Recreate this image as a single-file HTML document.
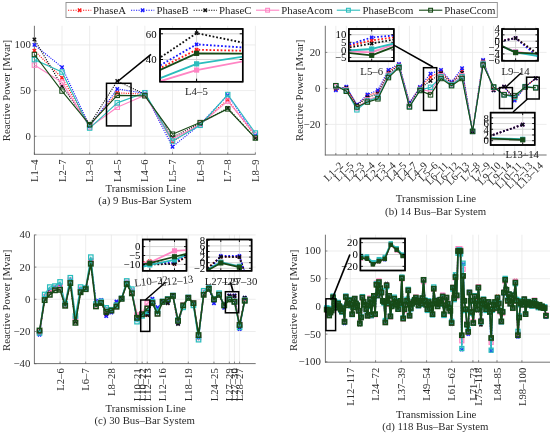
<!DOCTYPE html>
<html><head><meta charset="utf-8"><title>Reactive Power</title>
<style>html,body{margin:0;padding:0;background:#fff}svg{display:block;filter:blur(0.35px)}text{font-family:"Liberation Serif",serif}</style>
</head><body>
<svg width="550" height="435" viewBox="0 0 550 435">
<rect x="0" y="0" width="550" height="435" fill="#fff"/>
<rect x="66" y="2.5" width="431.3" height="15" fill="#fff" stroke="#8c8c8c" stroke-width="0.9"/>
<polyline points="68,10.2 91.3,10.2" fill="none" stroke="#ff1a1a" stroke-width="1.1" stroke-linejoin="round" stroke-dasharray="1.2 1.3"/>
<path d="M77.9 8.5L81.3 11.9M77.9 11.9L81.3 8.5" stroke="#ff1a1a" stroke-width="1.4" fill="none"/>
<text x="93" y="13.9" text-anchor="start" font-size="10.8" fill="#222">PhaseA</text>
<polyline points="131,10.2 154.3,10.2" fill="none" stroke="#1a1aff" stroke-width="1.1" stroke-linejoin="round" stroke-dasharray="1.2 1.3"/>
<path d="M140.9 8.5L144.3 11.9M140.9 11.9L144.3 8.5" stroke="#1a1aff" stroke-width="1.4" fill="none"/>
<text x="156.4" y="13.9" text-anchor="start" font-size="10.8" fill="#222">PhaseB</text>
<polyline points="193.6,10.2 216.9,10.2" fill="none" stroke="#111111" stroke-width="1.1" stroke-linejoin="round" stroke-dasharray="1.2 1.3"/>
<path d="M203.5 8.5L206.9 11.9M203.5 11.9L206.9 8.5" stroke="#111111" stroke-width="1.4" fill="none"/>
<text x="219" y="13.9" text-anchor="start" font-size="10.8" fill="#222">PhaseC</text>
<polyline points="256,10.2 279.3,10.2" fill="none" stroke="#ff85c4" stroke-width="1.1" stroke-linejoin="round"/>
<rect x="265.7" y="8.3" width="3.8" height="3.8" stroke="#ff85c4" stroke-width="1.1" fill="none"/>
<text x="281.3" y="13.9" text-anchor="start" font-size="10.8" fill="#222">PhaseAcom</text>
<polyline points="336.8,10.2 360.1,10.2" fill="none" stroke="#2bbdbd" stroke-width="1.1" stroke-linejoin="round"/>
<rect x="346.5" y="8.3" width="3.8" height="3.8" stroke="#2bbdbd" stroke-width="1.1" fill="none"/>
<text x="362.5" y="13.9" text-anchor="start" font-size="10.8" fill="#222">PhaseBcom</text>
<polyline points="419,10.2 442.3,10.2" fill="none" stroke="#174a17" stroke-width="1.1" stroke-linejoin="round"/>
<rect x="428.7" y="8.3" width="3.8" height="3.8" stroke="#174a17" stroke-width="1.1" fill="none"/>
<text x="444.3" y="13.9" text-anchor="start" font-size="10.8" fill="#222">PhaseCcom</text>
<line x1="62.02" y1="25.8" x2="62.02" y2="154.3" stroke="#e9e9e9" stroke-width="0.8"/>
<line x1="89.64" y1="25.8" x2="89.64" y2="154.3" stroke="#e9e9e9" stroke-width="0.8"/>
<line x1="117.26" y1="25.8" x2="117.26" y2="154.3" stroke="#e9e9e9" stroke-width="0.8"/>
<line x1="144.88" y1="25.8" x2="144.88" y2="154.3" stroke="#e9e9e9" stroke-width="0.8"/>
<line x1="172.5" y1="25.8" x2="172.5" y2="154.3" stroke="#e9e9e9" stroke-width="0.8"/>
<line x1="200.12" y1="25.8" x2="200.12" y2="154.3" stroke="#e9e9e9" stroke-width="0.8"/>
<line x1="227.74" y1="25.8" x2="227.74" y2="154.3" stroke="#e9e9e9" stroke-width="0.8"/>
<line x1="255.36" y1="25.8" x2="255.36" y2="154.3" stroke="#e9e9e9" stroke-width="0.8"/>
<line x1="34.4" y1="136.3" x2="255.5" y2="136.3" stroke="#e9e9e9" stroke-width="0.8"/>
<line x1="34.4" y1="90.6" x2="255.5" y2="90.6" stroke="#e9e9e9" stroke-width="0.8"/>
<line x1="34.4" y1="44.9" x2="255.5" y2="44.9" stroke="#e9e9e9" stroke-width="0.8"/>
<text x="30.8" y="139.7" text-anchor="end" font-size="10.8" fill="#2a2a2a">0</text>
<line x1="34.4" y1="136.3" x2="36.4" y2="136.3" stroke="#5a5a5a" stroke-width="0.7"/>
<text x="30.8" y="94" text-anchor="end" font-size="10.8" fill="#2a2a2a">50</text>
<line x1="34.4" y1="90.6" x2="36.4" y2="90.6" stroke="#5a5a5a" stroke-width="0.7"/>
<text x="30.8" y="48.3" text-anchor="end" font-size="10.8" fill="#2a2a2a">100</text>
<line x1="34.4" y1="44.9" x2="36.4" y2="44.9" stroke="#5a5a5a" stroke-width="0.7"/>
<text transform="translate(9.6 90.5) rotate(-90)" text-anchor="middle" font-size="10.8" fill="#2a2a2a">Reactive Power [Mvar]</text>
<text transform="translate(38 159.5) rotate(-90)" text-anchor="end" font-size="10.6" fill="#2a2a2a">L1–4</text>
<text transform="translate(65.62 159.5) rotate(-90)" text-anchor="end" font-size="10.6" fill="#2a2a2a">L2–7</text>
<text transform="translate(93.24 159.5) rotate(-90)" text-anchor="end" font-size="10.6" fill="#2a2a2a">L3–9</text>
<text transform="translate(120.86 159.5) rotate(-90)" text-anchor="end" font-size="10.6" fill="#2a2a2a">L4–5</text>
<text transform="translate(148.48 159.5) rotate(-90)" text-anchor="end" font-size="10.6" fill="#2a2a2a">L4–6</text>
<text transform="translate(176.1 159.5) rotate(-90)" text-anchor="end" font-size="10.6" fill="#2a2a2a">L5–7</text>
<text transform="translate(203.72 159.5) rotate(-90)" text-anchor="end" font-size="10.6" fill="#2a2a2a">L6–9</text>
<text transform="translate(231.34 159.5) rotate(-90)" text-anchor="end" font-size="10.6" fill="#2a2a2a">L7–8</text>
<text transform="translate(258.96 159.5) rotate(-90)" text-anchor="end" font-size="10.6" fill="#2a2a2a">L8–9</text>
<text x="145.7" y="192" text-anchor="middle" font-size="10.8" fill="#2a2a2a">Transmission Line</text>
<text x="145" y="204.4" text-anchor="middle" font-size="10.8" fill="#2a2a2a">(a) 9 Bus-Bar System</text>
<line x1="34.4" y1="25.8" x2="34.4" y2="154.7" stroke="#5a5a5a" stroke-width="0.85"/>
<line x1="34" y1="154.3" x2="255.5" y2="154.3" stroke="#5a5a5a" stroke-width="0.85"/>
<line x1="34.4" y1="154.3" x2="34.4" y2="152.3" stroke="#5a5a5a" stroke-width="0.7"/>
<line x1="62.02" y1="154.3" x2="62.02" y2="152.3" stroke="#5a5a5a" stroke-width="0.7"/>
<line x1="89.64" y1="154.3" x2="89.64" y2="152.3" stroke="#5a5a5a" stroke-width="0.7"/>
<line x1="117.26" y1="154.3" x2="117.26" y2="152.3" stroke="#5a5a5a" stroke-width="0.7"/>
<line x1="144.88" y1="154.3" x2="144.88" y2="152.3" stroke="#5a5a5a" stroke-width="0.7"/>
<line x1="172.5" y1="154.3" x2="172.5" y2="152.3" stroke="#5a5a5a" stroke-width="0.7"/>
<line x1="200.12" y1="154.3" x2="200.12" y2="152.3" stroke="#5a5a5a" stroke-width="0.7"/>
<line x1="227.74" y1="154.3" x2="227.74" y2="152.3" stroke="#5a5a5a" stroke-width="0.7"/>
<line x1="255.36" y1="154.3" x2="255.36" y2="152.3" stroke="#5a5a5a" stroke-width="0.7"/>
<polyline points="34.4,50.66 62.02,77.8 89.64,125.33 117.26,92.79 144.88,94.26 172.5,141.78 200.12,123.5 227.74,99.74 255.36,136.3" fill="none" stroke="#ff1a1a" stroke-width="1.15" stroke-linejoin="round" stroke-dasharray="1.09 1.21"/>
<path d="M32.7 48.96L36.1 52.36M32.7 52.36L36.1 48.96" stroke="#ff1a1a" stroke-width="1.37" fill="none"/>
<path d="M60.32 76.1L63.72 79.5M60.32 79.5L63.72 76.1" stroke="#ff1a1a" stroke-width="1.37" fill="none"/>
<path d="M87.94 123.63L91.34 127.03M87.94 127.03L91.34 123.63" stroke="#ff1a1a" stroke-width="1.37" fill="none"/>
<path d="M115.56 91.09L118.96 94.49M115.56 94.49L118.96 91.09" stroke="#ff1a1a" stroke-width="1.37" fill="none"/>
<path d="M143.18 92.56L146.58 95.96M143.18 95.96L146.58 92.56" stroke="#ff1a1a" stroke-width="1.37" fill="none"/>
<path d="M170.8 140.08L174.2 143.48M170.8 143.48L174.2 140.08" stroke="#ff1a1a" stroke-width="1.37" fill="none"/>
<path d="M198.42 121.8L201.82 125.2M198.42 125.2L201.82 121.8" stroke="#ff1a1a" stroke-width="1.37" fill="none"/>
<path d="M226.04 98.04L229.44 101.44M226.04 101.44L229.44 98.04" stroke="#ff1a1a" stroke-width="1.37" fill="none"/>
<path d="M253.66 134.6L257.06 138M253.66 138L257.06 134.6" stroke="#ff1a1a" stroke-width="1.37" fill="none"/>
<polyline points="34.4,44.9 62.02,67.2 89.64,126.25 117.26,88.95 144.88,93.34 172.5,146.72 200.12,124.42 227.74,95.17 255.36,135.39" fill="none" stroke="#1a1aff" stroke-width="1.15" stroke-linejoin="round" stroke-dasharray="1.09 1.21"/>
<path d="M32.7 43.2L36.1 46.6M32.7 46.6L36.1 43.2" stroke="#1a1aff" stroke-width="1.37" fill="none"/>
<path d="M60.32 65.5L63.72 68.9M60.32 68.9L63.72 65.5" stroke="#1a1aff" stroke-width="1.37" fill="none"/>
<path d="M87.94 124.55L91.34 127.95M87.94 127.95L91.34 124.55" stroke="#1a1aff" stroke-width="1.37" fill="none"/>
<path d="M115.56 87.25L118.96 90.65M115.56 90.65L118.96 87.25" stroke="#1a1aff" stroke-width="1.37" fill="none"/>
<path d="M143.18 91.64L146.58 95.04M143.18 95.04L146.58 91.64" stroke="#1a1aff" stroke-width="1.37" fill="none"/>
<path d="M170.8 145.02L174.2 148.42M170.8 148.42L174.2 145.02" stroke="#1a1aff" stroke-width="1.37" fill="none"/>
<path d="M198.42 122.72L201.82 126.12M198.42 126.12L201.82 122.72" stroke="#1a1aff" stroke-width="1.37" fill="none"/>
<path d="M226.04 93.47L229.44 96.87M226.04 96.87L229.44 93.47" stroke="#1a1aff" stroke-width="1.37" fill="none"/>
<path d="M253.66 133.69L257.06 137.09M253.66 137.09L257.06 133.69" stroke="#1a1aff" stroke-width="1.37" fill="none"/>
<polyline points="34.4,39.42 62.02,86.03 89.64,124.42 117.26,81 144.88,94.26 172.5,137.21 200.12,123.5 227.74,107.97 255.36,138.13" fill="none" stroke="#111111" stroke-width="1.15" stroke-linejoin="round" stroke-dasharray="1.09 1.21"/>
<path d="M32.7 37.72L36.1 41.12M32.7 41.12L36.1 37.72" stroke="#111111" stroke-width="1.37" fill="none"/>
<path d="M60.32 84.33L63.72 87.73M60.32 87.73L63.72 84.33" stroke="#111111" stroke-width="1.37" fill="none"/>
<path d="M87.94 122.72L91.34 126.12M87.94 126.12L91.34 122.72" stroke="#111111" stroke-width="1.37" fill="none"/>
<path d="M115.56 79.3L118.96 82.7M115.56 82.7L118.96 79.3" stroke="#111111" stroke-width="1.37" fill="none"/>
<path d="M143.18 92.56L146.58 95.96M143.18 95.96L146.58 92.56" stroke="#111111" stroke-width="1.37" fill="none"/>
<path d="M170.8 135.51L174.2 138.91M170.8 138.91L174.2 135.51" stroke="#111111" stroke-width="1.37" fill="none"/>
<path d="M198.42 121.8L201.82 125.2M198.42 125.2L201.82 121.8" stroke="#111111" stroke-width="1.37" fill="none"/>
<path d="M226.04 106.27L229.44 109.67M226.04 109.67L229.44 106.27" stroke="#111111" stroke-width="1.37" fill="none"/>
<path d="M253.66 136.43L257.06 139.83M253.66 139.83L257.06 136.43" stroke="#111111" stroke-width="1.37" fill="none"/>
<polyline points="34.4,65.1 62.02,82.37 89.64,127.16 117.26,107.23 144.88,95.17 172.5,139.04 200.12,124.42 227.74,101.11 255.36,134.47" fill="none" stroke="#ff85c4" stroke-width="1.15" stroke-linejoin="round"/>
<rect x="32.2" y="62.9" width="4.4" height="4.4" stroke="#ff85c4" stroke-width="1.05" fill="none"/>
<rect x="59.82" y="80.17" width="4.4" height="4.4" stroke="#ff85c4" stroke-width="1.05" fill="none"/>
<rect x="87.44" y="124.96" width="4.4" height="4.4" stroke="#ff85c4" stroke-width="1.05" fill="none"/>
<rect x="115.06" y="105.03" width="4.4" height="4.4" stroke="#ff85c4" stroke-width="1.05" fill="none"/>
<rect x="142.68" y="92.97" width="4.4" height="4.4" stroke="#ff85c4" stroke-width="1.05" fill="none"/>
<rect x="170.3" y="136.84" width="4.4" height="4.4" stroke="#ff85c4" stroke-width="1.05" fill="none"/>
<rect x="197.92" y="122.22" width="4.4" height="4.4" stroke="#ff85c4" stroke-width="1.05" fill="none"/>
<rect x="225.54" y="98.91" width="4.4" height="4.4" stroke="#ff85c4" stroke-width="1.05" fill="none"/>
<rect x="253.16" y="132.27" width="4.4" height="4.4" stroke="#ff85c4" stroke-width="1.05" fill="none"/>
<polyline points="34.4,59.62 62.02,72.05 89.64,128.07 117.26,102.85 144.88,92.7 172.5,141.05 200.12,125.33 227.74,94.53 255.36,133.01" fill="none" stroke="#2bbdbd" stroke-width="1.15" stroke-linejoin="round"/>
<rect x="32.2" y="57.42" width="4.4" height="4.4" stroke="#2bbdbd" stroke-width="1.05" fill="none"/>
<rect x="59.82" y="69.85" width="4.4" height="4.4" stroke="#2bbdbd" stroke-width="1.05" fill="none"/>
<rect x="87.44" y="125.87" width="4.4" height="4.4" stroke="#2bbdbd" stroke-width="1.05" fill="none"/>
<rect x="115.06" y="100.65" width="4.4" height="4.4" stroke="#2bbdbd" stroke-width="1.05" fill="none"/>
<rect x="142.68" y="90.5" width="4.4" height="4.4" stroke="#2bbdbd" stroke-width="1.05" fill="none"/>
<rect x="170.3" y="138.85" width="4.4" height="4.4" stroke="#2bbdbd" stroke-width="1.05" fill="none"/>
<rect x="197.92" y="123.13" width="4.4" height="4.4" stroke="#2bbdbd" stroke-width="1.05" fill="none"/>
<rect x="225.54" y="92.33" width="4.4" height="4.4" stroke="#2bbdbd" stroke-width="1.05" fill="none"/>
<rect x="253.16" y="130.81" width="4.4" height="4.4" stroke="#2bbdbd" stroke-width="1.05" fill="none"/>
<polyline points="34.4,54.5 62.02,91.06 89.64,124.69 117.26,95.35 144.88,95.81 172.5,134.2 200.12,122.59 227.74,108.88 255.36,138.04" fill="none" stroke="#174a17" stroke-width="1.15" stroke-linejoin="round"/>
<rect x="32.2" y="52.3" width="4.4" height="4.4" stroke="#174a17" stroke-width="1.05" fill="none"/>
<rect x="59.82" y="88.86" width="4.4" height="4.4" stroke="#174a17" stroke-width="1.05" fill="none"/>
<rect x="87.44" y="122.49" width="4.4" height="4.4" stroke="#174a17" stroke-width="1.05" fill="none"/>
<rect x="115.06" y="93.15" width="4.4" height="4.4" stroke="#174a17" stroke-width="1.05" fill="none"/>
<rect x="142.68" y="93.61" width="4.4" height="4.4" stroke="#174a17" stroke-width="1.05" fill="none"/>
<rect x="170.3" y="132" width="4.4" height="4.4" stroke="#174a17" stroke-width="1.05" fill="none"/>
<rect x="197.92" y="120.39" width="4.4" height="4.4" stroke="#174a17" stroke-width="1.05" fill="none"/>
<rect x="225.54" y="106.68" width="4.4" height="4.4" stroke="#174a17" stroke-width="1.05" fill="none"/>
<rect x="253.16" y="135.84" width="4.4" height="4.4" stroke="#174a17" stroke-width="1.05" fill="none"/>
<rect x="106.5" y="83.3" width="24.5" height="42.6" stroke="#000" stroke-width="1.5" fill="none"/>
<line x1="117.6" y1="81.5" x2="151" y2="54.4" stroke="#000" stroke-width="1.6"/>
<rect x="160" y="28.9" width="82.7" height="52.8" stroke="#000" stroke-width="1.45" fill="#fff"/>
<clipPath id="ca"><rect x="160" y="28.9" width="82.7" height="52.8"/></clipPath>
<line x1="160" y1="33.8" x2="242.7" y2="33.8" stroke="#cfcfcf" stroke-width="0.9"/>
<line x1="160" y1="59.5" x2="242.7" y2="59.5" stroke="#cfcfcf" stroke-width="0.9"/>
<line x1="196.6" y1="28.9" x2="196.6" y2="81.7" stroke="#cfcfcf" stroke-width="0.9"/>
<g clip-path="url(#ca)">
<polyline points="105.7,95.48 196.6,49.73 287.5,51.79" fill="none" stroke="#ff1a1a" stroke-width="1.85" stroke-linejoin="round" stroke-dasharray="1.76 1.94"/>
<path d="M104.1 93.88L107.3 97.08M104.1 97.08L107.3 93.88" stroke="#ff1a1a" stroke-width="1.56" fill="none"/>
<path d="M195 48.13L198.2 51.33M195 51.33L198.2 48.13" stroke="#ff1a1a" stroke-width="1.56" fill="none"/>
<path d="M285.9 50.19L289.1 53.39M285.9 53.39L289.1 50.19" stroke="#ff1a1a" stroke-width="1.56" fill="none"/>
<polyline points="105.7,96.77 196.6,44.34 287.5,50.51" fill="none" stroke="#1a1aff" stroke-width="1.85" stroke-linejoin="round" stroke-dasharray="1.76 1.94"/>
<path d="M104.1 95.17L107.3 98.36M104.1 98.36L107.3 95.17" stroke="#1a1aff" stroke-width="1.56" fill="none"/>
<path d="M195 42.74L198.2 45.94M195 45.94L198.2 42.74" stroke="#1a1aff" stroke-width="1.56" fill="none"/>
<path d="M285.9 48.91L289.1 52.11M285.9 52.11L289.1 48.91" stroke="#1a1aff" stroke-width="1.56" fill="none"/>
<polyline points="105.7,94.19 196.6,33.16 287.5,51.79" fill="none" stroke="#111111" stroke-width="1.85" stroke-linejoin="round" stroke-dasharray="1.76 1.94"/>
<path d="M104.1 92.59L107.3 95.79M104.1 95.79L107.3 92.59" stroke="#111111" stroke-width="1.56" fill="none"/>
<path d="M195 31.56L198.2 34.76M195 34.76L198.2 31.56" stroke="#111111" stroke-width="1.56" fill="none"/>
<path d="M285.9 50.19L289.1 53.39M285.9 53.39L289.1 50.19" stroke="#111111" stroke-width="1.56" fill="none"/>
<polyline points="105.7,98.05 196.6,70.04 287.5,53.08" fill="none" stroke="#ff85c4" stroke-width="1.85" stroke-linejoin="round"/>
<rect x="103.7" y="96.05" width="4" height="4" stroke="#ff85c4" stroke-width="1.2" fill="#ff85c4"/>
<rect x="194.6" y="68.04" width="4" height="4" stroke="#ff85c4" stroke-width="1.2" fill="#ff85c4"/>
<rect x="285.5" y="51.08" width="4" height="4" stroke="#ff85c4" stroke-width="1.2" fill="#ff85c4"/>
<polyline points="105.7,99.34 196.6,63.87 287.5,49.61" fill="none" stroke="#2bbdbd" stroke-width="1.85" stroke-linejoin="round"/>
<rect x="103.7" y="97.34" width="4" height="4" stroke="#2bbdbd" stroke-width="1.2" fill="#2bbdbd"/>
<rect x="194.6" y="61.87" width="4" height="4" stroke="#2bbdbd" stroke-width="1.2" fill="#2bbdbd"/>
<rect x="285.5" y="47.61" width="4" height="4" stroke="#2bbdbd" stroke-width="1.2" fill="#2bbdbd"/>
<polyline points="105.7,94.58 196.6,53.33 287.5,53.97" fill="none" stroke="#174a17" stroke-width="1.85" stroke-linejoin="round"/>
<rect x="103.7" y="92.58" width="4" height="4" stroke="#174a17" stroke-width="1.2" fill="#174a17"/>
<rect x="194.6" y="51.33" width="4" height="4" stroke="#174a17" stroke-width="1.2" fill="#174a17"/>
<rect x="285.5" y="51.97" width="4" height="4" stroke="#174a17" stroke-width="1.2" fill="#174a17"/>
</g>
<rect x="160" y="28.9" width="82.7" height="52.8" stroke="#000" stroke-width="1.45" fill="none"/>
<line x1="196.6" y1="28.9" x2="196.6" y2="31.9" stroke="#000" stroke-width="1"/>
<line x1="196.6" y1="81.7" x2="196.6" y2="78.7" stroke="#000" stroke-width="1"/>
<line x1="160" y1="59.5" x2="163" y2="59.5" stroke="#000" stroke-width="1"/>
<line x1="242.7" y1="59.5" x2="239.7" y2="59.5" stroke="#000" stroke-width="1"/>
<line x1="160" y1="33.8" x2="163" y2="33.8" stroke="#000" stroke-width="1"/>
<line x1="242.7" y1="33.8" x2="239.7" y2="33.8" stroke="#000" stroke-width="1"/>
<text x="156.6" y="37.6" text-anchor="end" font-size="10.8" fill="#000">60</text>
<text x="156.6" y="63.3" text-anchor="end" font-size="10.8" fill="#000">40</text>
<text x="196.4" y="95" text-anchor="middle" font-size="10.8" fill="#222">L4–5</text>
<line x1="335.82" y1="25.8" x2="335.82" y2="155" stroke="#e9e9e9" stroke-width="0.8"/>
<line x1="346.34" y1="25.8" x2="346.34" y2="155" stroke="#e9e9e9" stroke-width="0.8"/>
<line x1="356.86" y1="25.8" x2="356.86" y2="155" stroke="#e9e9e9" stroke-width="0.8"/>
<line x1="367.38" y1="25.8" x2="367.38" y2="155" stroke="#e9e9e9" stroke-width="0.8"/>
<line x1="377.9" y1="25.8" x2="377.9" y2="155" stroke="#e9e9e9" stroke-width="0.8"/>
<line x1="388.42" y1="25.8" x2="388.42" y2="155" stroke="#e9e9e9" stroke-width="0.8"/>
<line x1="398.94" y1="25.8" x2="398.94" y2="155" stroke="#e9e9e9" stroke-width="0.8"/>
<line x1="409.46" y1="25.8" x2="409.46" y2="155" stroke="#e9e9e9" stroke-width="0.8"/>
<line x1="419.98" y1="25.8" x2="419.98" y2="155" stroke="#e9e9e9" stroke-width="0.8"/>
<line x1="430.5" y1="25.8" x2="430.5" y2="155" stroke="#e9e9e9" stroke-width="0.8"/>
<line x1="441.02" y1="25.8" x2="441.02" y2="155" stroke="#e9e9e9" stroke-width="0.8"/>
<line x1="451.54" y1="25.8" x2="451.54" y2="155" stroke="#e9e9e9" stroke-width="0.8"/>
<line x1="462.06" y1="25.8" x2="462.06" y2="155" stroke="#e9e9e9" stroke-width="0.8"/>
<line x1="472.58" y1="25.8" x2="472.58" y2="155" stroke="#e9e9e9" stroke-width="0.8"/>
<line x1="483.1" y1="25.8" x2="483.1" y2="155" stroke="#e9e9e9" stroke-width="0.8"/>
<line x1="493.62" y1="25.8" x2="493.62" y2="155" stroke="#e9e9e9" stroke-width="0.8"/>
<line x1="504.14" y1="25.8" x2="504.14" y2="155" stroke="#e9e9e9" stroke-width="0.8"/>
<line x1="514.66" y1="25.8" x2="514.66" y2="155" stroke="#e9e9e9" stroke-width="0.8"/>
<line x1="525.18" y1="25.8" x2="525.18" y2="155" stroke="#e9e9e9" stroke-width="0.8"/>
<line x1="535.7" y1="25.8" x2="535.7" y2="155" stroke="#e9e9e9" stroke-width="0.8"/>
<line x1="325.3" y1="52.4" x2="546.6" y2="52.4" stroke="#e9e9e9" stroke-width="0.8"/>
<line x1="325.3" y1="88.4" x2="546.6" y2="88.4" stroke="#e9e9e9" stroke-width="0.8"/>
<line x1="325.3" y1="124.4" x2="546.6" y2="124.4" stroke="#e9e9e9" stroke-width="0.8"/>
<text x="320.5" y="55.8" text-anchor="end" font-size="10.8" fill="#2a2a2a">20</text>
<line x1="325.3" y1="52.4" x2="327.3" y2="52.4" stroke="#5a5a5a" stroke-width="0.7"/>
<text x="320.5" y="91.8" text-anchor="end" font-size="10.8" fill="#2a2a2a">0</text>
<line x1="325.3" y1="88.4" x2="327.3" y2="88.4" stroke="#5a5a5a" stroke-width="0.7"/>
<text x="320.5" y="127.8" text-anchor="end" font-size="10.8" fill="#2a2a2a">−20</text>
<line x1="325.3" y1="124.4" x2="327.3" y2="124.4" stroke="#5a5a5a" stroke-width="0.7"/>
<text transform="translate(302.8 90.3) rotate(-90)" text-anchor="middle" font-size="10.8" fill="#2a2a2a">Reactive Power [Mvar]</text>
<text transform="translate(343.82 166.2) rotate(-45)" text-anchor="end" font-size="10.6" fill="#2a2a2a">L1–2</text>
<text transform="translate(354.34 166.2) rotate(-45)" text-anchor="end" font-size="10.6" fill="#2a2a2a">L1–5</text>
<text transform="translate(364.86 166.2) rotate(-45)" text-anchor="end" font-size="10.6" fill="#2a2a2a">L2–3</text>
<text transform="translate(375.38 166.2) rotate(-45)" text-anchor="end" font-size="10.6" fill="#2a2a2a">L2–4</text>
<text transform="translate(385.9 166.2) rotate(-45)" text-anchor="end" font-size="10.6" fill="#2a2a2a">L2–5</text>
<text transform="translate(396.42 166.2) rotate(-45)" text-anchor="end" font-size="10.6" fill="#2a2a2a">L3–4</text>
<text transform="translate(406.94 166.2) rotate(-45)" text-anchor="end" font-size="10.6" fill="#2a2a2a">L4–5</text>
<text transform="translate(417.46 166.2) rotate(-45)" text-anchor="end" font-size="10.6" fill="#2a2a2a">L4–7</text>
<text transform="translate(427.98 166.2) rotate(-45)" text-anchor="end" font-size="10.6" fill="#2a2a2a">L4–9</text>
<text transform="translate(438.5 166.2) rotate(-45)" text-anchor="end" font-size="10.6" fill="#2a2a2a">L5–6</text>
<text transform="translate(449.02 166.2) rotate(-45)" text-anchor="end" font-size="10.6" fill="#2a2a2a">L6–11</text>
<text transform="translate(459.54 166.2) rotate(-45)" text-anchor="end" font-size="10.6" fill="#2a2a2a">L6–12</text>
<text transform="translate(470.06 166.2) rotate(-45)" text-anchor="end" font-size="10.6" fill="#2a2a2a">L6–13</text>
<text transform="translate(480.58 166.2) rotate(-45)" text-anchor="end" font-size="10.6" fill="#2a2a2a">L7–8</text>
<text transform="translate(491.1 166.2) rotate(-45)" text-anchor="end" font-size="10.6" fill="#2a2a2a">L7–9</text>
<text transform="translate(501.62 166.2) rotate(-45)" text-anchor="end" font-size="10.6" fill="#2a2a2a">L9–10</text>
<text transform="translate(512.14 166.2) rotate(-45)" text-anchor="end" font-size="10.6" fill="#2a2a2a">L9–14</text>
<text transform="translate(522.66 166.2) rotate(-45)" text-anchor="end" font-size="10.6" fill="#2a2a2a">L10–11</text>
<text transform="translate(533.18 166.2) rotate(-45)" text-anchor="end" font-size="10.6" fill="#2a2a2a">L12–13</text>
<text transform="translate(543.7 166.2) rotate(-45)" text-anchor="end" font-size="10.6" fill="#2a2a2a">L13–14</text>
<text x="436" y="202" text-anchor="middle" font-size="10.8" fill="#2a2a2a">Transmission Line</text>
<text x="435.6" y="214.9" text-anchor="middle" font-size="10.8" fill="#2a2a2a">(b) 14 Bus–Bar System</text>
<line x1="325.3" y1="25.8" x2="325.3" y2="155.4" stroke="#5a5a5a" stroke-width="0.85"/>
<line x1="324.9" y1="155" x2="546.6" y2="155" stroke="#5a5a5a" stroke-width="0.85"/>
<line x1="335.82" y1="155" x2="335.82" y2="153" stroke="#5a5a5a" stroke-width="0.7"/>
<line x1="346.34" y1="155" x2="346.34" y2="153" stroke="#5a5a5a" stroke-width="0.7"/>
<line x1="356.86" y1="155" x2="356.86" y2="153" stroke="#5a5a5a" stroke-width="0.7"/>
<line x1="367.38" y1="155" x2="367.38" y2="153" stroke="#5a5a5a" stroke-width="0.7"/>
<line x1="377.9" y1="155" x2="377.9" y2="153" stroke="#5a5a5a" stroke-width="0.7"/>
<line x1="388.42" y1="155" x2="388.42" y2="153" stroke="#5a5a5a" stroke-width="0.7"/>
<line x1="398.94" y1="155" x2="398.94" y2="153" stroke="#5a5a5a" stroke-width="0.7"/>
<line x1="409.46" y1="155" x2="409.46" y2="153" stroke="#5a5a5a" stroke-width="0.7"/>
<line x1="419.98" y1="155" x2="419.98" y2="153" stroke="#5a5a5a" stroke-width="0.7"/>
<line x1="430.5" y1="155" x2="430.5" y2="153" stroke="#5a5a5a" stroke-width="0.7"/>
<line x1="441.02" y1="155" x2="441.02" y2="153" stroke="#5a5a5a" stroke-width="0.7"/>
<line x1="451.54" y1="155" x2="451.54" y2="153" stroke="#5a5a5a" stroke-width="0.7"/>
<line x1="462.06" y1="155" x2="462.06" y2="153" stroke="#5a5a5a" stroke-width="0.7"/>
<line x1="472.58" y1="155" x2="472.58" y2="153" stroke="#5a5a5a" stroke-width="0.7"/>
<line x1="483.1" y1="155" x2="483.1" y2="153" stroke="#5a5a5a" stroke-width="0.7"/>
<line x1="493.62" y1="155" x2="493.62" y2="153" stroke="#5a5a5a" stroke-width="0.7"/>
<line x1="504.14" y1="155" x2="504.14" y2="153" stroke="#5a5a5a" stroke-width="0.7"/>
<line x1="514.66" y1="155" x2="514.66" y2="153" stroke="#5a5a5a" stroke-width="0.7"/>
<line x1="525.18" y1="155" x2="525.18" y2="153" stroke="#5a5a5a" stroke-width="0.7"/>
<line x1="535.7" y1="155" x2="535.7" y2="153" stroke="#5a5a5a" stroke-width="0.7"/>
<polyline points="335.82,89.3 346.34,87.32 356.86,104.96 367.38,95.96 377.9,92 388.42,71.48 398.94,64.64 409.46,103.34 419.98,87.68 430.5,77.06 441.02,71.48 451.54,82.64 462.06,70.4 472.58,131.42 483.1,60.86 493.62,89.84 504.14,86.6 514.66,99.2 525.18,86.96 535.7,78.32" fill="none" stroke="#ff1a1a" stroke-width="1.15" stroke-linejoin="round" stroke-dasharray="1.09 1.21"/>
<path d="M334.12 87.6L337.52 91M334.12 91L337.52 87.6" stroke="#ff1a1a" stroke-width="1.37" fill="none"/>
<path d="M344.64 85.62L348.04 89.02M344.64 89.02L348.04 85.62" stroke="#ff1a1a" stroke-width="1.37" fill="none"/>
<path d="M355.16 103.26L358.56 106.66M355.16 106.66L358.56 103.26" stroke="#ff1a1a" stroke-width="1.37" fill="none"/>
<path d="M365.68 94.26L369.08 97.66M365.68 97.66L369.08 94.26" stroke="#ff1a1a" stroke-width="1.37" fill="none"/>
<path d="M376.2 90.3L379.6 93.7M376.2 93.7L379.6 90.3" stroke="#ff1a1a" stroke-width="1.37" fill="none"/>
<path d="M386.72 69.78L390.12 73.18M386.72 73.18L390.12 69.78" stroke="#ff1a1a" stroke-width="1.37" fill="none"/>
<path d="M397.24 62.94L400.64 66.34M397.24 66.34L400.64 62.94" stroke="#ff1a1a" stroke-width="1.37" fill="none"/>
<path d="M407.76 101.64L411.16 105.04M407.76 105.04L411.16 101.64" stroke="#ff1a1a" stroke-width="1.37" fill="none"/>
<path d="M418.28 85.98L421.68 89.38M418.28 89.38L421.68 85.98" stroke="#ff1a1a" stroke-width="1.37" fill="none"/>
<path d="M428.8 75.36L432.2 78.76M428.8 78.76L432.2 75.36" stroke="#ff1a1a" stroke-width="1.37" fill="none"/>
<path d="M439.32 69.78L442.72 73.18M439.32 73.18L442.72 69.78" stroke="#ff1a1a" stroke-width="1.37" fill="none"/>
<path d="M449.84 80.94L453.24 84.34M449.84 84.34L453.24 80.94" stroke="#ff1a1a" stroke-width="1.37" fill="none"/>
<path d="M460.36 68.7L463.76 72.1M460.36 72.1L463.76 68.7" stroke="#ff1a1a" stroke-width="1.37" fill="none"/>
<path d="M470.88 129.72L474.28 133.12M470.88 133.12L474.28 129.72" stroke="#ff1a1a" stroke-width="1.37" fill="none"/>
<path d="M481.4 59.16L484.8 62.56M481.4 62.56L484.8 59.16" stroke="#ff1a1a" stroke-width="1.37" fill="none"/>
<path d="M491.92 88.14L495.32 91.54M491.92 91.54L495.32 88.14" stroke="#ff1a1a" stroke-width="1.37" fill="none"/>
<path d="M502.44 84.9L505.84 88.3M502.44 88.3L505.84 84.9" stroke="#ff1a1a" stroke-width="1.37" fill="none"/>
<path d="M512.96 97.5L516.36 100.9M512.96 100.9L516.36 97.5" stroke="#ff1a1a" stroke-width="1.37" fill="none"/>
<path d="M523.48 85.26L526.88 88.66M523.48 88.66L526.88 85.26" stroke="#ff1a1a" stroke-width="1.37" fill="none"/>
<path d="M534 76.62L537.4 80.02M534 80.02L537.4 76.62" stroke="#ff1a1a" stroke-width="1.37" fill="none"/>
<polyline points="335.82,90.2 346.34,86.6 356.86,104.6 367.38,94.52 377.9,90.2 388.42,69.86 398.94,63.92 409.46,102.62 419.98,86.96 430.5,73.64 441.02,69.86 451.54,81.92 462.06,68.24 472.58,131.42 483.1,59.96 493.62,90.2 504.14,86.6 514.66,100.46 525.18,86.96 535.7,78.32" fill="none" stroke="#1a1aff" stroke-width="1.15" stroke-linejoin="round" stroke-dasharray="1.09 1.21"/>
<path d="M334.12 88.5L337.52 91.9M334.12 91.9L337.52 88.5" stroke="#1a1aff" stroke-width="1.37" fill="none"/>
<path d="M344.64 84.9L348.04 88.3M344.64 88.3L348.04 84.9" stroke="#1a1aff" stroke-width="1.37" fill="none"/>
<path d="M355.16 102.9L358.56 106.3M355.16 106.3L358.56 102.9" stroke="#1a1aff" stroke-width="1.37" fill="none"/>
<path d="M365.68 92.82L369.08 96.22M365.68 96.22L369.08 92.82" stroke="#1a1aff" stroke-width="1.37" fill="none"/>
<path d="M376.2 88.5L379.6 91.9M376.2 91.9L379.6 88.5" stroke="#1a1aff" stroke-width="1.37" fill="none"/>
<path d="M386.72 68.16L390.12 71.56M386.72 71.56L390.12 68.16" stroke="#1a1aff" stroke-width="1.37" fill="none"/>
<path d="M397.24 62.22L400.64 65.62M397.24 65.62L400.64 62.22" stroke="#1a1aff" stroke-width="1.37" fill="none"/>
<path d="M407.76 100.92L411.16 104.32M407.76 104.32L411.16 100.92" stroke="#1a1aff" stroke-width="1.37" fill="none"/>
<path d="M418.28 85.26L421.68 88.66M418.28 88.66L421.68 85.26" stroke="#1a1aff" stroke-width="1.37" fill="none"/>
<path d="M428.8 71.94L432.2 75.34M428.8 75.34L432.2 71.94" stroke="#1a1aff" stroke-width="1.37" fill="none"/>
<path d="M439.32 68.16L442.72 71.56M439.32 71.56L442.72 68.16" stroke="#1a1aff" stroke-width="1.37" fill="none"/>
<path d="M449.84 80.22L453.24 83.62M449.84 83.62L453.24 80.22" stroke="#1a1aff" stroke-width="1.37" fill="none"/>
<path d="M460.36 66.54L463.76 69.94M460.36 69.94L463.76 66.54" stroke="#1a1aff" stroke-width="1.37" fill="none"/>
<path d="M470.88 129.72L474.28 133.12M470.88 133.12L474.28 129.72" stroke="#1a1aff" stroke-width="1.37" fill="none"/>
<path d="M481.4 58.26L484.8 61.66M481.4 61.66L484.8 58.26" stroke="#1a1aff" stroke-width="1.37" fill="none"/>
<path d="M491.92 88.5L495.32 91.9M491.92 91.9L495.32 88.5" stroke="#1a1aff" stroke-width="1.37" fill="none"/>
<path d="M502.44 84.9L505.84 88.3M502.44 88.3L505.84 84.9" stroke="#1a1aff" stroke-width="1.37" fill="none"/>
<path d="M512.96 98.76L516.36 102.16M512.96 102.16L516.36 98.76" stroke="#1a1aff" stroke-width="1.37" fill="none"/>
<path d="M523.48 85.26L526.88 88.66M523.48 88.66L526.88 85.26" stroke="#1a1aff" stroke-width="1.37" fill="none"/>
<path d="M534 76.62L537.4 80.02M534 80.02L537.4 76.62" stroke="#1a1aff" stroke-width="1.37" fill="none"/>
<polyline points="335.82,88.4 346.34,88.04 356.86,105.32 367.38,97.4 377.9,93.8 388.42,73.28 398.94,65.36 409.46,104.24 419.98,88.4 430.5,80.84 441.02,73.28 451.54,83.36 462.06,72.92 472.58,131.42 483.1,61.76 493.62,90.2 504.14,86.6 514.66,98.3 525.18,86.96 535.7,78.32" fill="none" stroke="#111111" stroke-width="1.15" stroke-linejoin="round" stroke-dasharray="1.09 1.21"/>
<path d="M334.12 86.7L337.52 90.1M334.12 90.1L337.52 86.7" stroke="#111111" stroke-width="1.37" fill="none"/>
<path d="M344.64 86.34L348.04 89.74M344.64 89.74L348.04 86.34" stroke="#111111" stroke-width="1.37" fill="none"/>
<path d="M355.16 103.62L358.56 107.02M355.16 107.02L358.56 103.62" stroke="#111111" stroke-width="1.37" fill="none"/>
<path d="M365.68 95.7L369.08 99.1M365.68 99.1L369.08 95.7" stroke="#111111" stroke-width="1.37" fill="none"/>
<path d="M376.2 92.1L379.6 95.5M376.2 95.5L379.6 92.1" stroke="#111111" stroke-width="1.37" fill="none"/>
<path d="M386.72 71.58L390.12 74.98M386.72 74.98L390.12 71.58" stroke="#111111" stroke-width="1.37" fill="none"/>
<path d="M397.24 63.66L400.64 67.06M397.24 67.06L400.64 63.66" stroke="#111111" stroke-width="1.37" fill="none"/>
<path d="M407.76 102.54L411.16 105.94M407.76 105.94L411.16 102.54" stroke="#111111" stroke-width="1.37" fill="none"/>
<path d="M418.28 86.7L421.68 90.1M418.28 90.1L421.68 86.7" stroke="#111111" stroke-width="1.37" fill="none"/>
<path d="M428.8 79.14L432.2 82.54M428.8 82.54L432.2 79.14" stroke="#111111" stroke-width="1.37" fill="none"/>
<path d="M439.32 71.58L442.72 74.98M439.32 74.98L442.72 71.58" stroke="#111111" stroke-width="1.37" fill="none"/>
<path d="M449.84 81.66L453.24 85.06M449.84 85.06L453.24 81.66" stroke="#111111" stroke-width="1.37" fill="none"/>
<path d="M460.36 71.22L463.76 74.62M460.36 74.62L463.76 71.22" stroke="#111111" stroke-width="1.37" fill="none"/>
<path d="M470.88 129.72L474.28 133.12M470.88 133.12L474.28 129.72" stroke="#111111" stroke-width="1.37" fill="none"/>
<path d="M481.4 60.06L484.8 63.46M481.4 63.46L484.8 60.06" stroke="#111111" stroke-width="1.37" fill="none"/>
<path d="M491.92 88.5L495.32 91.9M491.92 91.9L495.32 88.5" stroke="#111111" stroke-width="1.37" fill="none"/>
<path d="M502.44 84.9L505.84 88.3M502.44 88.3L505.84 84.9" stroke="#111111" stroke-width="1.37" fill="none"/>
<path d="M512.96 96.6L516.36 100M512.96 100L516.36 96.6" stroke="#111111" stroke-width="1.37" fill="none"/>
<path d="M523.48 85.26L526.88 88.66M523.48 88.66L526.88 85.26" stroke="#111111" stroke-width="1.37" fill="none"/>
<path d="M534 76.62L537.4 80.02M534 80.02L537.4 76.62" stroke="#111111" stroke-width="1.37" fill="none"/>
<polyline points="335.82,86.6 346.34,89.84 356.86,107.84 367.38,99.92 377.9,96.32 388.42,75.08 398.94,66.44 409.46,105.68 419.98,89.48 430.5,91.28 441.02,75.8 451.54,84.44 462.06,75.8 472.58,131.42 483.1,63.2 493.62,87.68 504.14,94.34 514.66,96.5 525.18,86.96 535.7,87.68" fill="none" stroke="#ff85c4" stroke-width="1.15" stroke-linejoin="round"/>
<rect x="333.62" y="84.4" width="4.4" height="4.4" stroke="#ff85c4" stroke-width="1.05" fill="none"/>
<rect x="344.14" y="87.64" width="4.4" height="4.4" stroke="#ff85c4" stroke-width="1.05" fill="none"/>
<rect x="354.66" y="105.64" width="4.4" height="4.4" stroke="#ff85c4" stroke-width="1.05" fill="none"/>
<rect x="365.18" y="97.72" width="4.4" height="4.4" stroke="#ff85c4" stroke-width="1.05" fill="none"/>
<rect x="375.7" y="94.12" width="4.4" height="4.4" stroke="#ff85c4" stroke-width="1.05" fill="none"/>
<rect x="386.22" y="72.88" width="4.4" height="4.4" stroke="#ff85c4" stroke-width="1.05" fill="none"/>
<rect x="396.74" y="64.24" width="4.4" height="4.4" stroke="#ff85c4" stroke-width="1.05" fill="none"/>
<rect x="407.26" y="103.48" width="4.4" height="4.4" stroke="#ff85c4" stroke-width="1.05" fill="none"/>
<rect x="417.78" y="87.28" width="4.4" height="4.4" stroke="#ff85c4" stroke-width="1.05" fill="none"/>
<rect x="428.3" y="89.08" width="4.4" height="4.4" stroke="#ff85c4" stroke-width="1.05" fill="none"/>
<rect x="438.82" y="73.6" width="4.4" height="4.4" stroke="#ff85c4" stroke-width="1.05" fill="none"/>
<rect x="449.34" y="82.24" width="4.4" height="4.4" stroke="#ff85c4" stroke-width="1.05" fill="none"/>
<rect x="459.86" y="73.6" width="4.4" height="4.4" stroke="#ff85c4" stroke-width="1.05" fill="none"/>
<rect x="470.38" y="129.22" width="4.4" height="4.4" stroke="#ff85c4" stroke-width="1.05" fill="none"/>
<rect x="480.9" y="61" width="4.4" height="4.4" stroke="#ff85c4" stroke-width="1.05" fill="none"/>
<rect x="491.42" y="85.48" width="4.4" height="4.4" stroke="#ff85c4" stroke-width="1.05" fill="none"/>
<rect x="501.94" y="92.14" width="4.4" height="4.4" stroke="#ff85c4" stroke-width="1.05" fill="none"/>
<rect x="512.46" y="94.3" width="4.4" height="4.4" stroke="#ff85c4" stroke-width="1.05" fill="none"/>
<rect x="522.98" y="84.76" width="4.4" height="4.4" stroke="#ff85c4" stroke-width="1.05" fill="none"/>
<rect x="533.5" y="85.48" width="4.4" height="4.4" stroke="#ff85c4" stroke-width="1.05" fill="none"/>
<polyline points="335.82,85.7 346.34,90.56 356.86,109.82 367.38,101 377.9,97.4 388.42,76.16 398.94,66.8 409.46,106.4 419.98,90.02 430.5,87.32 441.02,76.88 451.54,84.98 462.06,76.88 472.58,131.42 483.1,64.1 493.62,87.32 504.14,94.7 514.66,97.4 525.18,86.6 535.7,87.5" fill="none" stroke="#2bbdbd" stroke-width="1.15" stroke-linejoin="round"/>
<rect x="333.62" y="83.5" width="4.4" height="4.4" stroke="#2bbdbd" stroke-width="1.05" fill="none"/>
<rect x="344.14" y="88.36" width="4.4" height="4.4" stroke="#2bbdbd" stroke-width="1.05" fill="none"/>
<rect x="354.66" y="107.62" width="4.4" height="4.4" stroke="#2bbdbd" stroke-width="1.05" fill="none"/>
<rect x="365.18" y="98.8" width="4.4" height="4.4" stroke="#2bbdbd" stroke-width="1.05" fill="none"/>
<rect x="375.7" y="95.2" width="4.4" height="4.4" stroke="#2bbdbd" stroke-width="1.05" fill="none"/>
<rect x="386.22" y="73.96" width="4.4" height="4.4" stroke="#2bbdbd" stroke-width="1.05" fill="none"/>
<rect x="396.74" y="64.6" width="4.4" height="4.4" stroke="#2bbdbd" stroke-width="1.05" fill="none"/>
<rect x="407.26" y="104.2" width="4.4" height="4.4" stroke="#2bbdbd" stroke-width="1.05" fill="none"/>
<rect x="417.78" y="87.82" width="4.4" height="4.4" stroke="#2bbdbd" stroke-width="1.05" fill="none"/>
<rect x="428.3" y="85.12" width="4.4" height="4.4" stroke="#2bbdbd" stroke-width="1.05" fill="none"/>
<rect x="438.82" y="74.68" width="4.4" height="4.4" stroke="#2bbdbd" stroke-width="1.05" fill="none"/>
<rect x="449.34" y="82.78" width="4.4" height="4.4" stroke="#2bbdbd" stroke-width="1.05" fill="none"/>
<rect x="459.86" y="74.68" width="4.4" height="4.4" stroke="#2bbdbd" stroke-width="1.05" fill="none"/>
<rect x="470.38" y="129.22" width="4.4" height="4.4" stroke="#2bbdbd" stroke-width="1.05" fill="none"/>
<rect x="480.9" y="61.9" width="4.4" height="4.4" stroke="#2bbdbd" stroke-width="1.05" fill="none"/>
<rect x="491.42" y="85.12" width="4.4" height="4.4" stroke="#2bbdbd" stroke-width="1.05" fill="none"/>
<rect x="501.94" y="92.5" width="4.4" height="4.4" stroke="#2bbdbd" stroke-width="1.05" fill="none"/>
<rect x="512.46" y="95.2" width="4.4" height="4.4" stroke="#2bbdbd" stroke-width="1.05" fill="none"/>
<rect x="522.98" y="84.4" width="4.4" height="4.4" stroke="#2bbdbd" stroke-width="1.05" fill="none"/>
<rect x="533.5" y="85.3" width="4.4" height="4.4" stroke="#2bbdbd" stroke-width="1.05" fill="none"/>
<polyline points="335.82,85.7 346.34,91.28 356.86,106.94 367.38,102.08 377.9,98.84 388.42,77.6 398.94,67.7 409.46,106.94 419.98,90.56 430.5,94.88 441.02,78.5 451.54,85.7 462.06,78.5 472.58,131.42 483.1,65 493.62,86.96 504.14,94.88 514.66,95.6 525.18,86.96 535.7,87.86" fill="none" stroke="#174a17" stroke-width="1.15" stroke-linejoin="round"/>
<rect x="333.62" y="83.5" width="4.4" height="4.4" stroke="#174a17" stroke-width="1.05" fill="none"/>
<rect x="344.14" y="89.08" width="4.4" height="4.4" stroke="#174a17" stroke-width="1.05" fill="none"/>
<rect x="354.66" y="104.74" width="4.4" height="4.4" stroke="#174a17" stroke-width="1.05" fill="none"/>
<rect x="365.18" y="99.88" width="4.4" height="4.4" stroke="#174a17" stroke-width="1.05" fill="none"/>
<rect x="375.7" y="96.64" width="4.4" height="4.4" stroke="#174a17" stroke-width="1.05" fill="none"/>
<rect x="386.22" y="75.4" width="4.4" height="4.4" stroke="#174a17" stroke-width="1.05" fill="none"/>
<rect x="396.74" y="65.5" width="4.4" height="4.4" stroke="#174a17" stroke-width="1.05" fill="none"/>
<rect x="407.26" y="104.74" width="4.4" height="4.4" stroke="#174a17" stroke-width="1.05" fill="none"/>
<rect x="417.78" y="88.36" width="4.4" height="4.4" stroke="#174a17" stroke-width="1.05" fill="none"/>
<rect x="428.3" y="92.68" width="4.4" height="4.4" stroke="#174a17" stroke-width="1.05" fill="none"/>
<rect x="438.82" y="76.3" width="4.4" height="4.4" stroke="#174a17" stroke-width="1.05" fill="none"/>
<rect x="449.34" y="83.5" width="4.4" height="4.4" stroke="#174a17" stroke-width="1.05" fill="none"/>
<rect x="459.86" y="76.3" width="4.4" height="4.4" stroke="#174a17" stroke-width="1.05" fill="none"/>
<rect x="470.38" y="129.22" width="4.4" height="4.4" stroke="#174a17" stroke-width="1.05" fill="none"/>
<rect x="480.9" y="62.8" width="4.4" height="4.4" stroke="#174a17" stroke-width="1.05" fill="none"/>
<rect x="491.42" y="84.76" width="4.4" height="4.4" stroke="#174a17" stroke-width="1.05" fill="none"/>
<rect x="501.94" y="92.68" width="4.4" height="4.4" stroke="#174a17" stroke-width="1.05" fill="none"/>
<rect x="512.46" y="93.4" width="4.4" height="4.4" stroke="#174a17" stroke-width="1.05" fill="none"/>
<rect x="522.98" y="84.76" width="4.4" height="4.4" stroke="#174a17" stroke-width="1.05" fill="none"/>
<rect x="533.5" y="85.66" width="4.4" height="4.4" stroke="#174a17" stroke-width="1.05" fill="none"/>
<rect x="423.5" y="67.7" width="13.2" height="42.7" stroke="#000" stroke-width="1.5" fill="none"/>
<rect x="499.5" y="87.6" width="12.9" height="20.9" stroke="#000" stroke-width="1.5" fill="none"/>
<rect x="526.6" y="77.2" width="12.6" height="21.8" stroke="#000" stroke-width="1.5" fill="none"/>
<line x1="392.5" y1="44.3" x2="433" y2="67" stroke="#000" stroke-width="1.5"/>
<line x1="521" y1="73" x2="506" y2="87" stroke="#000" stroke-width="1.5"/>
<line x1="527.5" y1="99" x2="513" y2="112" stroke="#000" stroke-width="1.5"/>
<rect x="348.8" y="29" width="45" height="32.3" stroke="#000" stroke-width="1.45" fill="#fff"/>
<clipPath id="cb1"><rect x="348.8" y="29" width="45" height="32.3"/></clipPath>
<line x1="348.8" y1="34.7" x2="393.8" y2="34.7" stroke="#cfcfcf" stroke-width="0.9"/>
<line x1="348.8" y1="42.3" x2="393.8" y2="42.3" stroke="#cfcfcf" stroke-width="0.9"/>
<line x1="348.8" y1="49.9" x2="393.8" y2="49.9" stroke="#cfcfcf" stroke-width="0.9"/>
<line x1="348.8" y1="57.5" x2="393.8" y2="57.5" stroke="#cfcfcf" stroke-width="0.9"/>
<line x1="371.7" y1="29" x2="371.7" y2="61.3" stroke="#cfcfcf" stroke-width="0.9"/>
<g clip-path="url(#cb1)">
<polyline points="335.7,49.29 371.7,40.32 407.7,35.61" fill="none" stroke="#ff1a1a" stroke-width="1.8" stroke-linejoin="round" stroke-dasharray="1.71 1.89"/>
<path d="M334.1 47.69L337.3 50.89M334.1 50.89L337.3 47.69" stroke="#ff1a1a" stroke-width="1.43" fill="none"/>
<path d="M370.1 38.72L373.3 41.92M370.1 41.92L373.3 38.72" stroke="#ff1a1a" stroke-width="1.43" fill="none"/>
<path d="M406.1 34.01L409.3 37.21M406.1 37.21L409.3 34.01" stroke="#ff1a1a" stroke-width="1.43" fill="none"/>
<polyline points="335.7,48.68 371.7,37.44 407.7,34.24" fill="none" stroke="#1a1aff" stroke-width="1.8" stroke-linejoin="round" stroke-dasharray="1.71 1.89"/>
<path d="M334.1 47.08L337.3 50.28M334.1 50.28L337.3 47.08" stroke="#1a1aff" stroke-width="1.43" fill="none"/>
<path d="M370.1 35.84L373.3 39.04M370.1 39.04L373.3 35.84" stroke="#1a1aff" stroke-width="1.43" fill="none"/>
<path d="M406.1 32.64L409.3 35.84M406.1 35.84L409.3 32.64" stroke="#1a1aff" stroke-width="1.43" fill="none"/>
<polyline points="335.7,49.9 371.7,43.52 407.7,37.13" fill="none" stroke="#111111" stroke-width="1.8" stroke-linejoin="round" stroke-dasharray="1.71 1.89"/>
<path d="M334.1 48.3L337.3 51.5M334.1 51.5L337.3 48.3" stroke="#111111" stroke-width="1.43" fill="none"/>
<path d="M370.1 41.92L373.3 45.12M370.1 45.12L373.3 41.92" stroke="#111111" stroke-width="1.43" fill="none"/>
<path d="M406.1 35.53L409.3 38.73M406.1 38.73L409.3 35.53" stroke="#111111" stroke-width="1.43" fill="none"/>
<polyline points="335.7,50.81 371.7,52.33 407.7,39.26" fill="none" stroke="#ff85c4" stroke-width="1.8" stroke-linejoin="round"/>
<rect x="333.7" y="48.81" width="4" height="4" stroke="#ff85c4" stroke-width="1.1" fill="#ff85c4"/>
<rect x="369.7" y="50.33" width="4" height="4" stroke="#ff85c4" stroke-width="1.1" fill="#ff85c4"/>
<rect x="405.7" y="37.26" width="4" height="4" stroke="#ff85c4" stroke-width="1.1" fill="#ff85c4"/>
<polyline points="335.7,51.27 371.7,48.99 407.7,40.17" fill="none" stroke="#2bbdbd" stroke-width="1.8" stroke-linejoin="round"/>
<rect x="333.7" y="49.27" width="4" height="4" stroke="#2bbdbd" stroke-width="1.1" fill="#2bbdbd"/>
<rect x="369.7" y="46.99" width="4" height="4" stroke="#2bbdbd" stroke-width="1.1" fill="#2bbdbd"/>
<rect x="405.7" y="38.17" width="4" height="4" stroke="#2bbdbd" stroke-width="1.1" fill="#2bbdbd"/>
<polyline points="335.7,51.72 371.7,55.37 407.7,41.54" fill="none" stroke="#174a17" stroke-width="1.8" stroke-linejoin="round"/>
<rect x="333.7" y="49.72" width="4" height="4" stroke="#174a17" stroke-width="1.1" fill="#174a17"/>
<rect x="369.7" y="53.37" width="4" height="4" stroke="#174a17" stroke-width="1.1" fill="#174a17"/>
<rect x="405.7" y="39.54" width="4" height="4" stroke="#174a17" stroke-width="1.1" fill="#174a17"/>
</g>
<rect x="348.8" y="29" width="45" height="32.3" stroke="#000" stroke-width="1.45" fill="none"/>
<line x1="371.7" y1="29" x2="371.7" y2="31.5" stroke="#000" stroke-width="0.9"/>
<line x1="371.7" y1="61.3" x2="371.7" y2="58.8" stroke="#000" stroke-width="0.9"/>
<line x1="348.8" y1="34.7" x2="351.3" y2="34.7" stroke="#000" stroke-width="0.9"/>
<line x1="393.8" y1="34.7" x2="391.3" y2="34.7" stroke="#000" stroke-width="0.9"/>
<line x1="348.8" y1="42.3" x2="351.3" y2="42.3" stroke="#000" stroke-width="0.9"/>
<line x1="393.8" y1="42.3" x2="391.3" y2="42.3" stroke="#000" stroke-width="0.9"/>
<line x1="348.8" y1="49.9" x2="351.3" y2="49.9" stroke="#000" stroke-width="0.9"/>
<line x1="393.8" y1="49.9" x2="391.3" y2="49.9" stroke="#000" stroke-width="0.9"/>
<line x1="348.8" y1="57.5" x2="351.3" y2="57.5" stroke="#000" stroke-width="0.9"/>
<line x1="393.8" y1="57.5" x2="391.3" y2="57.5" stroke="#000" stroke-width="0.9"/>
<text x="346.4" y="38.4" text-anchor="end" font-size="10.8" fill="#000">10</text>
<text x="346.4" y="46" text-anchor="end" font-size="10.8" fill="#000">5</text>
<text x="346.4" y="53.6" text-anchor="end" font-size="10.8" fill="#000">0</text>
<text x="346.4" y="61.2" text-anchor="end" font-size="10.8" fill="#000">−5</text>
<text x="371.7" y="75.2" text-anchor="middle" font-size="10.8" fill="#222">L5–6</text>
<rect x="502" y="29" width="36" height="31.8" stroke="#000" stroke-width="1.45" fill="#fff"/>
<clipPath id="cb2"><rect x="502" y="29" width="36" height="31.8"/></clipPath>
<line x1="502" y1="28.48" x2="538" y2="28.48" stroke="#cfcfcf" stroke-width="0.9"/>
<line x1="502" y1="34.84" x2="538" y2="34.84" stroke="#cfcfcf" stroke-width="0.9"/>
<line x1="502" y1="41.2" x2="538" y2="41.2" stroke="#cfcfcf" stroke-width="0.9"/>
<line x1="502" y1="47.56" x2="538" y2="47.56" stroke="#cfcfcf" stroke-width="0.9"/>
<line x1="502" y1="53.92" x2="538" y2="53.92" stroke="#cfcfcf" stroke-width="0.9"/>
<line x1="502" y1="60.28" x2="538" y2="60.28" stroke="#cfcfcf" stroke-width="0.9"/>
<line x1="515.6" y1="29" x2="515.6" y2="60.8" stroke="#cfcfcf" stroke-width="0.9"/>
<g clip-path="url(#cb2)">
<polyline points="486.6,43.74 515.6,38.02 544.6,60.28" fill="none" stroke="#ff1a1a" stroke-width="1.8" stroke-linejoin="round" stroke-dasharray="1.71 1.89"/>
<path d="M485 42.14L488.2 45.34M485 45.34L488.2 42.14" stroke="#ff1a1a" stroke-width="1.43" fill="none"/>
<path d="M514 36.42L517.2 39.62M514 39.62L517.2 36.42" stroke="#ff1a1a" stroke-width="1.43" fill="none"/>
<path d="M543 58.68L546.2 61.88M543 61.88L546.2 58.68" stroke="#ff1a1a" stroke-width="1.43" fill="none"/>
<polyline points="486.6,44.38 515.6,38.02 544.6,62.51" fill="none" stroke="#1a1aff" stroke-width="1.8" stroke-linejoin="round" stroke-dasharray="1.71 1.89"/>
<path d="M485 42.78L488.2 45.98M485 45.98L488.2 42.78" stroke="#1a1aff" stroke-width="1.43" fill="none"/>
<path d="M514 36.42L517.2 39.62M514 39.62L517.2 36.42" stroke="#1a1aff" stroke-width="1.43" fill="none"/>
<path d="M543 60.91L546.2 64.11M543 64.11L546.2 60.91" stroke="#1a1aff" stroke-width="1.43" fill="none"/>
<polyline points="486.6,44.38 515.6,38.02 544.6,58.69" fill="none" stroke="#111111" stroke-width="1.8" stroke-linejoin="round" stroke-dasharray="1.71 1.89"/>
<path d="M485 42.78L488.2 45.98M485 45.98L488.2 42.78" stroke="#111111" stroke-width="1.43" fill="none"/>
<path d="M514 36.42L517.2 39.62M514 39.62L517.2 36.42" stroke="#111111" stroke-width="1.43" fill="none"/>
<path d="M543 57.09L546.2 60.29M543 60.29L546.2 57.09" stroke="#111111" stroke-width="1.43" fill="none"/>
<polyline points="486.6,39.93 515.6,51.69 544.6,55.51" fill="none" stroke="#ff85c4" stroke-width="1.8" stroke-linejoin="round"/>
<rect x="484.6" y="37.93" width="4" height="4" stroke="#ff85c4" stroke-width="1.1" fill="#ff85c4"/>
<rect x="513.6" y="49.69" width="4" height="4" stroke="#ff85c4" stroke-width="1.1" fill="#ff85c4"/>
<rect x="542.6" y="53.51" width="4" height="4" stroke="#ff85c4" stroke-width="1.1" fill="#ff85c4"/>
<polyline points="486.6,39.29 515.6,52.33 544.6,57.1" fill="none" stroke="#2bbdbd" stroke-width="1.8" stroke-linejoin="round"/>
<rect x="484.6" y="37.29" width="4" height="4" stroke="#2bbdbd" stroke-width="1.1" fill="#2bbdbd"/>
<rect x="513.6" y="50.33" width="4" height="4" stroke="#2bbdbd" stroke-width="1.1" fill="#2bbdbd"/>
<rect x="542.6" y="55.1" width="4" height="4" stroke="#2bbdbd" stroke-width="1.1" fill="#2bbdbd"/>
<polyline points="486.6,38.66 515.6,52.65 544.6,53.92" fill="none" stroke="#174a17" stroke-width="1.8" stroke-linejoin="round"/>
<rect x="484.6" y="36.66" width="4" height="4" stroke="#174a17" stroke-width="1.1" fill="#174a17"/>
<rect x="513.6" y="50.65" width="4" height="4" stroke="#174a17" stroke-width="1.1" fill="#174a17"/>
<rect x="542.6" y="51.92" width="4" height="4" stroke="#174a17" stroke-width="1.1" fill="#174a17"/>
</g>
<rect x="502" y="29" width="36" height="31.8" stroke="#000" stroke-width="1.45" fill="none"/>
<line x1="515.6" y1="29" x2="515.6" y2="31.5" stroke="#000" stroke-width="0.9"/>
<line x1="515.6" y1="60.8" x2="515.6" y2="58.3" stroke="#000" stroke-width="0.9"/>
<line x1="502" y1="28.48" x2="504.5" y2="28.48" stroke="#000" stroke-width="0.9"/>
<line x1="538" y1="28.48" x2="535.5" y2="28.48" stroke="#000" stroke-width="0.9"/>
<line x1="502" y1="34.84" x2="504.5" y2="34.84" stroke="#000" stroke-width="0.9"/>
<line x1="538" y1="34.84" x2="535.5" y2="34.84" stroke="#000" stroke-width="0.9"/>
<line x1="502" y1="41.2" x2="504.5" y2="41.2" stroke="#000" stroke-width="0.9"/>
<line x1="538" y1="41.2" x2="535.5" y2="41.2" stroke="#000" stroke-width="0.9"/>
<line x1="502" y1="47.56" x2="504.5" y2="47.56" stroke="#000" stroke-width="0.9"/>
<line x1="538" y1="47.56" x2="535.5" y2="47.56" stroke="#000" stroke-width="0.9"/>
<line x1="502" y1="53.92" x2="504.5" y2="53.92" stroke="#000" stroke-width="0.9"/>
<line x1="538" y1="53.92" x2="535.5" y2="53.92" stroke="#000" stroke-width="0.9"/>
<line x1="502" y1="60.28" x2="504.5" y2="60.28" stroke="#000" stroke-width="0.9"/>
<line x1="538" y1="60.28" x2="535.5" y2="60.28" stroke="#000" stroke-width="0.9"/>
<text x="499.8" y="32.18" text-anchor="end" font-size="10.8" fill="#000">4</text>
<text x="499.8" y="38.54" text-anchor="end" font-size="10.8" fill="#000">2</text>
<text x="499.8" y="44.9" text-anchor="end" font-size="10.8" fill="#000">0</text>
<text x="499.8" y="51.26" text-anchor="end" font-size="10.8" fill="#000">−2</text>
<text x="499.8" y="57.62" text-anchor="end" font-size="10.8" fill="#000">−4</text>
<text x="499.8" y="63.98" text-anchor="end" font-size="10.8" fill="#000">−6</text>
<text x="515.6" y="75.2" text-anchor="middle" font-size="10.8" fill="#222">L9–14</text>
<rect x="490.6" y="112.6" width="44.1" height="32.4" stroke="#000" stroke-width="1.45" fill="#fff"/>
<clipPath id="cb3"><rect x="490.6" y="112.6" width="44.1" height="32.4"/></clipPath>
<line x1="490.6" y1="117.82" x2="534.7" y2="117.82" stroke="#cfcfcf" stroke-width="0.9"/>
<line x1="490.6" y1="123.54" x2="534.7" y2="123.54" stroke="#cfcfcf" stroke-width="0.9"/>
<line x1="490.6" y1="129.26" x2="534.7" y2="129.26" stroke="#cfcfcf" stroke-width="0.9"/>
<line x1="490.6" y1="134.98" x2="534.7" y2="134.98" stroke="#cfcfcf" stroke-width="0.9"/>
<line x1="490.6" y1="140.7" x2="534.7" y2="140.7" stroke="#cfcfcf" stroke-width="0.9"/>
<line x1="522.7" y1="112.6" x2="522.7" y2="145" stroke="#cfcfcf" stroke-width="0.9"/>
<g clip-path="url(#cb3)">
<polyline points="482.7,138.41 522.7,124.68" fill="none" stroke="#ff1a1a" stroke-width="1.8" stroke-linejoin="round" stroke-dasharray="1.71 1.89"/>
<path d="M481.1 136.81L484.3 140.01M481.1 140.01L484.3 136.81" stroke="#ff1a1a" stroke-width="1.43" fill="none"/>
<path d="M521.1 123.08L524.3 126.28M521.1 126.28L524.3 123.08" stroke="#ff1a1a" stroke-width="1.43" fill="none"/>
<polyline points="482.7,138.41 522.7,124.68" fill="none" stroke="#1a1aff" stroke-width="1.8" stroke-linejoin="round" stroke-dasharray="1.71 1.89"/>
<path d="M481.1 136.81L484.3 140.01M481.1 140.01L484.3 136.81" stroke="#1a1aff" stroke-width="1.43" fill="none"/>
<path d="M521.1 123.08L524.3 126.28M521.1 126.28L524.3 123.08" stroke="#1a1aff" stroke-width="1.43" fill="none"/>
<polyline points="482.7,138.41 522.7,124.68" fill="none" stroke="#111111" stroke-width="1.8" stroke-linejoin="round" stroke-dasharray="1.71 1.89"/>
<path d="M481.1 136.81L484.3 140.01M481.1 140.01L484.3 136.81" stroke="#111111" stroke-width="1.43" fill="none"/>
<path d="M521.1 123.08L524.3 126.28M521.1 126.28L524.3 123.08" stroke="#111111" stroke-width="1.43" fill="none"/>
<polyline points="482.7,138.41 522.7,139.56" fill="none" stroke="#ff85c4" stroke-width="1.8" stroke-linejoin="round"/>
<rect x="480.7" y="136.41" width="4" height="4" stroke="#ff85c4" stroke-width="1.1" fill="#ff85c4"/>
<rect x="520.7" y="137.56" width="4" height="4" stroke="#ff85c4" stroke-width="1.1" fill="#ff85c4"/>
<polyline points="482.7,137.84 522.7,139.27" fill="none" stroke="#2bbdbd" stroke-width="1.8" stroke-linejoin="round"/>
<rect x="480.7" y="135.84" width="4" height="4" stroke="#2bbdbd" stroke-width="1.1" fill="#2bbdbd"/>
<rect x="520.7" y="137.27" width="4" height="4" stroke="#2bbdbd" stroke-width="1.1" fill="#2bbdbd"/>
<polyline points="482.7,138.41 522.7,139.84" fill="none" stroke="#174a17" stroke-width="1.8" stroke-linejoin="round"/>
<rect x="480.7" y="136.41" width="4" height="4" stroke="#174a17" stroke-width="1.1" fill="#174a17"/>
<rect x="520.7" y="137.84" width="4" height="4" stroke="#174a17" stroke-width="1.1" fill="#174a17"/>
</g>
<rect x="490.6" y="112.6" width="44.1" height="32.4" stroke="#000" stroke-width="1.45" fill="none"/>
<line x1="522.7" y1="112.6" x2="522.7" y2="115.1" stroke="#000" stroke-width="0.9"/>
<line x1="522.7" y1="145" x2="522.7" y2="142.5" stroke="#000" stroke-width="0.9"/>
<line x1="490.6" y1="117.82" x2="493.1" y2="117.82" stroke="#000" stroke-width="0.9"/>
<line x1="534.7" y1="117.82" x2="532.2" y2="117.82" stroke="#000" stroke-width="0.9"/>
<line x1="490.6" y1="123.54" x2="493.1" y2="123.54" stroke="#000" stroke-width="0.9"/>
<line x1="534.7" y1="123.54" x2="532.2" y2="123.54" stroke="#000" stroke-width="0.9"/>
<line x1="490.6" y1="129.26" x2="493.1" y2="129.26" stroke="#000" stroke-width="0.9"/>
<line x1="534.7" y1="129.26" x2="532.2" y2="129.26" stroke="#000" stroke-width="0.9"/>
<line x1="490.6" y1="134.98" x2="493.1" y2="134.98" stroke="#000" stroke-width="0.9"/>
<line x1="534.7" y1="134.98" x2="532.2" y2="134.98" stroke="#000" stroke-width="0.9"/>
<line x1="490.6" y1="140.7" x2="493.1" y2="140.7" stroke="#000" stroke-width="0.9"/>
<line x1="534.7" y1="140.7" x2="532.2" y2="140.7" stroke="#000" stroke-width="0.9"/>
<text x="489" y="121.52" text-anchor="end" font-size="10.8" fill="#000">8</text>
<text x="489" y="127.24" text-anchor="end" font-size="10.8" fill="#000">6</text>
<text x="489" y="132.96" text-anchor="end" font-size="10.8" fill="#000">4</text>
<text x="489" y="138.68" text-anchor="end" font-size="10.8" fill="#000">2</text>
<text x="489" y="144.4" text-anchor="end" font-size="10.8" fill="#000">0</text>
<text x="522.2" y="158.3" text-anchor="middle" font-size="10.8" fill="#222">L13–14</text>
<line x1="60.05" y1="234.7" x2="60.05" y2="363.6" stroke="#e9e9e9" stroke-width="0.8"/>
<line x1="85.7" y1="234.7" x2="85.7" y2="363.6" stroke="#e9e9e9" stroke-width="0.8"/>
<line x1="111.35" y1="234.7" x2="111.35" y2="363.6" stroke="#e9e9e9" stroke-width="0.8"/>
<line x1="137" y1="234.7" x2="137" y2="363.6" stroke="#e9e9e9" stroke-width="0.8"/>
<line x1="142.13" y1="234.7" x2="142.13" y2="363.6" stroke="#e9e9e9" stroke-width="0.8"/>
<line x1="147.26" y1="234.7" x2="147.26" y2="363.6" stroke="#e9e9e9" stroke-width="0.8"/>
<line x1="162.65" y1="234.7" x2="162.65" y2="363.6" stroke="#e9e9e9" stroke-width="0.8"/>
<line x1="188.3" y1="234.7" x2="188.3" y2="363.6" stroke="#e9e9e9" stroke-width="0.8"/>
<line x1="213.95" y1="234.7" x2="213.95" y2="363.6" stroke="#e9e9e9" stroke-width="0.8"/>
<line x1="229.34" y1="234.7" x2="229.34" y2="363.6" stroke="#e9e9e9" stroke-width="0.8"/>
<line x1="234.47" y1="234.7" x2="234.47" y2="363.6" stroke="#e9e9e9" stroke-width="0.8"/>
<line x1="239.6" y1="234.7" x2="239.6" y2="363.6" stroke="#e9e9e9" stroke-width="0.8"/>
<line x1="34.4" y1="234.9" x2="255.7" y2="234.9" stroke="#e9e9e9" stroke-width="0.8"/>
<line x1="34.4" y1="267.1" x2="255.7" y2="267.1" stroke="#e9e9e9" stroke-width="0.8"/>
<line x1="34.4" y1="299.3" x2="255.7" y2="299.3" stroke="#e9e9e9" stroke-width="0.8"/>
<line x1="34.4" y1="331.5" x2="255.7" y2="331.5" stroke="#e9e9e9" stroke-width="0.8"/>
<text x="30.3" y="238.3" text-anchor="end" font-size="10.8" fill="#2a2a2a">40</text>
<line x1="34.4" y1="234.9" x2="36.4" y2="234.9" stroke="#5a5a5a" stroke-width="0.7"/>
<text x="30.3" y="270.5" text-anchor="end" font-size="10.8" fill="#2a2a2a">20</text>
<line x1="34.4" y1="267.1" x2="36.4" y2="267.1" stroke="#5a5a5a" stroke-width="0.7"/>
<text x="30.3" y="302.7" text-anchor="end" font-size="10.8" fill="#2a2a2a">0</text>
<line x1="34.4" y1="299.3" x2="36.4" y2="299.3" stroke="#5a5a5a" stroke-width="0.7"/>
<text x="30.3" y="334.9" text-anchor="end" font-size="10.8" fill="#2a2a2a">−20</text>
<line x1="34.4" y1="331.5" x2="36.4" y2="331.5" stroke="#5a5a5a" stroke-width="0.7"/>
<text x="30.3" y="367.1" text-anchor="end" font-size="10.8" fill="#2a2a2a">−40</text>
<line x1="34.4" y1="363.7" x2="36.4" y2="363.7" stroke="#5a5a5a" stroke-width="0.7"/>
<text transform="translate(9.7 300.3) rotate(-90)" text-anchor="middle" font-size="10.8" fill="#2a2a2a">Reactive Power [Mvar]</text>
<text transform="translate(63.65 368.3) rotate(-90)" text-anchor="end" font-size="10.6" fill="#2a2a2a">L2–6</text>
<text transform="translate(89.3 368.3) rotate(-90)" text-anchor="end" font-size="10.6" fill="#2a2a2a">L6–7</text>
<text transform="translate(114.95 368.3) rotate(-90)" text-anchor="end" font-size="10.6" fill="#2a2a2a">L8–28</text>
<text transform="translate(140.6 368.3) rotate(-90)" text-anchor="end" font-size="10.6" fill="#2a2a2a">L10–21</text>
<text transform="translate(145.73 368.3) rotate(-90)" text-anchor="end" font-size="10.6" fill="#2a2a2a">L10–22</text>
<text transform="translate(150.86 368.3) rotate(-90)" text-anchor="end" font-size="10.6" fill="#2a2a2a">L12–13</text>
<text transform="translate(166.25 368.3) rotate(-90)" text-anchor="end" font-size="10.6" fill="#2a2a2a">L12–16</text>
<text transform="translate(191.9 368.3) rotate(-90)" text-anchor="end" font-size="10.6" fill="#2a2a2a">L18–19</text>
<text transform="translate(217.55 368.3) rotate(-90)" text-anchor="end" font-size="10.6" fill="#2a2a2a">L24–25</text>
<text transform="translate(232.94 368.3) rotate(-90)" text-anchor="end" font-size="10.6" fill="#2a2a2a">L27–29</text>
<text transform="translate(238.07 368.3) rotate(-90)" text-anchor="end" font-size="10.6" fill="#2a2a2a">L27–30</text>
<text transform="translate(243.2 368.3) rotate(-90)" text-anchor="end" font-size="10.6" fill="#2a2a2a">L28–27</text>
<text x="145.7" y="412" text-anchor="middle" font-size="10.8" fill="#2a2a2a">Transmission Line</text>
<text x="144.7" y="424.4" text-anchor="middle" font-size="10.8" fill="#2a2a2a">(c) 30 Bus–Bar System</text>
<line x1="34.4" y1="234.7" x2="34.4" y2="364" stroke="#5a5a5a" stroke-width="0.85"/>
<line x1="34" y1="363.6" x2="255.7" y2="363.6" stroke="#5a5a5a" stroke-width="0.85"/>
<line x1="60.05" y1="363.6" x2="60.05" y2="361.6" stroke="#5a5a5a" stroke-width="0.7"/>
<line x1="85.7" y1="363.6" x2="85.7" y2="361.6" stroke="#5a5a5a" stroke-width="0.7"/>
<line x1="111.35" y1="363.6" x2="111.35" y2="361.6" stroke="#5a5a5a" stroke-width="0.7"/>
<line x1="137" y1="363.6" x2="137" y2="361.6" stroke="#5a5a5a" stroke-width="0.7"/>
<line x1="142.13" y1="363.6" x2="142.13" y2="361.6" stroke="#5a5a5a" stroke-width="0.7"/>
<line x1="147.26" y1="363.6" x2="147.26" y2="361.6" stroke="#5a5a5a" stroke-width="0.7"/>
<line x1="162.65" y1="363.6" x2="162.65" y2="361.6" stroke="#5a5a5a" stroke-width="0.7"/>
<line x1="188.3" y1="363.6" x2="188.3" y2="361.6" stroke="#5a5a5a" stroke-width="0.7"/>
<line x1="213.95" y1="363.6" x2="213.95" y2="361.6" stroke="#5a5a5a" stroke-width="0.7"/>
<line x1="229.34" y1="363.6" x2="229.34" y2="361.6" stroke="#5a5a5a" stroke-width="0.7"/>
<line x1="234.47" y1="363.6" x2="234.47" y2="361.6" stroke="#5a5a5a" stroke-width="0.7"/>
<line x1="239.6" y1="363.6" x2="239.6" y2="361.6" stroke="#5a5a5a" stroke-width="0.7"/>
<polyline points="39.53,333.43 44.66,298.17 49.79,291.25 54.92,288.03 60.05,286.9 65.18,305.58 70.31,282.88 75.44,320.87 80.57,292.06 85.7,289 90.83,263.56 95.96,302.52 101.09,301.07 106.22,314.43 111.35,310.41 116.48,303.16 121.61,298.66 126.74,283.84 131.87,293.18 137,315.72 142.13,312.5 147.26,314.92 152.39,300.43 157.52,309.93 162.65,301.72 167.78,299.3 172.91,295.76 178.04,322.48 183.17,305.26 188.3,297.69 193.43,303 198.56,334.88 203.69,294.63 208.82,288.67 213.95,299.3 219.08,294.63 224.21,305.26 229.34,295.76 234.47,295.76 239.6,327.48 244.73,299.14" fill="none" stroke="#ff1a1a" stroke-width="1.35" stroke-linejoin="round" stroke-dasharray="1.28 1.42"/>
<path d="M37.83 331.73L41.23 335.13M37.83 335.13L41.23 331.73" stroke="#ff1a1a" stroke-width="1.62" fill="none"/>
<path d="M42.96 296.47L46.36 299.87M42.96 299.87L46.36 296.47" stroke="#ff1a1a" stroke-width="1.62" fill="none"/>
<path d="M48.09 289.55L51.49 292.95M48.09 292.95L51.49 289.55" stroke="#ff1a1a" stroke-width="1.62" fill="none"/>
<path d="M53.22 286.33L56.62 289.73M53.22 289.73L56.62 286.33" stroke="#ff1a1a" stroke-width="1.62" fill="none"/>
<path d="M58.35 285.2L61.75 288.6M58.35 288.6L61.75 285.2" stroke="#ff1a1a" stroke-width="1.62" fill="none"/>
<path d="M63.48 303.88L66.88 307.28M63.48 307.28L66.88 303.88" stroke="#ff1a1a" stroke-width="1.62" fill="none"/>
<path d="M68.61 281.18L72.01 284.58M68.61 284.58L72.01 281.18" stroke="#ff1a1a" stroke-width="1.62" fill="none"/>
<path d="M73.74 319.17L77.14 322.57M73.74 322.57L77.14 319.17" stroke="#ff1a1a" stroke-width="1.62" fill="none"/>
<path d="M78.87 290.36L82.27 293.75M78.87 293.75L82.27 290.36" stroke="#ff1a1a" stroke-width="1.62" fill="none"/>
<path d="M84 287.3L87.4 290.7M84 290.7L87.4 287.3" stroke="#ff1a1a" stroke-width="1.62" fill="none"/>
<path d="M89.13 261.86L92.53 265.26M89.13 265.26L92.53 261.86" stroke="#ff1a1a" stroke-width="1.62" fill="none"/>
<path d="M94.26 300.82L97.66 304.22M94.26 304.22L97.66 300.82" stroke="#ff1a1a" stroke-width="1.62" fill="none"/>
<path d="M99.39 299.37L102.79 302.77M99.39 302.77L102.79 299.37" stroke="#ff1a1a" stroke-width="1.62" fill="none"/>
<path d="M104.52 312.73L107.92 316.13M104.52 316.13L107.92 312.73" stroke="#ff1a1a" stroke-width="1.62" fill="none"/>
<path d="M109.65 308.71L113.05 312.11M109.65 312.11L113.05 308.71" stroke="#ff1a1a" stroke-width="1.62" fill="none"/>
<path d="M114.78 301.46L118.18 304.86M114.78 304.86L118.18 301.46" stroke="#ff1a1a" stroke-width="1.62" fill="none"/>
<path d="M119.91 296.96L123.31 300.36M119.91 300.36L123.31 296.96" stroke="#ff1a1a" stroke-width="1.62" fill="none"/>
<path d="M125.04 282.14L128.44 285.54M125.04 285.54L128.44 282.14" stroke="#ff1a1a" stroke-width="1.62" fill="none"/>
<path d="M130.17 291.48L133.57 294.88M130.17 294.88L133.57 291.48" stroke="#ff1a1a" stroke-width="1.62" fill="none"/>
<path d="M135.3 314.02L138.7 317.42M135.3 317.42L138.7 314.02" stroke="#ff1a1a" stroke-width="1.62" fill="none"/>
<path d="M140.43 310.8L143.83 314.2M140.43 314.2L143.83 310.8" stroke="#ff1a1a" stroke-width="1.62" fill="none"/>
<path d="M145.56 313.22L148.96 316.62M145.56 316.62L148.96 313.22" stroke="#ff1a1a" stroke-width="1.62" fill="none"/>
<path d="M150.69 298.73L154.09 302.13M150.69 302.13L154.09 298.73" stroke="#ff1a1a" stroke-width="1.62" fill="none"/>
<path d="M155.82 308.23L159.22 311.63M155.82 311.63L159.22 308.23" stroke="#ff1a1a" stroke-width="1.62" fill="none"/>
<path d="M160.95 300.02L164.35 303.42M160.95 303.42L164.35 300.02" stroke="#ff1a1a" stroke-width="1.62" fill="none"/>
<path d="M166.08 297.6L169.48 301M166.08 301L169.48 297.6" stroke="#ff1a1a" stroke-width="1.62" fill="none"/>
<path d="M171.21 294.06L174.61 297.46M171.21 297.46L174.61 294.06" stroke="#ff1a1a" stroke-width="1.62" fill="none"/>
<path d="M176.34 320.78L179.74 324.18M176.34 324.18L179.74 320.78" stroke="#ff1a1a" stroke-width="1.62" fill="none"/>
<path d="M181.47 303.56L184.87 306.96M181.47 306.96L184.87 303.56" stroke="#ff1a1a" stroke-width="1.62" fill="none"/>
<path d="M186.6 295.99L190 299.39M186.6 299.39L190 295.99" stroke="#ff1a1a" stroke-width="1.62" fill="none"/>
<path d="M191.73 301.3L195.13 304.7M191.73 304.7L195.13 301.3" stroke="#ff1a1a" stroke-width="1.62" fill="none"/>
<path d="M196.86 333.18L200.26 336.58M196.86 336.58L200.26 333.18" stroke="#ff1a1a" stroke-width="1.62" fill="none"/>
<path d="M201.99 292.93L205.39 296.33M201.99 296.33L205.39 292.93" stroke="#ff1a1a" stroke-width="1.62" fill="none"/>
<path d="M207.12 286.97L210.52 290.37M207.12 290.37L210.52 286.97" stroke="#ff1a1a" stroke-width="1.62" fill="none"/>
<path d="M212.25 297.6L215.65 301M212.25 301L215.65 297.6" stroke="#ff1a1a" stroke-width="1.62" fill="none"/>
<path d="M217.38 292.93L220.78 296.33M217.38 296.33L220.78 292.93" stroke="#ff1a1a" stroke-width="1.62" fill="none"/>
<path d="M222.51 303.56L225.91 306.96M222.51 306.96L225.91 303.56" stroke="#ff1a1a" stroke-width="1.62" fill="none"/>
<path d="M227.64 294.06L231.04 297.46M227.64 297.46L231.04 294.06" stroke="#ff1a1a" stroke-width="1.62" fill="none"/>
<path d="M232.77 294.06L236.17 297.46M232.77 297.46L236.17 294.06" stroke="#ff1a1a" stroke-width="1.62" fill="none"/>
<path d="M237.9 325.78L241.3 329.18M237.9 329.18L241.3 325.78" stroke="#ff1a1a" stroke-width="1.62" fill="none"/>
<path d="M243.03 297.44L246.43 300.84M243.03 300.84L246.43 297.44" stroke="#ff1a1a" stroke-width="1.62" fill="none"/>
<polyline points="39.53,334.72 44.66,297.69 49.79,289.96 54.92,287.39 60.05,285.78 65.18,304.45 70.31,280.62 75.44,319.59 80.57,289 85.7,288.84 90.83,262.11 95.96,300.91 101.09,300.11 106.22,316.04 111.35,312.5 116.48,301.55 121.61,298.5 126.74,282.39 131.87,290.93 137,319.43 142.13,315.08 147.26,313.79 152.39,298.82 157.52,307.83 162.65,301.55 167.78,301.88 172.91,295.6 178.04,323.13 183.17,305.1 188.3,297.53 193.43,302.84 198.56,336.97 203.69,294.47 208.82,288.51 213.95,303.16 219.08,294.47 224.21,307.83 229.34,295.44 234.47,295.44 239.6,329.09 244.73,297.85" fill="none" stroke="#1a1aff" stroke-width="1.35" stroke-linejoin="round" stroke-dasharray="1.28 1.42"/>
<path d="M37.83 333.02L41.23 336.42M37.83 336.42L41.23 333.02" stroke="#1a1aff" stroke-width="1.62" fill="none"/>
<path d="M42.96 295.99L46.36 299.39M42.96 299.39L46.36 295.99" stroke="#1a1aff" stroke-width="1.62" fill="none"/>
<path d="M48.09 288.26L51.49 291.66M48.09 291.66L51.49 288.26" stroke="#1a1aff" stroke-width="1.62" fill="none"/>
<path d="M53.22 285.69L56.62 289.09M53.22 289.09L56.62 285.69" stroke="#1a1aff" stroke-width="1.62" fill="none"/>
<path d="M58.35 284.08L61.75 287.48M58.35 287.48L61.75 284.08" stroke="#1a1aff" stroke-width="1.62" fill="none"/>
<path d="M63.48 302.75L66.88 306.15M63.48 306.15L66.88 302.75" stroke="#1a1aff" stroke-width="1.62" fill="none"/>
<path d="M68.61 278.92L72.01 282.32M68.61 282.32L72.01 278.92" stroke="#1a1aff" stroke-width="1.62" fill="none"/>
<path d="M73.74 317.89L77.14 321.29M73.74 321.29L77.14 317.89" stroke="#1a1aff" stroke-width="1.62" fill="none"/>
<path d="M78.87 287.3L82.27 290.7M78.87 290.7L82.27 287.3" stroke="#1a1aff" stroke-width="1.62" fill="none"/>
<path d="M84 287.14L87.4 290.54M84 290.54L87.4 287.14" stroke="#1a1aff" stroke-width="1.62" fill="none"/>
<path d="M89.13 260.41L92.53 263.81M89.13 263.81L92.53 260.41" stroke="#1a1aff" stroke-width="1.62" fill="none"/>
<path d="M94.26 299.21L97.66 302.61M94.26 302.61L97.66 299.21" stroke="#1a1aff" stroke-width="1.62" fill="none"/>
<path d="M99.39 298.41L102.79 301.81M99.39 301.81L102.79 298.41" stroke="#1a1aff" stroke-width="1.62" fill="none"/>
<path d="M104.52 314.34L107.92 317.74M104.52 317.74L107.92 314.34" stroke="#1a1aff" stroke-width="1.62" fill="none"/>
<path d="M109.65 310.8L113.05 314.2M109.65 314.2L113.05 310.8" stroke="#1a1aff" stroke-width="1.62" fill="none"/>
<path d="M114.78 299.85L118.18 303.25M114.78 303.25L118.18 299.85" stroke="#1a1aff" stroke-width="1.62" fill="none"/>
<path d="M119.91 296.8L123.31 300.19M119.91 300.19L123.31 296.8" stroke="#1a1aff" stroke-width="1.62" fill="none"/>
<path d="M125.04 280.69L128.44 284.09M125.04 284.09L128.44 280.69" stroke="#1a1aff" stroke-width="1.62" fill="none"/>
<path d="M130.17 289.23L133.57 292.63M130.17 292.63L133.57 289.23" stroke="#1a1aff" stroke-width="1.62" fill="none"/>
<path d="M135.3 317.73L138.7 321.12M135.3 321.12L138.7 317.73" stroke="#1a1aff" stroke-width="1.62" fill="none"/>
<path d="M140.43 313.38L143.83 316.78M140.43 316.78L143.83 313.38" stroke="#1a1aff" stroke-width="1.62" fill="none"/>
<path d="M145.56 312.09L148.96 315.49M145.56 315.49L148.96 312.09" stroke="#1a1aff" stroke-width="1.62" fill="none"/>
<path d="M150.69 297.12L154.09 300.52M150.69 300.52L154.09 297.12" stroke="#1a1aff" stroke-width="1.62" fill="none"/>
<path d="M155.82 306.13L159.22 309.53M155.82 309.53L159.22 306.13" stroke="#1a1aff" stroke-width="1.62" fill="none"/>
<path d="M160.95 299.85L164.35 303.25M160.95 303.25L164.35 299.85" stroke="#1a1aff" stroke-width="1.62" fill="none"/>
<path d="M166.08 300.18L169.48 303.58M166.08 303.58L169.48 300.18" stroke="#1a1aff" stroke-width="1.62" fill="none"/>
<path d="M171.21 293.9L174.61 297.3M171.21 297.3L174.61 293.9" stroke="#1a1aff" stroke-width="1.62" fill="none"/>
<path d="M176.34 321.43L179.74 324.83M176.34 324.83L179.74 321.43" stroke="#1a1aff" stroke-width="1.62" fill="none"/>
<path d="M181.47 303.4L184.87 306.8M181.47 306.8L184.87 303.4" stroke="#1a1aff" stroke-width="1.62" fill="none"/>
<path d="M186.6 295.83L190 299.23M186.6 299.23L190 295.83" stroke="#1a1aff" stroke-width="1.62" fill="none"/>
<path d="M191.73 301.14L195.13 304.54M191.73 304.54L195.13 301.14" stroke="#1a1aff" stroke-width="1.62" fill="none"/>
<path d="M196.86 335.27L200.26 338.67M196.86 338.67L200.26 335.27" stroke="#1a1aff" stroke-width="1.62" fill="none"/>
<path d="M201.99 292.77L205.39 296.17M201.99 296.17L205.39 292.77" stroke="#1a1aff" stroke-width="1.62" fill="none"/>
<path d="M207.12 286.81L210.52 290.21M207.12 290.21L210.52 286.81" stroke="#1a1aff" stroke-width="1.62" fill="none"/>
<path d="M212.25 301.46L215.65 304.86M212.25 304.86L215.65 301.46" stroke="#1a1aff" stroke-width="1.62" fill="none"/>
<path d="M217.38 292.77L220.78 296.17M217.38 296.17L220.78 292.77" stroke="#1a1aff" stroke-width="1.62" fill="none"/>
<path d="M222.51 306.13L225.91 309.53M222.51 309.53L225.91 306.13" stroke="#1a1aff" stroke-width="1.62" fill="none"/>
<path d="M227.64 293.74L231.04 297.14M227.64 297.14L231.04 293.74" stroke="#1a1aff" stroke-width="1.62" fill="none"/>
<path d="M232.77 293.74L236.17 297.14M232.77 297.14L236.17 293.74" stroke="#1a1aff" stroke-width="1.62" fill="none"/>
<path d="M237.9 327.39L241.3 330.79M237.9 330.79L241.3 327.39" stroke="#1a1aff" stroke-width="1.62" fill="none"/>
<path d="M243.03 296.15L246.43 299.55M243.03 299.55L246.43 296.15" stroke="#1a1aff" stroke-width="1.62" fill="none"/>
<polyline points="39.53,332.47 44.66,298.82 49.79,292.38 54.92,288.67 60.05,287.87 65.18,305.58 70.31,282.88 75.44,321.84 80.57,292.06 85.7,289 90.83,263.56 95.96,303.81 101.09,301.72 106.22,313.47 111.35,310.41 116.48,304.45 121.61,298.66 126.74,283.84 131.87,293.18 137,316.53 142.13,315.56 147.26,314.92 152.39,301.55 157.52,311.38 162.65,301.72 167.78,303.16 172.91,295.76 178.04,323.93 183.17,305.26 188.3,297.69 193.43,303 198.56,334.88 203.69,294.63 208.82,286.58 213.95,299.3 219.08,294.63 224.21,305.26 229.34,295.92 234.47,296.08 239.6,326.51 244.73,297.85" fill="none" stroke="#111111" stroke-width="1.35" stroke-linejoin="round" stroke-dasharray="1.28 1.42"/>
<path d="M37.83 330.77L41.23 334.17M37.83 334.17L41.23 330.77" stroke="#111111" stroke-width="1.62" fill="none"/>
<path d="M42.96 297.12L46.36 300.52M42.96 300.52L46.36 297.12" stroke="#111111" stroke-width="1.62" fill="none"/>
<path d="M48.09 290.68L51.49 294.08M48.09 294.08L51.49 290.68" stroke="#111111" stroke-width="1.62" fill="none"/>
<path d="M53.22 286.97L56.62 290.37M53.22 290.37L56.62 286.97" stroke="#111111" stroke-width="1.62" fill="none"/>
<path d="M58.35 286.17L61.75 289.57M58.35 289.57L61.75 286.17" stroke="#111111" stroke-width="1.62" fill="none"/>
<path d="M63.48 303.88L66.88 307.28M63.48 307.28L66.88 303.88" stroke="#111111" stroke-width="1.62" fill="none"/>
<path d="M68.61 281.18L72.01 284.58M68.61 284.58L72.01 281.18" stroke="#111111" stroke-width="1.62" fill="none"/>
<path d="M73.74 320.14L77.14 323.54M73.74 323.54L77.14 320.14" stroke="#111111" stroke-width="1.62" fill="none"/>
<path d="M78.87 290.36L82.27 293.75M78.87 293.75L82.27 290.36" stroke="#111111" stroke-width="1.62" fill="none"/>
<path d="M84 287.3L87.4 290.7M84 290.7L87.4 287.3" stroke="#111111" stroke-width="1.62" fill="none"/>
<path d="M89.13 261.86L92.53 265.26M89.13 265.26L92.53 261.86" stroke="#111111" stroke-width="1.62" fill="none"/>
<path d="M94.26 302.11L97.66 305.51M94.26 305.51L97.66 302.11" stroke="#111111" stroke-width="1.62" fill="none"/>
<path d="M99.39 300.02L102.79 303.42M99.39 303.42L102.79 300.02" stroke="#111111" stroke-width="1.62" fill="none"/>
<path d="M104.52 311.77L107.92 315.17M104.52 315.17L107.92 311.77" stroke="#111111" stroke-width="1.62" fill="none"/>
<path d="M109.65 308.71L113.05 312.11M109.65 312.11L113.05 308.71" stroke="#111111" stroke-width="1.62" fill="none"/>
<path d="M114.78 302.75L118.18 306.15M114.78 306.15L118.18 302.75" stroke="#111111" stroke-width="1.62" fill="none"/>
<path d="M119.91 296.96L123.31 300.36M119.91 300.36L123.31 296.96" stroke="#111111" stroke-width="1.62" fill="none"/>
<path d="M125.04 282.14L128.44 285.54M125.04 285.54L128.44 282.14" stroke="#111111" stroke-width="1.62" fill="none"/>
<path d="M130.17 291.48L133.57 294.88M130.17 294.88L133.57 291.48" stroke="#111111" stroke-width="1.62" fill="none"/>
<path d="M135.3 314.83L138.7 318.23M135.3 318.23L138.7 314.83" stroke="#111111" stroke-width="1.62" fill="none"/>
<path d="M140.43 313.86L143.83 317.26M140.43 317.26L143.83 313.86" stroke="#111111" stroke-width="1.62" fill="none"/>
<path d="M145.56 313.22L148.96 316.62M145.56 316.62L148.96 313.22" stroke="#111111" stroke-width="1.62" fill="none"/>
<path d="M150.69 299.85L154.09 303.25M150.69 303.25L154.09 299.85" stroke="#111111" stroke-width="1.62" fill="none"/>
<path d="M155.82 309.68L159.22 313.07M155.82 313.07L159.22 309.68" stroke="#111111" stroke-width="1.62" fill="none"/>
<path d="M160.95 300.02L164.35 303.42M160.95 303.42L164.35 300.02" stroke="#111111" stroke-width="1.62" fill="none"/>
<path d="M166.08 301.46L169.48 304.86M166.08 304.86L169.48 301.46" stroke="#111111" stroke-width="1.62" fill="none"/>
<path d="M171.21 294.06L174.61 297.46M171.21 297.46L174.61 294.06" stroke="#111111" stroke-width="1.62" fill="none"/>
<path d="M176.34 322.23L179.74 325.63M176.34 325.63L179.74 322.23" stroke="#111111" stroke-width="1.62" fill="none"/>
<path d="M181.47 303.56L184.87 306.96M181.47 306.96L184.87 303.56" stroke="#111111" stroke-width="1.62" fill="none"/>
<path d="M186.6 295.99L190 299.39M186.6 299.39L190 295.99" stroke="#111111" stroke-width="1.62" fill="none"/>
<path d="M191.73 301.3L195.13 304.7M191.73 304.7L195.13 301.3" stroke="#111111" stroke-width="1.62" fill="none"/>
<path d="M196.86 333.18L200.26 336.58M196.86 336.58L200.26 333.18" stroke="#111111" stroke-width="1.62" fill="none"/>
<path d="M201.99 292.93L205.39 296.33M201.99 296.33L205.39 292.93" stroke="#111111" stroke-width="1.62" fill="none"/>
<path d="M207.12 284.88L210.52 288.28M207.12 288.28L210.52 284.88" stroke="#111111" stroke-width="1.62" fill="none"/>
<path d="M212.25 297.6L215.65 301M212.25 301L215.65 297.6" stroke="#111111" stroke-width="1.62" fill="none"/>
<path d="M217.38 292.93L220.78 296.33M217.38 296.33L220.78 292.93" stroke="#111111" stroke-width="1.62" fill="none"/>
<path d="M222.51 303.56L225.91 306.96M222.51 306.96L225.91 303.56" stroke="#111111" stroke-width="1.62" fill="none"/>
<path d="M227.64 294.22L231.04 297.62M227.64 297.62L231.04 294.22" stroke="#111111" stroke-width="1.62" fill="none"/>
<path d="M232.77 294.38L236.17 297.78M232.77 297.78L236.17 294.38" stroke="#111111" stroke-width="1.62" fill="none"/>
<path d="M237.9 324.81L241.3 328.21M237.9 328.21L241.3 324.81" stroke="#111111" stroke-width="1.62" fill="none"/>
<path d="M243.03 296.15L246.43 299.55M243.03 299.55L246.43 296.15" stroke="#111111" stroke-width="1.62" fill="none"/>
<polyline points="39.53,331.82 44.66,296.88 49.79,291.25 54.92,287.71 60.05,286.1 65.18,304.45 70.31,280.14 75.44,318.78 80.57,289.32 85.7,288.51 90.83,260.66 95.96,304.77 101.09,302.04 106.22,309.6 111.35,310.25 116.48,306.38 121.61,298.5 126.74,282.39 131.87,291.09 137,315.08 142.13,313.63 147.26,303.16 152.39,301.88 157.52,313.47 162.65,301.55 167.78,299.14 172.91,295.6 178.04,320.55 183.17,305.1 188.3,297.53 193.43,302.84 198.56,337.46 203.69,292.38 208.82,288.51 213.95,299.14 219.08,294.47 224.21,305.1 229.34,299.14 234.47,301.55 239.6,324.58 244.73,300.43" fill="none" stroke="#ff85c4" stroke-width="1.35" stroke-linejoin="round"/>
<rect x="37.33" y="329.62" width="4.4" height="4.4" stroke="#ff85c4" stroke-width="1.25" fill="none"/>
<rect x="42.46" y="294.69" width="4.4" height="4.4" stroke="#ff85c4" stroke-width="1.25" fill="none"/>
<rect x="47.59" y="289.05" width="4.4" height="4.4" stroke="#ff85c4" stroke-width="1.25" fill="none"/>
<rect x="52.72" y="285.51" width="4.4" height="4.4" stroke="#ff85c4" stroke-width="1.25" fill="none"/>
<rect x="57.85" y="283.9" width="4.4" height="4.4" stroke="#ff85c4" stroke-width="1.25" fill="none"/>
<rect x="62.98" y="302.25" width="4.4" height="4.4" stroke="#ff85c4" stroke-width="1.25" fill="none"/>
<rect x="68.11" y="277.94" width="4.4" height="4.4" stroke="#ff85c4" stroke-width="1.25" fill="none"/>
<rect x="73.24" y="316.58" width="4.4" height="4.4" stroke="#ff85c4" stroke-width="1.25" fill="none"/>
<rect x="78.37" y="287.12" width="4.4" height="4.4" stroke="#ff85c4" stroke-width="1.25" fill="none"/>
<rect x="83.5" y="286.31" width="4.4" height="4.4" stroke="#ff85c4" stroke-width="1.25" fill="none"/>
<rect x="88.63" y="258.46" width="4.4" height="4.4" stroke="#ff85c4" stroke-width="1.25" fill="none"/>
<rect x="93.76" y="302.57" width="4.4" height="4.4" stroke="#ff85c4" stroke-width="1.25" fill="none"/>
<rect x="98.89" y="299.84" width="4.4" height="4.4" stroke="#ff85c4" stroke-width="1.25" fill="none"/>
<rect x="104.02" y="307.4" width="4.4" height="4.4" stroke="#ff85c4" stroke-width="1.25" fill="none"/>
<rect x="109.15" y="308.05" width="4.4" height="4.4" stroke="#ff85c4" stroke-width="1.25" fill="none"/>
<rect x="114.28" y="304.18" width="4.4" height="4.4" stroke="#ff85c4" stroke-width="1.25" fill="none"/>
<rect x="119.41" y="296.3" width="4.4" height="4.4" stroke="#ff85c4" stroke-width="1.25" fill="none"/>
<rect x="124.54" y="280.19" width="4.4" height="4.4" stroke="#ff85c4" stroke-width="1.25" fill="none"/>
<rect x="129.67" y="288.89" width="4.4" height="4.4" stroke="#ff85c4" stroke-width="1.25" fill="none"/>
<rect x="134.8" y="312.88" width="4.4" height="4.4" stroke="#ff85c4" stroke-width="1.25" fill="none"/>
<rect x="139.93" y="311.43" width="4.4" height="4.4" stroke="#ff85c4" stroke-width="1.25" fill="none"/>
<rect x="145.06" y="300.96" width="4.4" height="4.4" stroke="#ff85c4" stroke-width="1.25" fill="none"/>
<rect x="150.19" y="299.68" width="4.4" height="4.4" stroke="#ff85c4" stroke-width="1.25" fill="none"/>
<rect x="155.32" y="311.27" width="4.4" height="4.4" stroke="#ff85c4" stroke-width="1.25" fill="none"/>
<rect x="160.45" y="299.35" width="4.4" height="4.4" stroke="#ff85c4" stroke-width="1.25" fill="none"/>
<rect x="165.58" y="296.94" width="4.4" height="4.4" stroke="#ff85c4" stroke-width="1.25" fill="none"/>
<rect x="170.71" y="293.4" width="4.4" height="4.4" stroke="#ff85c4" stroke-width="1.25" fill="none"/>
<rect x="175.84" y="318.35" width="4.4" height="4.4" stroke="#ff85c4" stroke-width="1.25" fill="none"/>
<rect x="180.97" y="302.9" width="4.4" height="4.4" stroke="#ff85c4" stroke-width="1.25" fill="none"/>
<rect x="186.1" y="295.33" width="4.4" height="4.4" stroke="#ff85c4" stroke-width="1.25" fill="none"/>
<rect x="191.23" y="300.64" width="4.4" height="4.4" stroke="#ff85c4" stroke-width="1.25" fill="none"/>
<rect x="196.36" y="335.26" width="4.4" height="4.4" stroke="#ff85c4" stroke-width="1.25" fill="none"/>
<rect x="201.49" y="290.18" width="4.4" height="4.4" stroke="#ff85c4" stroke-width="1.25" fill="none"/>
<rect x="206.62" y="286.31" width="4.4" height="4.4" stroke="#ff85c4" stroke-width="1.25" fill="none"/>
<rect x="211.75" y="296.94" width="4.4" height="4.4" stroke="#ff85c4" stroke-width="1.25" fill="none"/>
<rect x="216.88" y="292.27" width="4.4" height="4.4" stroke="#ff85c4" stroke-width="1.25" fill="none"/>
<rect x="222.01" y="302.9" width="4.4" height="4.4" stroke="#ff85c4" stroke-width="1.25" fill="none"/>
<rect x="227.14" y="296.94" width="4.4" height="4.4" stroke="#ff85c4" stroke-width="1.25" fill="none"/>
<rect x="232.27" y="299.35" width="4.4" height="4.4" stroke="#ff85c4" stroke-width="1.25" fill="none"/>
<rect x="237.4" y="322.38" width="4.4" height="4.4" stroke="#ff85c4" stroke-width="1.25" fill="none"/>
<rect x="242.53" y="298.23" width="4.4" height="4.4" stroke="#ff85c4" stroke-width="1.25" fill="none"/>
<polyline points="39.53,332.95 44.66,294.47 49.79,287.06 54.92,286.1 60.05,281.91 65.18,303.65 70.31,277.73 75.44,316.04 80.57,287.06 85.7,288.03 90.83,257.12 95.96,303.97 101.09,301.39 106.22,307.83 111.35,309.76 116.48,305.1 121.61,298.33 126.74,280.95 131.87,289.16 137,321.68 142.13,315.88 147.26,311.38 152.39,301.55 157.52,311.38 162.65,301.39 167.78,298.98 172.91,295.44 178.04,320.07 183.17,307.35 188.3,297.37 193.43,305.42 198.56,339.71 203.69,290.77 208.82,288.03 213.95,298.98 219.08,293.18 224.21,304.94 229.34,298.98 234.47,301.39 239.6,327.31 244.73,300.27" fill="none" stroke="#2bbdbd" stroke-width="1.35" stroke-linejoin="round"/>
<rect x="37.33" y="330.75" width="4.4" height="4.4" stroke="#2bbdbd" stroke-width="1.25" fill="none"/>
<rect x="42.46" y="292.27" width="4.4" height="4.4" stroke="#2bbdbd" stroke-width="1.25" fill="none"/>
<rect x="47.59" y="284.86" width="4.4" height="4.4" stroke="#2bbdbd" stroke-width="1.25" fill="none"/>
<rect x="52.72" y="283.9" width="4.4" height="4.4" stroke="#2bbdbd" stroke-width="1.25" fill="none"/>
<rect x="57.85" y="279.71" width="4.4" height="4.4" stroke="#2bbdbd" stroke-width="1.25" fill="none"/>
<rect x="62.98" y="301.45" width="4.4" height="4.4" stroke="#2bbdbd" stroke-width="1.25" fill="none"/>
<rect x="68.11" y="275.53" width="4.4" height="4.4" stroke="#2bbdbd" stroke-width="1.25" fill="none"/>
<rect x="73.24" y="313.84" width="4.4" height="4.4" stroke="#2bbdbd" stroke-width="1.25" fill="none"/>
<rect x="78.37" y="284.86" width="4.4" height="4.4" stroke="#2bbdbd" stroke-width="1.25" fill="none"/>
<rect x="83.5" y="285.83" width="4.4" height="4.4" stroke="#2bbdbd" stroke-width="1.25" fill="none"/>
<rect x="88.63" y="254.92" width="4.4" height="4.4" stroke="#2bbdbd" stroke-width="1.25" fill="none"/>
<rect x="93.76" y="301.77" width="4.4" height="4.4" stroke="#2bbdbd" stroke-width="1.25" fill="none"/>
<rect x="98.89" y="299.19" width="4.4" height="4.4" stroke="#2bbdbd" stroke-width="1.25" fill="none"/>
<rect x="104.02" y="305.63" width="4.4" height="4.4" stroke="#2bbdbd" stroke-width="1.25" fill="none"/>
<rect x="109.15" y="307.56" width="4.4" height="4.4" stroke="#2bbdbd" stroke-width="1.25" fill="none"/>
<rect x="114.28" y="302.9" width="4.4" height="4.4" stroke="#2bbdbd" stroke-width="1.25" fill="none"/>
<rect x="119.41" y="296.13" width="4.4" height="4.4" stroke="#2bbdbd" stroke-width="1.25" fill="none"/>
<rect x="124.54" y="278.75" width="4.4" height="4.4" stroke="#2bbdbd" stroke-width="1.25" fill="none"/>
<rect x="129.67" y="286.96" width="4.4" height="4.4" stroke="#2bbdbd" stroke-width="1.25" fill="none"/>
<rect x="134.8" y="319.48" width="4.4" height="4.4" stroke="#2bbdbd" stroke-width="1.25" fill="none"/>
<rect x="139.93" y="313.68" width="4.4" height="4.4" stroke="#2bbdbd" stroke-width="1.25" fill="none"/>
<rect x="145.06" y="309.18" width="4.4" height="4.4" stroke="#2bbdbd" stroke-width="1.25" fill="none"/>
<rect x="150.19" y="299.35" width="4.4" height="4.4" stroke="#2bbdbd" stroke-width="1.25" fill="none"/>
<rect x="155.32" y="309.18" width="4.4" height="4.4" stroke="#2bbdbd" stroke-width="1.25" fill="none"/>
<rect x="160.45" y="299.19" width="4.4" height="4.4" stroke="#2bbdbd" stroke-width="1.25" fill="none"/>
<rect x="165.58" y="296.78" width="4.4" height="4.4" stroke="#2bbdbd" stroke-width="1.25" fill="none"/>
<rect x="170.71" y="293.24" width="4.4" height="4.4" stroke="#2bbdbd" stroke-width="1.25" fill="none"/>
<rect x="175.84" y="317.87" width="4.4" height="4.4" stroke="#2bbdbd" stroke-width="1.25" fill="none"/>
<rect x="180.97" y="305.15" width="4.4" height="4.4" stroke="#2bbdbd" stroke-width="1.25" fill="none"/>
<rect x="186.1" y="295.17" width="4.4" height="4.4" stroke="#2bbdbd" stroke-width="1.25" fill="none"/>
<rect x="191.23" y="303.22" width="4.4" height="4.4" stroke="#2bbdbd" stroke-width="1.25" fill="none"/>
<rect x="196.36" y="337.51" width="4.4" height="4.4" stroke="#2bbdbd" stroke-width="1.25" fill="none"/>
<rect x="201.49" y="288.57" width="4.4" height="4.4" stroke="#2bbdbd" stroke-width="1.25" fill="none"/>
<rect x="206.62" y="285.83" width="4.4" height="4.4" stroke="#2bbdbd" stroke-width="1.25" fill="none"/>
<rect x="211.75" y="296.78" width="4.4" height="4.4" stroke="#2bbdbd" stroke-width="1.25" fill="none"/>
<rect x="216.88" y="290.98" width="4.4" height="4.4" stroke="#2bbdbd" stroke-width="1.25" fill="none"/>
<rect x="222.01" y="302.74" width="4.4" height="4.4" stroke="#2bbdbd" stroke-width="1.25" fill="none"/>
<rect x="227.14" y="296.78" width="4.4" height="4.4" stroke="#2bbdbd" stroke-width="1.25" fill="none"/>
<rect x="232.27" y="299.19" width="4.4" height="4.4" stroke="#2bbdbd" stroke-width="1.25" fill="none"/>
<rect x="237.4" y="325.11" width="4.4" height="4.4" stroke="#2bbdbd" stroke-width="1.25" fill="none"/>
<rect x="242.53" y="298.07" width="4.4" height="4.4" stroke="#2bbdbd" stroke-width="1.25" fill="none"/>
<polyline points="39.53,330.53 44.66,300.11 49.79,294.79 54.92,290.28 60.05,289.8 65.18,305.74 70.31,283.04 75.44,322.81 80.57,292.22 85.7,289.16 90.83,263.72 95.96,306.38 101.09,303 106.22,311.86 111.35,310.57 116.48,306.71 121.61,298.82 126.74,284 131.87,293.34 137,317.81 142.13,314.27 147.26,308.48 152.39,303.16 157.52,313.79 162.65,301.88 167.78,299.46 172.91,295.92 178.04,320.87 183.17,305.42 188.3,297.85 193.43,303.16 198.56,335.04 203.69,294.79 208.82,288.84 213.95,299.46 219.08,294.79 224.21,305.42 229.34,299.46 234.47,301.88 239.6,324.9 244.73,300.75" fill="none" stroke="#174a17" stroke-width="1.6" stroke-linejoin="round"/>
<rect x="37.33" y="328.33" width="4.4" height="4.4" stroke="#174a17" stroke-width="1.5" fill="none"/>
<rect x="42.46" y="297.91" width="4.4" height="4.4" stroke="#174a17" stroke-width="1.5" fill="none"/>
<rect x="47.59" y="292.59" width="4.4" height="4.4" stroke="#174a17" stroke-width="1.5" fill="none"/>
<rect x="52.72" y="288.08" width="4.4" height="4.4" stroke="#174a17" stroke-width="1.5" fill="none"/>
<rect x="57.85" y="287.6" width="4.4" height="4.4" stroke="#174a17" stroke-width="1.5" fill="none"/>
<rect x="62.98" y="303.54" width="4.4" height="4.4" stroke="#174a17" stroke-width="1.5" fill="none"/>
<rect x="68.11" y="280.84" width="4.4" height="4.4" stroke="#174a17" stroke-width="1.5" fill="none"/>
<rect x="73.24" y="320.61" width="4.4" height="4.4" stroke="#174a17" stroke-width="1.5" fill="none"/>
<rect x="78.37" y="290.02" width="4.4" height="4.4" stroke="#174a17" stroke-width="1.5" fill="none"/>
<rect x="83.5" y="286.96" width="4.4" height="4.4" stroke="#174a17" stroke-width="1.5" fill="none"/>
<rect x="88.63" y="261.52" width="4.4" height="4.4" stroke="#174a17" stroke-width="1.5" fill="none"/>
<rect x="93.76" y="304.18" width="4.4" height="4.4" stroke="#174a17" stroke-width="1.5" fill="none"/>
<rect x="98.89" y="300.8" width="4.4" height="4.4" stroke="#174a17" stroke-width="1.5" fill="none"/>
<rect x="104.02" y="309.66" width="4.4" height="4.4" stroke="#174a17" stroke-width="1.5" fill="none"/>
<rect x="109.15" y="308.37" width="4.4" height="4.4" stroke="#174a17" stroke-width="1.5" fill="none"/>
<rect x="114.28" y="304.51" width="4.4" height="4.4" stroke="#174a17" stroke-width="1.5" fill="none"/>
<rect x="119.41" y="296.62" width="4.4" height="4.4" stroke="#174a17" stroke-width="1.5" fill="none"/>
<rect x="124.54" y="281.81" width="4.4" height="4.4" stroke="#174a17" stroke-width="1.5" fill="none"/>
<rect x="129.67" y="291.14" width="4.4" height="4.4" stroke="#174a17" stroke-width="1.5" fill="none"/>
<rect x="134.8" y="315.62" width="4.4" height="4.4" stroke="#174a17" stroke-width="1.5" fill="none"/>
<rect x="139.93" y="312.07" width="4.4" height="4.4" stroke="#174a17" stroke-width="1.5" fill="none"/>
<rect x="145.06" y="306.28" width="4.4" height="4.4" stroke="#174a17" stroke-width="1.5" fill="none"/>
<rect x="150.19" y="300.96" width="4.4" height="4.4" stroke="#174a17" stroke-width="1.5" fill="none"/>
<rect x="155.32" y="311.59" width="4.4" height="4.4" stroke="#174a17" stroke-width="1.5" fill="none"/>
<rect x="160.45" y="299.68" width="4.4" height="4.4" stroke="#174a17" stroke-width="1.5" fill="none"/>
<rect x="165.58" y="297.26" width="4.4" height="4.4" stroke="#174a17" stroke-width="1.5" fill="none"/>
<rect x="170.71" y="293.72" width="4.4" height="4.4" stroke="#174a17" stroke-width="1.5" fill="none"/>
<rect x="175.84" y="318.67" width="4.4" height="4.4" stroke="#174a17" stroke-width="1.5" fill="none"/>
<rect x="180.97" y="303.22" width="4.4" height="4.4" stroke="#174a17" stroke-width="1.5" fill="none"/>
<rect x="186.1" y="295.65" width="4.4" height="4.4" stroke="#174a17" stroke-width="1.5" fill="none"/>
<rect x="191.23" y="300.96" width="4.4" height="4.4" stroke="#174a17" stroke-width="1.5" fill="none"/>
<rect x="196.36" y="332.84" width="4.4" height="4.4" stroke="#174a17" stroke-width="1.5" fill="none"/>
<rect x="201.49" y="292.59" width="4.4" height="4.4" stroke="#174a17" stroke-width="1.5" fill="none"/>
<rect x="206.62" y="286.64" width="4.4" height="4.4" stroke="#174a17" stroke-width="1.5" fill="none"/>
<rect x="211.75" y="297.26" width="4.4" height="4.4" stroke="#174a17" stroke-width="1.5" fill="none"/>
<rect x="216.88" y="292.59" width="4.4" height="4.4" stroke="#174a17" stroke-width="1.5" fill="none"/>
<rect x="222.01" y="303.22" width="4.4" height="4.4" stroke="#174a17" stroke-width="1.5" fill="none"/>
<rect x="227.14" y="297.26" width="4.4" height="4.4" stroke="#174a17" stroke-width="1.5" fill="none"/>
<rect x="232.27" y="299.68" width="4.4" height="4.4" stroke="#174a17" stroke-width="1.5" fill="none"/>
<rect x="237.4" y="322.7" width="4.4" height="4.4" stroke="#174a17" stroke-width="1.5" fill="none"/>
<rect x="242.53" y="298.55" width="4.4" height="4.4" stroke="#174a17" stroke-width="1.5" fill="none"/>
<rect x="140.7" y="300" width="9.1" height="31.4" stroke="#000" stroke-width="1.5" fill="none"/>
<rect x="225.4" y="291.7" width="13.3" height="21.1" stroke="#000" stroke-width="1.5" fill="none"/>
<line x1="145.3" y1="300" x2="165.6" y2="282.3" stroke="#000" stroke-width="1.5"/>
<line x1="230.5" y1="282.3" x2="233" y2="291.2" stroke="#000" stroke-width="1.7"/>
<rect x="142.7" y="239.5" width="43.8" height="31.3" stroke="#000" stroke-width="1.45" fill="#fff"/>
<clipPath id="cc1"><rect x="142.7" y="239.5" width="43.8" height="31.3"/></clipPath>
<line x1="142.7" y1="246.6" x2="186.5" y2="246.6" stroke="#cfcfcf" stroke-width="0.9"/>
<line x1="142.7" y1="255.5" x2="186.5" y2="255.5" stroke="#cfcfcf" stroke-width="0.9"/>
<line x1="142.7" y1="264.4" x2="186.5" y2="264.4" stroke="#cfcfcf" stroke-width="0.9"/>
<line x1="149.8" y1="239.5" x2="149.8" y2="270.8" stroke="#cfcfcf" stroke-width="0.9"/>
<line x1="174.5" y1="239.5" x2="174.5" y2="270.8" stroke="#cfcfcf" stroke-width="0.9"/>
<g clip-path="url(#cc1)">
<polyline points="125.1,264.76 149.8,261.2 174.5,263.87 199.2,247.85" fill="none" stroke="#ff1a1a" stroke-width="1.8" stroke-linejoin="round" stroke-dasharray="1.71 1.89"/>
<path d="M123.5 263.16L126.7 266.36M123.5 266.36L126.7 263.16" stroke="#ff1a1a" stroke-width="1.43" fill="none"/>
<path d="M148.2 259.6L151.4 262.8M148.2 262.8L151.4 259.6" stroke="#ff1a1a" stroke-width="1.43" fill="none"/>
<path d="M172.9 262.27L176.1 265.47M172.9 265.47L176.1 262.27" stroke="#ff1a1a" stroke-width="1.43" fill="none"/>
<path d="M197.6 246.25L200.8 249.45M197.6 249.45L200.8 246.25" stroke="#ff1a1a" stroke-width="1.43" fill="none"/>
<polyline points="125.1,268.85 149.8,264.04 174.5,262.62 199.2,246.07" fill="none" stroke="#1a1aff" stroke-width="1.8" stroke-linejoin="round" stroke-dasharray="1.71 1.89"/>
<path d="M123.5 267.25L126.7 270.45M123.5 270.45L126.7 267.25" stroke="#1a1aff" stroke-width="1.43" fill="none"/>
<path d="M148.2 262.44L151.4 265.64M148.2 265.64L151.4 262.44" stroke="#1a1aff" stroke-width="1.43" fill="none"/>
<path d="M172.9 261.02L176.1 264.22M172.9 264.22L176.1 261.02" stroke="#1a1aff" stroke-width="1.43" fill="none"/>
<path d="M197.6 244.47L200.8 247.67M197.6 247.67L200.8 244.47" stroke="#1a1aff" stroke-width="1.43" fill="none"/>
<polyline points="125.1,265.65 149.8,264.58 174.5,263.87 199.2,249.09" fill="none" stroke="#111111" stroke-width="1.8" stroke-linejoin="round" stroke-dasharray="1.71 1.89"/>
<path d="M123.5 264.05L126.7 267.25M123.5 267.25L126.7 264.05" stroke="#111111" stroke-width="1.43" fill="none"/>
<path d="M148.2 262.98L151.4 266.18M148.2 266.18L151.4 262.98" stroke="#111111" stroke-width="1.43" fill="none"/>
<path d="M172.9 262.27L176.1 265.47M172.9 265.47L176.1 262.27" stroke="#111111" stroke-width="1.43" fill="none"/>
<path d="M197.6 247.49L200.8 250.69M197.6 250.69L200.8 247.49" stroke="#111111" stroke-width="1.43" fill="none"/>
<polyline points="125.1,264.04 149.8,262.44 174.5,250.87 199.2,249.45" fill="none" stroke="#ff85c4" stroke-width="1.8" stroke-linejoin="round"/>
<rect x="123.1" y="262.04" width="4" height="4" stroke="#ff85c4" stroke-width="1.1" fill="#ff85c4"/>
<rect x="147.8" y="260.44" width="4" height="4" stroke="#ff85c4" stroke-width="1.1" fill="#ff85c4"/>
<rect x="172.5" y="248.87" width="4" height="4" stroke="#ff85c4" stroke-width="1.1" fill="#ff85c4"/>
<rect x="197.2" y="247.45" width="4" height="4" stroke="#ff85c4" stroke-width="1.1" fill="#ff85c4"/>
<polyline points="125.1,271.34 149.8,264.93 174.5,259.95 199.2,249.09" fill="none" stroke="#2bbdbd" stroke-width="1.8" stroke-linejoin="round"/>
<rect x="123.1" y="269.34" width="4" height="4" stroke="#2bbdbd" stroke-width="1.1" fill="#2bbdbd"/>
<rect x="147.8" y="262.93" width="4" height="4" stroke="#2bbdbd" stroke-width="1.1" fill="#2bbdbd"/>
<rect x="172.5" y="257.95" width="4" height="4" stroke="#2bbdbd" stroke-width="1.1" fill="#2bbdbd"/>
<rect x="197.2" y="247.09" width="4" height="4" stroke="#2bbdbd" stroke-width="1.1" fill="#2bbdbd"/>
<polyline points="125.1,267.07 149.8,263.15 174.5,256.75 199.2,250.87" fill="none" stroke="#174a17" stroke-width="1.8" stroke-linejoin="round"/>
<rect x="123.1" y="265.07" width="4" height="4" stroke="#174a17" stroke-width="1.1" fill="#174a17"/>
<rect x="147.8" y="261.15" width="4" height="4" stroke="#174a17" stroke-width="1.1" fill="#174a17"/>
<rect x="172.5" y="254.75" width="4" height="4" stroke="#174a17" stroke-width="1.1" fill="#174a17"/>
<rect x="197.2" y="248.87" width="4" height="4" stroke="#174a17" stroke-width="1.1" fill="#174a17"/>
</g>
<rect x="142.7" y="239.5" width="43.8" height="31.3" stroke="#000" stroke-width="1.45" fill="none"/>
<line x1="149.8" y1="239.5" x2="149.8" y2="242" stroke="#000" stroke-width="0.9"/>
<line x1="149.8" y1="270.8" x2="149.8" y2="268.3" stroke="#000" stroke-width="0.9"/>
<line x1="174.5" y1="239.5" x2="174.5" y2="242" stroke="#000" stroke-width="0.9"/>
<line x1="174.5" y1="270.8" x2="174.5" y2="268.3" stroke="#000" stroke-width="0.9"/>
<line x1="142.7" y1="246.6" x2="145.2" y2="246.6" stroke="#000" stroke-width="0.9"/>
<line x1="186.5" y1="246.6" x2="184" y2="246.6" stroke="#000" stroke-width="0.9"/>
<line x1="142.7" y1="255.5" x2="145.2" y2="255.5" stroke="#000" stroke-width="0.9"/>
<line x1="186.5" y1="255.5" x2="184" y2="255.5" stroke="#000" stroke-width="0.9"/>
<line x1="142.7" y1="264.4" x2="145.2" y2="264.4" stroke="#000" stroke-width="0.9"/>
<line x1="186.5" y1="264.4" x2="184" y2="264.4" stroke="#000" stroke-width="0.9"/>
<text x="140.4" y="250.3" text-anchor="end" font-size="10.8" fill="#000">0</text>
<text x="140.4" y="259.2" text-anchor="end" font-size="10.8" fill="#000">−5</text>
<text x="140.4" y="268.1" text-anchor="end" font-size="10.8" fill="#000">−10</text>
<text transform="translate(151.5 284.8) rotate(-6)" text-anchor="middle" font-size="10.8" fill="#222">L10–22</text>
<text transform="translate(177 284.3) rotate(-6)" text-anchor="middle" font-size="10.8" fill="#222">L12–13</text>
<rect x="207.1" y="239.5" width="44.5" height="31.3" stroke="#000" stroke-width="1.45" fill="#fff"/>
<clipPath id="cc2"><rect x="207.1" y="239.5" width="44.5" height="31.3"/></clipPath>
<line x1="207.1" y1="240.3" x2="251.6" y2="240.3" stroke="#cfcfcf" stroke-width="0.9"/>
<line x1="207.1" y1="245.9" x2="251.6" y2="245.9" stroke="#cfcfcf" stroke-width="0.9"/>
<line x1="207.1" y1="251.5" x2="251.6" y2="251.5" stroke="#cfcfcf" stroke-width="0.9"/>
<line x1="207.1" y1="257.1" x2="251.6" y2="257.1" stroke="#cfcfcf" stroke-width="0.9"/>
<line x1="207.1" y1="262.7" x2="251.6" y2="262.7" stroke="#cfcfcf" stroke-width="0.9"/>
<line x1="207.1" y1="268.3" x2="251.6" y2="268.3" stroke="#cfcfcf" stroke-width="0.9"/>
<line x1="220.8" y1="239.5" x2="220.8" y2="270.8" stroke="#cfcfcf" stroke-width="0.9"/>
<line x1="239.4" y1="239.5" x2="239.4" y2="270.8" stroke="#cfcfcf" stroke-width="0.9"/>
<g clip-path="url(#cc2)">
<polyline points="202.2,273.06 220.8,256.54 239.4,256.54 258,311.7" fill="none" stroke="#ff1a1a" stroke-width="1.8" stroke-linejoin="round" stroke-dasharray="1.71 1.89"/>
<path d="M200.6 271.46L203.8 274.66M200.6 274.66L203.8 271.46" stroke="#ff1a1a" stroke-width="1.43" fill="none"/>
<path d="M219.2 254.94L222.4 258.14M219.2 258.14L222.4 254.94" stroke="#ff1a1a" stroke-width="1.43" fill="none"/>
<path d="M237.8 254.94L241 258.14M237.8 258.14L241 254.94" stroke="#ff1a1a" stroke-width="1.43" fill="none"/>
<path d="M256.4 310.1L259.6 313.3M256.4 313.3L259.6 310.1" stroke="#ff1a1a" stroke-width="1.43" fill="none"/>
<polyline points="202.2,277.54 220.8,255.98 239.4,255.98 258,314.5" fill="none" stroke="#1a1aff" stroke-width="1.8" stroke-linejoin="round" stroke-dasharray="1.71 1.89"/>
<path d="M200.6 275.94L203.8 279.14M200.6 279.14L203.8 275.94" stroke="#1a1aff" stroke-width="1.43" fill="none"/>
<path d="M219.2 254.38L222.4 257.58M219.2 257.58L222.4 254.38" stroke="#1a1aff" stroke-width="1.43" fill="none"/>
<path d="M237.8 254.38L241 257.58M237.8 257.58L241 254.38" stroke="#1a1aff" stroke-width="1.43" fill="none"/>
<path d="M256.4 312.9L259.6 316.1M256.4 316.1L259.6 312.9" stroke="#1a1aff" stroke-width="1.43" fill="none"/>
<polyline points="202.2,273.06 220.8,256.82 239.4,257.1 258,310.02" fill="none" stroke="#111111" stroke-width="1.8" stroke-linejoin="round" stroke-dasharray="1.71 1.89"/>
<path d="M200.6 271.46L203.8 274.66M200.6 274.66L203.8 271.46" stroke="#111111" stroke-width="1.43" fill="none"/>
<path d="M219.2 255.22L222.4 258.42M219.2 258.42L222.4 255.22" stroke="#111111" stroke-width="1.43" fill="none"/>
<path d="M237.8 255.5L241 258.7M237.8 258.7L241 255.5" stroke="#111111" stroke-width="1.43" fill="none"/>
<path d="M256.4 308.42L259.6 311.62M256.4 311.62L259.6 308.42" stroke="#111111" stroke-width="1.43" fill="none"/>
<polyline points="202.2,272.78 220.8,262.42 239.4,266.62 258,306.66" fill="none" stroke="#ff85c4" stroke-width="1.8" stroke-linejoin="round"/>
<rect x="200.2" y="270.78" width="4" height="4" stroke="#ff85c4" stroke-width="1.1" fill="#ff85c4"/>
<rect x="218.8" y="260.42" width="4" height="4" stroke="#ff85c4" stroke-width="1.1" fill="#ff85c4"/>
<rect x="237.4" y="264.62" width="4" height="4" stroke="#ff85c4" stroke-width="1.1" fill="#ff85c4"/>
<rect x="256" y="304.66" width="4" height="4" stroke="#ff85c4" stroke-width="1.1" fill="#ff85c4"/>
<polyline points="202.2,272.5 220.8,262.14 239.4,266.34 258,311.42" fill="none" stroke="#2bbdbd" stroke-width="1.8" stroke-linejoin="round"/>
<rect x="200.2" y="270.5" width="4" height="4" stroke="#2bbdbd" stroke-width="1.1" fill="#2bbdbd"/>
<rect x="218.8" y="260.14" width="4" height="4" stroke="#2bbdbd" stroke-width="1.1" fill="#2bbdbd"/>
<rect x="237.4" y="264.34" width="4" height="4" stroke="#2bbdbd" stroke-width="1.1" fill="#2bbdbd"/>
<rect x="256" y="309.42" width="4" height="4" stroke="#2bbdbd" stroke-width="1.1" fill="#2bbdbd"/>
<polyline points="202.2,273.34 220.8,262.98 239.4,267.18 258,307.22" fill="none" stroke="#174a17" stroke-width="1.8" stroke-linejoin="round"/>
<rect x="200.2" y="271.34" width="4" height="4" stroke="#174a17" stroke-width="1.1" fill="#174a17"/>
<rect x="218.8" y="260.98" width="4" height="4" stroke="#174a17" stroke-width="1.1" fill="#174a17"/>
<rect x="237.4" y="265.18" width="4" height="4" stroke="#174a17" stroke-width="1.1" fill="#174a17"/>
<rect x="256" y="305.22" width="4" height="4" stroke="#174a17" stroke-width="1.1" fill="#174a17"/>
</g>
<rect x="207.1" y="239.5" width="44.5" height="31.3" stroke="#000" stroke-width="1.45" fill="none"/>
<line x1="220.8" y1="239.5" x2="220.8" y2="242" stroke="#000" stroke-width="0.9"/>
<line x1="220.8" y1="270.8" x2="220.8" y2="268.3" stroke="#000" stroke-width="0.9"/>
<line x1="239.4" y1="239.5" x2="239.4" y2="242" stroke="#000" stroke-width="0.9"/>
<line x1="239.4" y1="270.8" x2="239.4" y2="268.3" stroke="#000" stroke-width="0.9"/>
<line x1="207.1" y1="240.3" x2="209.6" y2="240.3" stroke="#000" stroke-width="0.9"/>
<line x1="251.6" y1="240.3" x2="249.1" y2="240.3" stroke="#000" stroke-width="0.9"/>
<line x1="207.1" y1="245.9" x2="209.6" y2="245.9" stroke="#000" stroke-width="0.9"/>
<line x1="251.6" y1="245.9" x2="249.1" y2="245.9" stroke="#000" stroke-width="0.9"/>
<line x1="207.1" y1="251.5" x2="209.6" y2="251.5" stroke="#000" stroke-width="0.9"/>
<line x1="251.6" y1="251.5" x2="249.1" y2="251.5" stroke="#000" stroke-width="0.9"/>
<line x1="207.1" y1="257.1" x2="209.6" y2="257.1" stroke="#000" stroke-width="0.9"/>
<line x1="251.6" y1="257.1" x2="249.1" y2="257.1" stroke="#000" stroke-width="0.9"/>
<line x1="207.1" y1="262.7" x2="209.6" y2="262.7" stroke="#000" stroke-width="0.9"/>
<line x1="251.6" y1="262.7" x2="249.1" y2="262.7" stroke="#000" stroke-width="0.9"/>
<line x1="207.1" y1="268.3" x2="209.6" y2="268.3" stroke="#000" stroke-width="0.9"/>
<line x1="251.6" y1="268.3" x2="249.1" y2="268.3" stroke="#000" stroke-width="0.9"/>
<text x="205.2" y="244" text-anchor="end" font-size="10.8" fill="#000">8</text>
<text x="205.2" y="249.6" text-anchor="end" font-size="10.8" fill="#000">6</text>
<text x="205.2" y="255.2" text-anchor="end" font-size="10.8" fill="#000">4</text>
<text x="205.2" y="260.8" text-anchor="end" font-size="10.8" fill="#000">2</text>
<text x="205.2" y="266.4" text-anchor="end" font-size="10.8" fill="#000">0</text>
<text x="205.2" y="272" text-anchor="end" font-size="10.8" fill="#000">−2</text>
<text x="221.5" y="284.8" text-anchor="middle" font-size="10.8" fill="#222">L27–29</text>
<text x="240.5" y="284.8" text-anchor="middle" font-size="10.8" fill="#222">L27–30</text>
<line x1="350.3" y1="234.7" x2="350.3" y2="362.2" stroke="#e9e9e9" stroke-width="0.8"/>
<line x1="375.6" y1="234.7" x2="375.6" y2="362.2" stroke="#e9e9e9" stroke-width="0.8"/>
<line x1="401.2" y1="234.7" x2="401.2" y2="362.2" stroke="#e9e9e9" stroke-width="0.8"/>
<line x1="426.6" y1="234.7" x2="426.6" y2="362.2" stroke="#e9e9e9" stroke-width="0.8"/>
<line x1="451.8" y1="234.7" x2="451.8" y2="362.2" stroke="#e9e9e9" stroke-width="0.8"/>
<line x1="472.9" y1="234.7" x2="472.9" y2="362.2" stroke="#e9e9e9" stroke-width="0.8"/>
<line x1="478.6" y1="234.7" x2="478.6" y2="362.2" stroke="#e9e9e9" stroke-width="0.8"/>
<line x1="497" y1="234.7" x2="497" y2="362.2" stroke="#e9e9e9" stroke-width="0.8"/>
<line x1="521.9" y1="234.7" x2="521.9" y2="362.2" stroke="#e9e9e9" stroke-width="0.8"/>
<line x1="325.4" y1="251" x2="550" y2="251" stroke="#e9e9e9" stroke-width="0.8"/>
<line x1="325.4" y1="278.7" x2="550" y2="278.7" stroke="#e9e9e9" stroke-width="0.8"/>
<line x1="325.4" y1="306.4" x2="550" y2="306.4" stroke="#e9e9e9" stroke-width="0.8"/>
<line x1="325.4" y1="334.1" x2="550" y2="334.1" stroke="#e9e9e9" stroke-width="0.8"/>
<text x="320.8" y="254.4" text-anchor="end" font-size="10.8" fill="#2a2a2a">100</text>
<line x1="325.4" y1="251" x2="327.4" y2="251" stroke="#5a5a5a" stroke-width="0.7"/>
<text x="320.8" y="282.1" text-anchor="end" font-size="10.8" fill="#2a2a2a">50</text>
<line x1="325.4" y1="278.7" x2="327.4" y2="278.7" stroke="#5a5a5a" stroke-width="0.7"/>
<text x="320.8" y="309.8" text-anchor="end" font-size="10.8" fill="#2a2a2a">0</text>
<line x1="325.4" y1="306.4" x2="327.4" y2="306.4" stroke="#5a5a5a" stroke-width="0.7"/>
<text x="320.8" y="337.5" text-anchor="end" font-size="10.8" fill="#2a2a2a">−50</text>
<line x1="325.4" y1="334.1" x2="327.4" y2="334.1" stroke="#5a5a5a" stroke-width="0.7"/>
<text x="320.8" y="365.2" text-anchor="end" font-size="10.8" fill="#2a2a2a">−100</text>
<line x1="325.4" y1="361.8" x2="327.4" y2="361.8" stroke="#5a5a5a" stroke-width="0.7"/>
<text transform="translate(296.5 300.3) rotate(-90)" text-anchor="middle" font-size="10.8" fill="#2a2a2a">Reactive Power [Mvar]</text>
<text transform="translate(353.9 367.8) rotate(-90)" text-anchor="end" font-size="10.6" fill="#2a2a2a">L12–117</text>
<text transform="translate(379.2 367.8) rotate(-90)" text-anchor="end" font-size="10.6" fill="#2a2a2a">L24–72</text>
<text transform="translate(404.8 367.8) rotate(-90)" text-anchor="end" font-size="10.6" fill="#2a2a2a">L37–39</text>
<text transform="translate(430.2 367.8) rotate(-90)" text-anchor="end" font-size="10.6" fill="#2a2a2a">L49–54</text>
<text transform="translate(455.4 367.8) rotate(-90)" text-anchor="end" font-size="10.6" fill="#2a2a2a">L61–62</text>
<text transform="translate(476.5 367.8) rotate(-90)" text-anchor="end" font-size="10.6" fill="#2a2a2a">L71–73</text>
<text transform="translate(482.2 367.8) rotate(-90)" text-anchor="end" font-size="10.6" fill="#2a2a2a">L75–118</text>
<text transform="translate(500.6 367.8) rotate(-90)" text-anchor="end" font-size="10.6" fill="#2a2a2a">L84–85</text>
<text transform="translate(525.5 367.8) rotate(-90)" text-anchor="end" font-size="10.6" fill="#2a2a2a">L98–100</text>
<text x="436.2" y="417.5" text-anchor="middle" font-size="10.8" fill="#2a2a2a">Transmission Line</text>
<text x="435.3" y="429.5" text-anchor="middle" font-size="10.8" fill="#2a2a2a">(d) 118 Bus–Bar System</text>
<line x1="325.4" y1="234.7" x2="325.4" y2="362.6" stroke="#5a5a5a" stroke-width="0.85"/>
<line x1="325" y1="362.2" x2="550" y2="362.2" stroke="#5a5a5a" stroke-width="0.85"/>
<line x1="350.3" y1="362.2" x2="350.3" y2="360.2" stroke="#5a5a5a" stroke-width="0.7"/>
<line x1="375.6" y1="362.2" x2="375.6" y2="360.2" stroke="#5a5a5a" stroke-width="0.7"/>
<line x1="401.2" y1="362.2" x2="401.2" y2="360.2" stroke="#5a5a5a" stroke-width="0.7"/>
<line x1="426.6" y1="362.2" x2="426.6" y2="360.2" stroke="#5a5a5a" stroke-width="0.7"/>
<line x1="451.8" y1="362.2" x2="451.8" y2="360.2" stroke="#5a5a5a" stroke-width="0.7"/>
<line x1="472.9" y1="362.2" x2="472.9" y2="360.2" stroke="#5a5a5a" stroke-width="0.7"/>
<line x1="478.6" y1="362.2" x2="478.6" y2="360.2" stroke="#5a5a5a" stroke-width="0.7"/>
<line x1="497" y1="362.2" x2="497" y2="360.2" stroke="#5a5a5a" stroke-width="0.7"/>
<line x1="521.9" y1="362.2" x2="521.9" y2="360.2" stroke="#5a5a5a" stroke-width="0.7"/>
<polyline points="326.67,308.94 327.95,309.92 329.22,315.85 330.5,313.08 331.77,310.63 333.05,296.72 334.32,301.4 335.6,307.13 336.88,305.6 338.15,304.12 339.42,306.23 340.7,308.67 341.97,311.21 343.25,308.36 344.52,321.37 345.8,297.63 347.07,304.44 348.35,302.92 349.62,300.78 350.9,304.59 352.17,314.58 353.45,307.75 354.72,299.18 356,304.26 357.27,304.61 358.55,310.27 359.82,322.54 361.1,317.85 362.38,297.17 363.65,302.25 364.92,304.66 366.2,309.57 367.47,316.41 368.75,305.94 370.02,299.39 371.3,315.4 372.57,304.3 373.85,295.4 375.12,313.92 376.4,285.76 377.67,294.86 378.95,283.46 380.22,286.74 381.5,293.02 382.77,300.54 384.05,301.91 385.32,322.02 386.6,285.64 387.88,303.79 389.15,295.64 390.42,315.83 391.7,306.51 392.97,303.51 394.25,299.06 395.52,302.87 396.8,304.96 398.07,309.06 399.35,302.4 400.62,300.84 401.9,278.64 403.17,318.83 404.45,310.03 405.72,304.13 407,300.96 408.27,290.22 409.55,314.9 410.82,308.35 412.1,303.47 413.38,302.29 414.65,300.28 415.92,297.05 417.2,301.59 418.47,305.64 419.75,300.73 421.02,303.15 422.3,298.43 423.57,281.4 424.85,300.35 426.12,303.96 427.4,308.49 428.67,302.67 429.95,304.56 431.22,308.32 432.5,314.28 433.77,289.57 435.05,301 436.32,303.91 437.6,306.01 438.88,302.26 440.15,300.56 441.42,304.16 442.7,296.5 443.97,314.28 445.25,304.94 446.52,297.02 447.8,303.36 449.07,308.22 450.35,311.36 451.62,323.7 452.9,287.2 454.17,298.11 455.45,276.05 456.72,295.13 458,252.79 459.27,248.42 460.55,252.61 461.82,336.22 463.1,277.4 464.38,300.06 465.65,309.07 466.92,323.35 468.2,333.11 469.47,292.97 470.75,300.43 472.02,311.58 473.3,322.29 474.57,295.47 475.85,300.86 477.12,308.35 478.4,286.51 479.67,300.77 480.95,321.84 482.22,304.08 483.5,299.38 484.77,304.32 486.05,308.97 487.32,305.71 488.6,302.33 489.88,311.78 491.15,336.63 492.42,309.93 493.7,304.63 494.97,302.7 496.25,308.76 497.52,296.48 498.8,303.91 500.07,310.69 501.35,321.21 502.62,312.8 503.9,292.03 505.17,279.33 506.45,289.68 507.72,301.47 509,294.42 510.27,302.71 511.55,298.03 512.82,308.8 514.1,295.35 515.38,280.82 516.65,299.85 517.92,335.81 519.2,317.59 520.47,304.12 521.75,302 523.02,304.26 524.3,298.12 525.57,314.25 526.85,303.38 528.12,302.72 529.4,305.35 530.67,303.69 531.95,305.33 533.22,302.94 534.5,301.04 535.77,304.77 537.05,305.81 538.32,306.43 539.6,305.25 540.88,307.27 542.15,306.8 543.42,307.92 544.7,308.8 545.97,315.23" fill="none" stroke="#ff1a1a" stroke-width="1.4" stroke-linejoin="round" stroke-dasharray="1.33 1.47"/>
<path d="M325.07 307.34L328.27 310.54M325.07 310.54L328.27 307.34" stroke="#ff1a1a" stroke-width="1.69" fill="none"/>
<path d="M326.35 308.32L329.55 311.52M326.35 311.52L329.55 308.32" stroke="#ff1a1a" stroke-width="1.69" fill="none"/>
<path d="M327.62 314.25L330.82 317.45M327.62 317.45L330.82 314.25" stroke="#ff1a1a" stroke-width="1.69" fill="none"/>
<path d="M328.9 311.48L332.1 314.68M328.9 314.68L332.1 311.48" stroke="#ff1a1a" stroke-width="1.69" fill="none"/>
<path d="M330.17 309.03L333.38 312.23M330.17 312.23L333.38 309.03" stroke="#ff1a1a" stroke-width="1.69" fill="none"/>
<path d="M331.45 295.12L334.65 298.32M331.45 298.32L334.65 295.12" stroke="#ff1a1a" stroke-width="1.69" fill="none"/>
<path d="M332.72 299.8L335.93 303M332.72 303L335.93 299.8" stroke="#ff1a1a" stroke-width="1.69" fill="none"/>
<path d="M334 305.53L337.2 308.73M334 308.73L337.2 305.53" stroke="#ff1a1a" stroke-width="1.69" fill="none"/>
<path d="M335.27 304L338.48 307.2M335.27 307.2L338.48 304" stroke="#ff1a1a" stroke-width="1.69" fill="none"/>
<path d="M336.55 302.52L339.75 305.72M336.55 305.72L339.75 302.52" stroke="#ff1a1a" stroke-width="1.69" fill="none"/>
<path d="M337.82 304.63L341.02 307.83M337.82 307.83L341.02 304.63" stroke="#ff1a1a" stroke-width="1.69" fill="none"/>
<path d="M339.1 307.07L342.3 310.27M339.1 310.27L342.3 307.07" stroke="#ff1a1a" stroke-width="1.69" fill="none"/>
<path d="M340.37 309.61L343.57 312.81M340.37 312.81L343.57 309.61" stroke="#ff1a1a" stroke-width="1.69" fill="none"/>
<path d="M341.65 306.76L344.85 309.96M341.65 309.96L344.85 306.76" stroke="#ff1a1a" stroke-width="1.69" fill="none"/>
<path d="M342.92 319.77L346.12 322.97M342.92 322.97L346.12 319.77" stroke="#ff1a1a" stroke-width="1.69" fill="none"/>
<path d="M344.2 296.03L347.4 299.23M344.2 299.23L347.4 296.03" stroke="#ff1a1a" stroke-width="1.69" fill="none"/>
<path d="M345.47 302.84L348.68 306.04M345.47 306.04L348.68 302.84" stroke="#ff1a1a" stroke-width="1.69" fill="none"/>
<path d="M346.75 301.32L349.95 304.52M346.75 304.52L349.95 301.32" stroke="#ff1a1a" stroke-width="1.69" fill="none"/>
<path d="M348.02 299.18L351.23 302.38M348.02 302.38L351.23 299.18" stroke="#ff1a1a" stroke-width="1.69" fill="none"/>
<path d="M349.3 302.99L352.5 306.19M349.3 306.19L352.5 302.99" stroke="#ff1a1a" stroke-width="1.69" fill="none"/>
<path d="M350.57 312.98L353.77 316.18M350.57 316.18L353.77 312.98" stroke="#ff1a1a" stroke-width="1.69" fill="none"/>
<path d="M351.85 306.15L355.05 309.35M351.85 309.35L355.05 306.15" stroke="#ff1a1a" stroke-width="1.69" fill="none"/>
<path d="M353.12 297.58L356.32 300.78M353.12 300.78L356.32 297.58" stroke="#ff1a1a" stroke-width="1.69" fill="none"/>
<path d="M354.4 302.66L357.6 305.86M354.4 305.86L357.6 302.66" stroke="#ff1a1a" stroke-width="1.69" fill="none"/>
<path d="M355.67 303.01L358.88 306.21M355.67 306.21L358.88 303.01" stroke="#ff1a1a" stroke-width="1.69" fill="none"/>
<path d="M356.95 308.67L360.15 311.87M356.95 311.87L360.15 308.67" stroke="#ff1a1a" stroke-width="1.69" fill="none"/>
<path d="M358.22 320.94L361.43 324.14M358.22 324.14L361.43 320.94" stroke="#ff1a1a" stroke-width="1.69" fill="none"/>
<path d="M359.5 316.25L362.7 319.45M359.5 319.45L362.7 316.25" stroke="#ff1a1a" stroke-width="1.69" fill="none"/>
<path d="M360.77 295.57L363.98 298.77M360.77 298.77L363.98 295.57" stroke="#ff1a1a" stroke-width="1.69" fill="none"/>
<path d="M362.05 300.65L365.25 303.85M362.05 303.85L365.25 300.65" stroke="#ff1a1a" stroke-width="1.69" fill="none"/>
<path d="M363.32 303.06L366.52 306.26M363.32 306.26L366.52 303.06" stroke="#ff1a1a" stroke-width="1.69" fill="none"/>
<path d="M364.6 307.97L367.8 311.17M364.6 311.17L367.8 307.97" stroke="#ff1a1a" stroke-width="1.69" fill="none"/>
<path d="M365.87 314.81L369.07 318.01M365.87 318.01L369.07 314.81" stroke="#ff1a1a" stroke-width="1.69" fill="none"/>
<path d="M367.15 304.34L370.35 307.54M367.15 307.54L370.35 304.34" stroke="#ff1a1a" stroke-width="1.69" fill="none"/>
<path d="M368.42 297.79L371.62 300.99M368.42 300.99L371.62 297.79" stroke="#ff1a1a" stroke-width="1.69" fill="none"/>
<path d="M369.7 313.8L372.9 317M369.7 317L372.9 313.8" stroke="#ff1a1a" stroke-width="1.69" fill="none"/>
<path d="M370.97 302.7L374.18 305.9M370.97 305.9L374.18 302.7" stroke="#ff1a1a" stroke-width="1.69" fill="none"/>
<path d="M372.25 293.8L375.45 297M372.25 297L375.45 293.8" stroke="#ff1a1a" stroke-width="1.69" fill="none"/>
<path d="M373.52 312.32L376.73 315.52M373.52 315.52L376.73 312.32" stroke="#ff1a1a" stroke-width="1.69" fill="none"/>
<path d="M374.8 284.16L378 287.36M374.8 287.36L378 284.16" stroke="#ff1a1a" stroke-width="1.69" fill="none"/>
<path d="M376.07 293.26L379.27 296.46M376.07 296.46L379.27 293.26" stroke="#ff1a1a" stroke-width="1.69" fill="none"/>
<path d="M377.35 281.86L380.55 285.06M377.35 285.06L380.55 281.86" stroke="#ff1a1a" stroke-width="1.69" fill="none"/>
<path d="M378.62 285.14L381.82 288.34M378.62 288.34L381.82 285.14" stroke="#ff1a1a" stroke-width="1.69" fill="none"/>
<path d="M379.9 291.42L383.1 294.62M379.9 294.62L383.1 291.42" stroke="#ff1a1a" stroke-width="1.69" fill="none"/>
<path d="M381.17 298.94L384.38 302.14M381.17 302.14L384.38 298.94" stroke="#ff1a1a" stroke-width="1.69" fill="none"/>
<path d="M382.45 300.31L385.65 303.51M382.45 303.51L385.65 300.31" stroke="#ff1a1a" stroke-width="1.69" fill="none"/>
<path d="M383.72 320.42L386.93 323.62M383.72 323.62L386.93 320.42" stroke="#ff1a1a" stroke-width="1.69" fill="none"/>
<path d="M385 284.04L388.2 287.24M385 287.24L388.2 284.04" stroke="#ff1a1a" stroke-width="1.69" fill="none"/>
<path d="M386.27 302.19L389.48 305.39M386.27 305.39L389.48 302.19" stroke="#ff1a1a" stroke-width="1.69" fill="none"/>
<path d="M387.55 294.04L390.75 297.24M387.55 297.24L390.75 294.04" stroke="#ff1a1a" stroke-width="1.69" fill="none"/>
<path d="M388.82 314.23L392.02 317.43M388.82 317.43L392.02 314.23" stroke="#ff1a1a" stroke-width="1.69" fill="none"/>
<path d="M390.1 304.91L393.3 308.11M390.1 308.11L393.3 304.91" stroke="#ff1a1a" stroke-width="1.69" fill="none"/>
<path d="M391.37 301.91L394.57 305.11M391.37 305.11L394.57 301.91" stroke="#ff1a1a" stroke-width="1.69" fill="none"/>
<path d="M392.65 297.46L395.85 300.66M392.65 300.66L395.85 297.46" stroke="#ff1a1a" stroke-width="1.69" fill="none"/>
<path d="M393.92 301.27L397.12 304.47M393.92 304.47L397.12 301.27" stroke="#ff1a1a" stroke-width="1.69" fill="none"/>
<path d="M395.2 303.36L398.4 306.56M395.2 306.56L398.4 303.36" stroke="#ff1a1a" stroke-width="1.69" fill="none"/>
<path d="M396.47 307.46L399.68 310.66M396.47 310.66L399.68 307.46" stroke="#ff1a1a" stroke-width="1.69" fill="none"/>
<path d="M397.75 300.8L400.95 304M397.75 304L400.95 300.8" stroke="#ff1a1a" stroke-width="1.69" fill="none"/>
<path d="M399.02 299.24L402.23 302.44M399.02 302.44L402.23 299.24" stroke="#ff1a1a" stroke-width="1.69" fill="none"/>
<path d="M400.3 277.04L403.5 280.24M400.3 280.24L403.5 277.04" stroke="#ff1a1a" stroke-width="1.69" fill="none"/>
<path d="M401.57 317.23L404.77 320.43M401.57 320.43L404.77 317.23" stroke="#ff1a1a" stroke-width="1.69" fill="none"/>
<path d="M402.85 308.43L406.05 311.63M402.85 311.63L406.05 308.43" stroke="#ff1a1a" stroke-width="1.69" fill="none"/>
<path d="M404.12 302.53L407.32 305.73M404.12 305.73L407.32 302.53" stroke="#ff1a1a" stroke-width="1.69" fill="none"/>
<path d="M405.4 299.36L408.6 302.56M405.4 302.56L408.6 299.36" stroke="#ff1a1a" stroke-width="1.69" fill="none"/>
<path d="M406.67 288.62L409.88 291.82M406.67 291.82L409.88 288.62" stroke="#ff1a1a" stroke-width="1.69" fill="none"/>
<path d="M407.95 313.3L411.15 316.5M407.95 316.5L411.15 313.3" stroke="#ff1a1a" stroke-width="1.69" fill="none"/>
<path d="M409.22 306.75L412.43 309.95M409.22 309.95L412.43 306.75" stroke="#ff1a1a" stroke-width="1.69" fill="none"/>
<path d="M410.5 301.87L413.7 305.07M410.5 305.07L413.7 301.87" stroke="#ff1a1a" stroke-width="1.69" fill="none"/>
<path d="M411.77 300.69L414.98 303.89M411.77 303.89L414.98 300.69" stroke="#ff1a1a" stroke-width="1.69" fill="none"/>
<path d="M413.05 298.68L416.25 301.88M413.05 301.88L416.25 298.68" stroke="#ff1a1a" stroke-width="1.69" fill="none"/>
<path d="M414.32 295.45L417.52 298.65M414.32 298.65L417.52 295.45" stroke="#ff1a1a" stroke-width="1.69" fill="none"/>
<path d="M415.6 299.99L418.8 303.19M415.6 303.19L418.8 299.99" stroke="#ff1a1a" stroke-width="1.69" fill="none"/>
<path d="M416.87 304.04L420.07 307.24M416.87 307.24L420.07 304.04" stroke="#ff1a1a" stroke-width="1.69" fill="none"/>
<path d="M418.15 299.13L421.35 302.33M418.15 302.33L421.35 299.13" stroke="#ff1a1a" stroke-width="1.69" fill="none"/>
<path d="M419.42 301.55L422.62 304.75M419.42 304.75L422.62 301.55" stroke="#ff1a1a" stroke-width="1.69" fill="none"/>
<path d="M420.7 296.83L423.9 300.03M420.7 300.03L423.9 296.83" stroke="#ff1a1a" stroke-width="1.69" fill="none"/>
<path d="M421.97 279.8L425.18 283M421.97 283L425.18 279.8" stroke="#ff1a1a" stroke-width="1.69" fill="none"/>
<path d="M423.25 298.75L426.45 301.95M423.25 301.95L426.45 298.75" stroke="#ff1a1a" stroke-width="1.69" fill="none"/>
<path d="M424.52 302.36L427.73 305.56M424.52 305.56L427.73 302.36" stroke="#ff1a1a" stroke-width="1.69" fill="none"/>
<path d="M425.8 306.89L429 310.09M425.8 310.09L429 306.89" stroke="#ff1a1a" stroke-width="1.69" fill="none"/>
<path d="M427.07 301.07L430.27 304.27M427.07 304.27L430.27 301.07" stroke="#ff1a1a" stroke-width="1.69" fill="none"/>
<path d="M428.35 302.96L431.55 306.16M428.35 306.16L431.55 302.96" stroke="#ff1a1a" stroke-width="1.69" fill="none"/>
<path d="M429.62 306.72L432.82 309.92M429.62 309.92L432.82 306.72" stroke="#ff1a1a" stroke-width="1.69" fill="none"/>
<path d="M430.9 312.68L434.1 315.88M430.9 315.88L434.1 312.68" stroke="#ff1a1a" stroke-width="1.69" fill="none"/>
<path d="M432.17 287.97L435.38 291.17M432.17 291.17L435.38 287.97" stroke="#ff1a1a" stroke-width="1.69" fill="none"/>
<path d="M433.45 299.4L436.65 302.6M433.45 302.6L436.65 299.4" stroke="#ff1a1a" stroke-width="1.69" fill="none"/>
<path d="M434.72 302.31L437.93 305.51M434.72 305.51L437.93 302.31" stroke="#ff1a1a" stroke-width="1.69" fill="none"/>
<path d="M436 304.41L439.2 307.61M436 307.61L439.2 304.41" stroke="#ff1a1a" stroke-width="1.69" fill="none"/>
<path d="M437.27 300.66L440.48 303.86M437.27 303.86L440.48 300.66" stroke="#ff1a1a" stroke-width="1.69" fill="none"/>
<path d="M438.55 298.96L441.75 302.16M438.55 302.16L441.75 298.96" stroke="#ff1a1a" stroke-width="1.69" fill="none"/>
<path d="M439.82 302.56L443.02 305.76M439.82 305.76L443.02 302.56" stroke="#ff1a1a" stroke-width="1.69" fill="none"/>
<path d="M441.1 294.9L444.3 298.1M441.1 298.1L444.3 294.9" stroke="#ff1a1a" stroke-width="1.69" fill="none"/>
<path d="M442.37 312.68L445.57 315.88M442.37 315.88L445.57 312.68" stroke="#ff1a1a" stroke-width="1.69" fill="none"/>
<path d="M443.65 303.34L446.85 306.54M443.65 306.54L446.85 303.34" stroke="#ff1a1a" stroke-width="1.69" fill="none"/>
<path d="M444.92 295.42L448.12 298.62M444.92 298.62L448.12 295.42" stroke="#ff1a1a" stroke-width="1.69" fill="none"/>
<path d="M446.2 301.76L449.4 304.96M446.2 304.96L449.4 301.76" stroke="#ff1a1a" stroke-width="1.69" fill="none"/>
<path d="M447.47 306.62L450.68 309.82M447.47 309.82L450.68 306.62" stroke="#ff1a1a" stroke-width="1.69" fill="none"/>
<path d="M448.75 309.76L451.95 312.96M448.75 312.96L451.95 309.76" stroke="#ff1a1a" stroke-width="1.69" fill="none"/>
<path d="M450.02 322.1L453.23 325.3M450.02 325.3L453.23 322.1" stroke="#ff1a1a" stroke-width="1.69" fill="none"/>
<path d="M451.3 285.6L454.5 288.8M451.3 288.8L454.5 285.6" stroke="#ff1a1a" stroke-width="1.69" fill="none"/>
<path d="M452.57 296.51L455.77 299.71M452.57 299.71L455.77 296.51" stroke="#ff1a1a" stroke-width="1.69" fill="none"/>
<path d="M453.85 274.45L457.05 277.65M453.85 277.65L457.05 274.45" stroke="#ff1a1a" stroke-width="1.69" fill="none"/>
<path d="M455.12 293.53L458.32 296.73M455.12 296.73L458.32 293.53" stroke="#ff1a1a" stroke-width="1.69" fill="none"/>
<path d="M456.4 251.19L459.6 254.39M456.4 254.39L459.6 251.19" stroke="#ff1a1a" stroke-width="1.69" fill="none"/>
<path d="M457.67 246.82L460.88 250.02M457.67 250.02L460.88 246.82" stroke="#ff1a1a" stroke-width="1.69" fill="none"/>
<path d="M458.95 251.01L462.15 254.21M458.95 254.21L462.15 251.01" stroke="#ff1a1a" stroke-width="1.69" fill="none"/>
<path d="M460.22 334.62L463.42 337.82M460.22 337.82L463.42 334.62" stroke="#ff1a1a" stroke-width="1.69" fill="none"/>
<path d="M461.5 275.8L464.7 279M461.5 279L464.7 275.8" stroke="#ff1a1a" stroke-width="1.69" fill="none"/>
<path d="M462.77 298.46L465.98 301.66M462.77 301.66L465.98 298.46" stroke="#ff1a1a" stroke-width="1.69" fill="none"/>
<path d="M464.05 307.47L467.25 310.67M464.05 310.67L467.25 307.47" stroke="#ff1a1a" stroke-width="1.69" fill="none"/>
<path d="M465.32 321.75L468.52 324.95M465.32 324.95L468.52 321.75" stroke="#ff1a1a" stroke-width="1.69" fill="none"/>
<path d="M466.6 331.51L469.8 334.71M466.6 334.71L469.8 331.51" stroke="#ff1a1a" stroke-width="1.69" fill="none"/>
<path d="M467.87 291.37L471.07 294.57M467.87 294.57L471.07 291.37" stroke="#ff1a1a" stroke-width="1.69" fill="none"/>
<path d="M469.15 298.83L472.35 302.03M469.15 302.03L472.35 298.83" stroke="#ff1a1a" stroke-width="1.69" fill="none"/>
<path d="M470.42 309.98L473.62 313.18M470.42 313.18L473.62 309.98" stroke="#ff1a1a" stroke-width="1.69" fill="none"/>
<path d="M471.7 320.69L474.9 323.89M471.7 323.89L474.9 320.69" stroke="#ff1a1a" stroke-width="1.69" fill="none"/>
<path d="M472.97 293.87L476.17 297.07M472.97 297.07L476.17 293.87" stroke="#ff1a1a" stroke-width="1.69" fill="none"/>
<path d="M474.25 299.26L477.45 302.46M474.25 302.46L477.45 299.26" stroke="#ff1a1a" stroke-width="1.69" fill="none"/>
<path d="M475.52 306.75L478.73 309.95M475.52 309.95L478.73 306.75" stroke="#ff1a1a" stroke-width="1.69" fill="none"/>
<path d="M476.8 284.91L480 288.11M476.8 288.11L480 284.91" stroke="#ff1a1a" stroke-width="1.69" fill="none"/>
<path d="M478.07 299.17L481.27 302.37M478.07 302.37L481.27 299.17" stroke="#ff1a1a" stroke-width="1.69" fill="none"/>
<path d="M479.35 320.24L482.55 323.44M479.35 323.44L482.55 320.24" stroke="#ff1a1a" stroke-width="1.69" fill="none"/>
<path d="M480.62 302.48L483.82 305.68M480.62 305.68L483.82 302.48" stroke="#ff1a1a" stroke-width="1.69" fill="none"/>
<path d="M481.9 297.78L485.1 300.98M481.9 300.98L485.1 297.78" stroke="#ff1a1a" stroke-width="1.69" fill="none"/>
<path d="M483.17 302.72L486.38 305.92M483.17 305.92L486.38 302.72" stroke="#ff1a1a" stroke-width="1.69" fill="none"/>
<path d="M484.45 307.37L487.65 310.57M484.45 310.57L487.65 307.37" stroke="#ff1a1a" stroke-width="1.69" fill="none"/>
<path d="M485.72 304.11L488.92 307.31M485.72 307.31L488.92 304.11" stroke="#ff1a1a" stroke-width="1.69" fill="none"/>
<path d="M487 300.73L490.2 303.93M487 303.93L490.2 300.73" stroke="#ff1a1a" stroke-width="1.69" fill="none"/>
<path d="M488.27 310.18L491.48 313.38M488.27 313.38L491.48 310.18" stroke="#ff1a1a" stroke-width="1.69" fill="none"/>
<path d="M489.55 335.03L492.75 338.23M489.55 338.23L492.75 335.03" stroke="#ff1a1a" stroke-width="1.69" fill="none"/>
<path d="M490.82 308.33L494.02 311.53M490.82 311.53L494.02 308.33" stroke="#ff1a1a" stroke-width="1.69" fill="none"/>
<path d="M492.1 303.03L495.3 306.23M492.1 306.23L495.3 303.03" stroke="#ff1a1a" stroke-width="1.69" fill="none"/>
<path d="M493.37 301.1L496.57 304.3M493.37 304.3L496.57 301.1" stroke="#ff1a1a" stroke-width="1.69" fill="none"/>
<path d="M494.65 307.16L497.85 310.36M494.65 310.36L497.85 307.16" stroke="#ff1a1a" stroke-width="1.69" fill="none"/>
<path d="M495.92 294.88L499.12 298.08M495.92 298.08L499.12 294.88" stroke="#ff1a1a" stroke-width="1.69" fill="none"/>
<path d="M497.2 302.31L500.4 305.51M497.2 305.51L500.4 302.31" stroke="#ff1a1a" stroke-width="1.69" fill="none"/>
<path d="M498.47 309.09L501.67 312.29M498.47 312.29L501.67 309.09" stroke="#ff1a1a" stroke-width="1.69" fill="none"/>
<path d="M499.75 319.61L502.95 322.81M499.75 322.81L502.95 319.61" stroke="#ff1a1a" stroke-width="1.69" fill="none"/>
<path d="M501.02 311.2L504.23 314.4M501.02 314.4L504.23 311.2" stroke="#ff1a1a" stroke-width="1.69" fill="none"/>
<path d="M502.3 290.43L505.5 293.63M502.3 293.63L505.5 290.43" stroke="#ff1a1a" stroke-width="1.69" fill="none"/>
<path d="M503.57 277.73L506.77 280.93M503.57 280.93L506.77 277.73" stroke="#ff1a1a" stroke-width="1.69" fill="none"/>
<path d="M504.85 288.08L508.05 291.28M504.85 291.28L508.05 288.08" stroke="#ff1a1a" stroke-width="1.69" fill="none"/>
<path d="M506.12 299.87L509.32 303.07M506.12 303.07L509.32 299.87" stroke="#ff1a1a" stroke-width="1.69" fill="none"/>
<path d="M507.4 292.82L510.6 296.02M507.4 296.02L510.6 292.82" stroke="#ff1a1a" stroke-width="1.69" fill="none"/>
<path d="M508.67 301.11L511.88 304.31M508.67 304.31L511.88 301.11" stroke="#ff1a1a" stroke-width="1.69" fill="none"/>
<path d="M509.95 296.43L513.15 299.63M509.95 299.63L513.15 296.43" stroke="#ff1a1a" stroke-width="1.69" fill="none"/>
<path d="M511.22 307.2L514.42 310.4M511.22 310.4L514.42 307.2" stroke="#ff1a1a" stroke-width="1.69" fill="none"/>
<path d="M512.5 293.75L515.7 296.95M512.5 296.95L515.7 293.75" stroke="#ff1a1a" stroke-width="1.69" fill="none"/>
<path d="M513.77 279.22L516.98 282.42M513.77 282.42L516.98 279.22" stroke="#ff1a1a" stroke-width="1.69" fill="none"/>
<path d="M515.05 298.25L518.25 301.45M515.05 301.45L518.25 298.25" stroke="#ff1a1a" stroke-width="1.69" fill="none"/>
<path d="M516.32 334.21L519.52 337.41M516.32 337.41L519.52 334.21" stroke="#ff1a1a" stroke-width="1.69" fill="none"/>
<path d="M517.6 315.99L520.8 319.19M517.6 319.19L520.8 315.99" stroke="#ff1a1a" stroke-width="1.69" fill="none"/>
<path d="M518.87 302.52L522.07 305.72M518.87 305.72L522.07 302.52" stroke="#ff1a1a" stroke-width="1.69" fill="none"/>
<path d="M520.15 300.4L523.35 303.6M520.15 303.6L523.35 300.4" stroke="#ff1a1a" stroke-width="1.69" fill="none"/>
<path d="M521.42 302.66L524.62 305.86M521.42 305.86L524.62 302.66" stroke="#ff1a1a" stroke-width="1.69" fill="none"/>
<path d="M522.7 296.52L525.9 299.72M522.7 299.72L525.9 296.52" stroke="#ff1a1a" stroke-width="1.69" fill="none"/>
<path d="M523.97 312.65L527.17 315.85M523.97 315.85L527.17 312.65" stroke="#ff1a1a" stroke-width="1.69" fill="none"/>
<path d="M525.25 301.78L528.45 304.98M525.25 304.98L528.45 301.78" stroke="#ff1a1a" stroke-width="1.69" fill="none"/>
<path d="M526.52 301.12L529.73 304.32M526.52 304.32L529.73 301.12" stroke="#ff1a1a" stroke-width="1.69" fill="none"/>
<path d="M527.8 303.75L531 306.95M527.8 306.95L531 303.75" stroke="#ff1a1a" stroke-width="1.69" fill="none"/>
<path d="M529.07 302.09L532.27 305.29M529.07 305.29L532.27 302.09" stroke="#ff1a1a" stroke-width="1.69" fill="none"/>
<path d="M530.35 303.73L533.55 306.93M530.35 306.93L533.55 303.73" stroke="#ff1a1a" stroke-width="1.69" fill="none"/>
<path d="M531.62 301.34L534.82 304.54M531.62 304.54L534.82 301.34" stroke="#ff1a1a" stroke-width="1.69" fill="none"/>
<path d="M532.9 299.44L536.1 302.64M532.9 302.64L536.1 299.44" stroke="#ff1a1a" stroke-width="1.69" fill="none"/>
<path d="M534.17 303.17L537.38 306.37M534.17 306.37L537.38 303.17" stroke="#ff1a1a" stroke-width="1.69" fill="none"/>
<path d="M535.45 304.21L538.65 307.41M535.45 307.41L538.65 304.21" stroke="#ff1a1a" stroke-width="1.69" fill="none"/>
<path d="M536.72 304.83L539.92 308.03M536.72 308.03L539.92 304.83" stroke="#ff1a1a" stroke-width="1.69" fill="none"/>
<path d="M538 303.65L541.2 306.85M538 306.85L541.2 303.65" stroke="#ff1a1a" stroke-width="1.69" fill="none"/>
<path d="M539.27 305.67L542.48 308.87M539.27 308.87L542.48 305.67" stroke="#ff1a1a" stroke-width="1.69" fill="none"/>
<path d="M540.55 305.2L543.75 308.4M540.55 308.4L543.75 305.2" stroke="#ff1a1a" stroke-width="1.69" fill="none"/>
<path d="M541.82 306.32L545.02 309.52M541.82 309.52L545.02 306.32" stroke="#ff1a1a" stroke-width="1.69" fill="none"/>
<path d="M543.1 307.2L546.3 310.4M543.1 310.4L546.3 307.2" stroke="#ff1a1a" stroke-width="1.69" fill="none"/>
<path d="M544.37 313.63L547.57 316.83M544.37 316.83L547.57 313.63" stroke="#ff1a1a" stroke-width="1.69" fill="none"/>
<polyline points="326.67,310.03 327.95,310.6 329.22,315.16 330.5,311.8 331.77,311.43 333.05,296.96 334.32,301.52 335.6,308.24 336.88,304.5 338.15,303.63 339.42,305.3 340.7,310.01 341.97,310.95 343.25,308.35 344.52,323.4 345.8,296.65 347.07,305.91 348.35,302.68 349.62,300.36 350.9,305.53 352.17,313.43 353.45,306.69 354.72,298.32 356,303.1 357.27,305.41 358.55,312.03 359.82,324.04 361.1,317.7 362.38,298.1 363.65,302.37 364.92,304.36 366.2,309.27 367.47,314.83 368.75,304.5 370.02,298.79 371.3,315.89 372.57,303.82 373.85,296.65 375.12,314.5 376.4,282.99 377.67,295.93 378.95,282.76 380.22,289.4 381.5,292.36 382.77,300.77 384.05,302.77 385.32,322.56 386.6,284 387.88,302.56 389.15,296.59 390.42,315.08 391.7,306.44 392.97,303.81 394.25,299.42 395.52,302.84 396.8,305.85 398.07,309.74 399.35,302.9 400.62,301.76 401.9,277.51 403.17,319.13 404.45,308.52 405.72,305.46 407,301.08 408.27,291.1 409.55,316.21 410.82,306.94 412.1,302.54 413.38,302.21 414.65,300.08 415.92,297.49 417.2,302.27 418.47,305.53 419.75,299.96 421.02,303.19 422.3,299.5 423.57,280.79 424.85,300.08 426.12,305.33 427.4,309.38 428.67,301.08 429.95,304.29 431.22,309.07 432.5,313.57 433.77,289.15 435.05,300.75 436.32,304.08 437.6,306.58 438.88,302.5 440.15,300.17 441.42,302.83 442.7,295.02 443.97,313.83 445.25,305.13 446.52,298.96 447.8,304.81 449.07,307.12 450.35,310.73 451.62,323.97 452.9,288.77 454.17,298.02 455.45,276.07 456.72,295 458,248.11 459.27,253.7 460.55,253.04 461.82,349.61 463.1,264.3 464.38,300.59 465.65,309.31 466.92,323.22 468.2,333.94 469.47,292.02 470.75,300.01 472.02,313.04 473.3,322.64 474.57,295.15 475.85,296.43 477.12,299.75 478.4,287.49 479.67,301.35 480.95,319.78 482.22,303.93 483.5,300.65 484.77,303.69 486.05,308.81 487.32,307.43 488.6,302.7 489.88,312.17 491.15,350.72 492.42,308.75 493.7,304.27 494.97,301.85 496.25,307.15 497.52,297.33 498.8,303.6 500.07,310.91 501.35,321.48 502.62,311.15 503.9,293.88 505.17,278.32 506.45,290.06 507.72,301.87 509,295.41 510.27,304.16 511.55,297.59 512.82,308.08 514.1,294.8 515.38,281.01 516.65,301.33 517.92,336.85 519.2,317.89 520.47,304.35 521.75,301.17 523.02,303.84 524.3,298.51 525.57,313.4 526.85,304.48 528.12,302.67 529.4,304.73 530.67,302.87 531.95,305.1 533.22,303.44 534.5,300.77 535.77,303.53 537.05,304.68 538.32,305.44 539.6,305.25 540.88,307.96 542.15,307.22 543.42,308.33 544.7,308.98 545.97,316.95" fill="none" stroke="#1a1aff" stroke-width="1.4" stroke-linejoin="round" stroke-dasharray="1.33 1.47"/>
<path d="M325.07 308.43L328.27 311.63M325.07 311.63L328.27 308.43" stroke="#1a1aff" stroke-width="1.69" fill="none"/>
<path d="M326.35 309L329.55 312.2M326.35 312.2L329.55 309" stroke="#1a1aff" stroke-width="1.69" fill="none"/>
<path d="M327.62 313.56L330.82 316.76M327.62 316.76L330.82 313.56" stroke="#1a1aff" stroke-width="1.69" fill="none"/>
<path d="M328.9 310.2L332.1 313.4M328.9 313.4L332.1 310.2" stroke="#1a1aff" stroke-width="1.69" fill="none"/>
<path d="M330.17 309.83L333.38 313.03M330.17 313.03L333.38 309.83" stroke="#1a1aff" stroke-width="1.69" fill="none"/>
<path d="M331.45 295.36L334.65 298.56M331.45 298.56L334.65 295.36" stroke="#1a1aff" stroke-width="1.69" fill="none"/>
<path d="M332.72 299.92L335.93 303.12M332.72 303.12L335.93 299.92" stroke="#1a1aff" stroke-width="1.69" fill="none"/>
<path d="M334 306.64L337.2 309.84M334 309.84L337.2 306.64" stroke="#1a1aff" stroke-width="1.69" fill="none"/>
<path d="M335.27 302.9L338.48 306.1M335.27 306.1L338.48 302.9" stroke="#1a1aff" stroke-width="1.69" fill="none"/>
<path d="M336.55 302.03L339.75 305.23M336.55 305.23L339.75 302.03" stroke="#1a1aff" stroke-width="1.69" fill="none"/>
<path d="M337.82 303.7L341.02 306.9M337.82 306.9L341.02 303.7" stroke="#1a1aff" stroke-width="1.69" fill="none"/>
<path d="M339.1 308.41L342.3 311.61M339.1 311.61L342.3 308.41" stroke="#1a1aff" stroke-width="1.69" fill="none"/>
<path d="M340.37 309.35L343.57 312.55M340.37 312.55L343.57 309.35" stroke="#1a1aff" stroke-width="1.69" fill="none"/>
<path d="M341.65 306.75L344.85 309.95M341.65 309.95L344.85 306.75" stroke="#1a1aff" stroke-width="1.69" fill="none"/>
<path d="M342.92 321.8L346.12 325M342.92 325L346.12 321.8" stroke="#1a1aff" stroke-width="1.69" fill="none"/>
<path d="M344.2 295.05L347.4 298.25M344.2 298.25L347.4 295.05" stroke="#1a1aff" stroke-width="1.69" fill="none"/>
<path d="M345.47 304.31L348.68 307.51M345.47 307.51L348.68 304.31" stroke="#1a1aff" stroke-width="1.69" fill="none"/>
<path d="M346.75 301.08L349.95 304.28M346.75 304.28L349.95 301.08" stroke="#1a1aff" stroke-width="1.69" fill="none"/>
<path d="M348.02 298.76L351.23 301.96M348.02 301.96L351.23 298.76" stroke="#1a1aff" stroke-width="1.69" fill="none"/>
<path d="M349.3 303.93L352.5 307.13M349.3 307.13L352.5 303.93" stroke="#1a1aff" stroke-width="1.69" fill="none"/>
<path d="M350.57 311.83L353.77 315.03M350.57 315.03L353.77 311.83" stroke="#1a1aff" stroke-width="1.69" fill="none"/>
<path d="M351.85 305.09L355.05 308.29M351.85 308.29L355.05 305.09" stroke="#1a1aff" stroke-width="1.69" fill="none"/>
<path d="M353.12 296.72L356.32 299.92M353.12 299.92L356.32 296.72" stroke="#1a1aff" stroke-width="1.69" fill="none"/>
<path d="M354.4 301.5L357.6 304.7M354.4 304.7L357.6 301.5" stroke="#1a1aff" stroke-width="1.69" fill="none"/>
<path d="M355.67 303.81L358.88 307.01M355.67 307.01L358.88 303.81" stroke="#1a1aff" stroke-width="1.69" fill="none"/>
<path d="M356.95 310.43L360.15 313.63M356.95 313.63L360.15 310.43" stroke="#1a1aff" stroke-width="1.69" fill="none"/>
<path d="M358.22 322.44L361.43 325.64M358.22 325.64L361.43 322.44" stroke="#1a1aff" stroke-width="1.69" fill="none"/>
<path d="M359.5 316.1L362.7 319.3M359.5 319.3L362.7 316.1" stroke="#1a1aff" stroke-width="1.69" fill="none"/>
<path d="M360.77 296.5L363.98 299.7M360.77 299.7L363.98 296.5" stroke="#1a1aff" stroke-width="1.69" fill="none"/>
<path d="M362.05 300.77L365.25 303.97M362.05 303.97L365.25 300.77" stroke="#1a1aff" stroke-width="1.69" fill="none"/>
<path d="M363.32 302.76L366.52 305.96M363.32 305.96L366.52 302.76" stroke="#1a1aff" stroke-width="1.69" fill="none"/>
<path d="M364.6 307.67L367.8 310.87M364.6 310.87L367.8 307.67" stroke="#1a1aff" stroke-width="1.69" fill="none"/>
<path d="M365.87 313.23L369.07 316.43M365.87 316.43L369.07 313.23" stroke="#1a1aff" stroke-width="1.69" fill="none"/>
<path d="M367.15 302.9L370.35 306.1M367.15 306.1L370.35 302.9" stroke="#1a1aff" stroke-width="1.69" fill="none"/>
<path d="M368.42 297.19L371.62 300.39M368.42 300.39L371.62 297.19" stroke="#1a1aff" stroke-width="1.69" fill="none"/>
<path d="M369.7 314.29L372.9 317.49M369.7 317.49L372.9 314.29" stroke="#1a1aff" stroke-width="1.69" fill="none"/>
<path d="M370.97 302.22L374.18 305.42M370.97 305.42L374.18 302.22" stroke="#1a1aff" stroke-width="1.69" fill="none"/>
<path d="M372.25 295.05L375.45 298.25M372.25 298.25L375.45 295.05" stroke="#1a1aff" stroke-width="1.69" fill="none"/>
<path d="M373.52 312.9L376.73 316.1M373.52 316.1L376.73 312.9" stroke="#1a1aff" stroke-width="1.69" fill="none"/>
<path d="M374.8 281.39L378 284.59M374.8 284.59L378 281.39" stroke="#1a1aff" stroke-width="1.69" fill="none"/>
<path d="M376.07 294.33L379.27 297.53M376.07 297.53L379.27 294.33" stroke="#1a1aff" stroke-width="1.69" fill="none"/>
<path d="M377.35 281.16L380.55 284.36M377.35 284.36L380.55 281.16" stroke="#1a1aff" stroke-width="1.69" fill="none"/>
<path d="M378.62 287.8L381.82 291M378.62 291L381.82 287.8" stroke="#1a1aff" stroke-width="1.69" fill="none"/>
<path d="M379.9 290.76L383.1 293.96M379.9 293.96L383.1 290.76" stroke="#1a1aff" stroke-width="1.69" fill="none"/>
<path d="M381.17 299.17L384.38 302.37M381.17 302.37L384.38 299.17" stroke="#1a1aff" stroke-width="1.69" fill="none"/>
<path d="M382.45 301.17L385.65 304.37M382.45 304.37L385.65 301.17" stroke="#1a1aff" stroke-width="1.69" fill="none"/>
<path d="M383.72 320.96L386.93 324.16M383.72 324.16L386.93 320.96" stroke="#1a1aff" stroke-width="1.69" fill="none"/>
<path d="M385 282.4L388.2 285.6M385 285.6L388.2 282.4" stroke="#1a1aff" stroke-width="1.69" fill="none"/>
<path d="M386.27 300.96L389.48 304.16M386.27 304.16L389.48 300.96" stroke="#1a1aff" stroke-width="1.69" fill="none"/>
<path d="M387.55 294.99L390.75 298.19M387.55 298.19L390.75 294.99" stroke="#1a1aff" stroke-width="1.69" fill="none"/>
<path d="M388.82 313.48L392.02 316.68M388.82 316.68L392.02 313.48" stroke="#1a1aff" stroke-width="1.69" fill="none"/>
<path d="M390.1 304.84L393.3 308.04M390.1 308.04L393.3 304.84" stroke="#1a1aff" stroke-width="1.69" fill="none"/>
<path d="M391.37 302.21L394.57 305.41M391.37 305.41L394.57 302.21" stroke="#1a1aff" stroke-width="1.69" fill="none"/>
<path d="M392.65 297.82L395.85 301.02M392.65 301.02L395.85 297.82" stroke="#1a1aff" stroke-width="1.69" fill="none"/>
<path d="M393.92 301.24L397.12 304.44M393.92 304.44L397.12 301.24" stroke="#1a1aff" stroke-width="1.69" fill="none"/>
<path d="M395.2 304.25L398.4 307.45M395.2 307.45L398.4 304.25" stroke="#1a1aff" stroke-width="1.69" fill="none"/>
<path d="M396.47 308.14L399.68 311.34M396.47 311.34L399.68 308.14" stroke="#1a1aff" stroke-width="1.69" fill="none"/>
<path d="M397.75 301.3L400.95 304.5M397.75 304.5L400.95 301.3" stroke="#1a1aff" stroke-width="1.69" fill="none"/>
<path d="M399.02 300.16L402.23 303.36M399.02 303.36L402.23 300.16" stroke="#1a1aff" stroke-width="1.69" fill="none"/>
<path d="M400.3 275.91L403.5 279.11M400.3 279.11L403.5 275.91" stroke="#1a1aff" stroke-width="1.69" fill="none"/>
<path d="M401.57 317.53L404.77 320.73M401.57 320.73L404.77 317.53" stroke="#1a1aff" stroke-width="1.69" fill="none"/>
<path d="M402.85 306.92L406.05 310.12M402.85 310.12L406.05 306.92" stroke="#1a1aff" stroke-width="1.69" fill="none"/>
<path d="M404.12 303.86L407.32 307.06M404.12 307.06L407.32 303.86" stroke="#1a1aff" stroke-width="1.69" fill="none"/>
<path d="M405.4 299.48L408.6 302.68M405.4 302.68L408.6 299.48" stroke="#1a1aff" stroke-width="1.69" fill="none"/>
<path d="M406.67 289.5L409.88 292.7M406.67 292.7L409.88 289.5" stroke="#1a1aff" stroke-width="1.69" fill="none"/>
<path d="M407.95 314.61L411.15 317.81M407.95 317.81L411.15 314.61" stroke="#1a1aff" stroke-width="1.69" fill="none"/>
<path d="M409.22 305.34L412.43 308.54M409.22 308.54L412.43 305.34" stroke="#1a1aff" stroke-width="1.69" fill="none"/>
<path d="M410.5 300.94L413.7 304.14M410.5 304.14L413.7 300.94" stroke="#1a1aff" stroke-width="1.69" fill="none"/>
<path d="M411.77 300.61L414.98 303.81M411.77 303.81L414.98 300.61" stroke="#1a1aff" stroke-width="1.69" fill="none"/>
<path d="M413.05 298.48L416.25 301.68M413.05 301.68L416.25 298.48" stroke="#1a1aff" stroke-width="1.69" fill="none"/>
<path d="M414.32 295.89L417.52 299.09M414.32 299.09L417.52 295.89" stroke="#1a1aff" stroke-width="1.69" fill="none"/>
<path d="M415.6 300.67L418.8 303.87M415.6 303.87L418.8 300.67" stroke="#1a1aff" stroke-width="1.69" fill="none"/>
<path d="M416.87 303.93L420.07 307.13M416.87 307.13L420.07 303.93" stroke="#1a1aff" stroke-width="1.69" fill="none"/>
<path d="M418.15 298.36L421.35 301.56M418.15 301.56L421.35 298.36" stroke="#1a1aff" stroke-width="1.69" fill="none"/>
<path d="M419.42 301.59L422.62 304.79M419.42 304.79L422.62 301.59" stroke="#1a1aff" stroke-width="1.69" fill="none"/>
<path d="M420.7 297.9L423.9 301.1M420.7 301.1L423.9 297.9" stroke="#1a1aff" stroke-width="1.69" fill="none"/>
<path d="M421.97 279.19L425.18 282.39M421.97 282.39L425.18 279.19" stroke="#1a1aff" stroke-width="1.69" fill="none"/>
<path d="M423.25 298.48L426.45 301.68M423.25 301.68L426.45 298.48" stroke="#1a1aff" stroke-width="1.69" fill="none"/>
<path d="M424.52 303.73L427.73 306.93M424.52 306.93L427.73 303.73" stroke="#1a1aff" stroke-width="1.69" fill="none"/>
<path d="M425.8 307.78L429 310.98M425.8 310.98L429 307.78" stroke="#1a1aff" stroke-width="1.69" fill="none"/>
<path d="M427.07 299.48L430.27 302.68M427.07 302.68L430.27 299.48" stroke="#1a1aff" stroke-width="1.69" fill="none"/>
<path d="M428.35 302.69L431.55 305.89M428.35 305.89L431.55 302.69" stroke="#1a1aff" stroke-width="1.69" fill="none"/>
<path d="M429.62 307.47L432.82 310.67M429.62 310.67L432.82 307.47" stroke="#1a1aff" stroke-width="1.69" fill="none"/>
<path d="M430.9 311.97L434.1 315.17M430.9 315.17L434.1 311.97" stroke="#1a1aff" stroke-width="1.69" fill="none"/>
<path d="M432.17 287.55L435.38 290.75M432.17 290.75L435.38 287.55" stroke="#1a1aff" stroke-width="1.69" fill="none"/>
<path d="M433.45 299.15L436.65 302.35M433.45 302.35L436.65 299.15" stroke="#1a1aff" stroke-width="1.69" fill="none"/>
<path d="M434.72 302.48L437.93 305.68M434.72 305.68L437.93 302.48" stroke="#1a1aff" stroke-width="1.69" fill="none"/>
<path d="M436 304.98L439.2 308.18M436 308.18L439.2 304.98" stroke="#1a1aff" stroke-width="1.69" fill="none"/>
<path d="M437.27 300.9L440.48 304.1M437.27 304.1L440.48 300.9" stroke="#1a1aff" stroke-width="1.69" fill="none"/>
<path d="M438.55 298.57L441.75 301.77M438.55 301.77L441.75 298.57" stroke="#1a1aff" stroke-width="1.69" fill="none"/>
<path d="M439.82 301.23L443.02 304.43M439.82 304.43L443.02 301.23" stroke="#1a1aff" stroke-width="1.69" fill="none"/>
<path d="M441.1 293.42L444.3 296.62M441.1 296.62L444.3 293.42" stroke="#1a1aff" stroke-width="1.69" fill="none"/>
<path d="M442.37 312.23L445.57 315.43M442.37 315.43L445.57 312.23" stroke="#1a1aff" stroke-width="1.69" fill="none"/>
<path d="M443.65 303.53L446.85 306.73M443.65 306.73L446.85 303.53" stroke="#1a1aff" stroke-width="1.69" fill="none"/>
<path d="M444.92 297.36L448.12 300.56M444.92 300.56L448.12 297.36" stroke="#1a1aff" stroke-width="1.69" fill="none"/>
<path d="M446.2 303.21L449.4 306.41M446.2 306.41L449.4 303.21" stroke="#1a1aff" stroke-width="1.69" fill="none"/>
<path d="M447.47 305.52L450.68 308.72M447.47 308.72L450.68 305.52" stroke="#1a1aff" stroke-width="1.69" fill="none"/>
<path d="M448.75 309.13L451.95 312.33M448.75 312.33L451.95 309.13" stroke="#1a1aff" stroke-width="1.69" fill="none"/>
<path d="M450.02 322.37L453.23 325.57M450.02 325.57L453.23 322.37" stroke="#1a1aff" stroke-width="1.69" fill="none"/>
<path d="M451.3 287.17L454.5 290.37M451.3 290.37L454.5 287.17" stroke="#1a1aff" stroke-width="1.69" fill="none"/>
<path d="M452.57 296.42L455.77 299.62M452.57 299.62L455.77 296.42" stroke="#1a1aff" stroke-width="1.69" fill="none"/>
<path d="M453.85 274.47L457.05 277.67M453.85 277.67L457.05 274.47" stroke="#1a1aff" stroke-width="1.69" fill="none"/>
<path d="M455.12 293.4L458.32 296.6M455.12 296.6L458.32 293.4" stroke="#1a1aff" stroke-width="1.69" fill="none"/>
<path d="M456.4 246.51L459.6 249.71M456.4 249.71L459.6 246.51" stroke="#1a1aff" stroke-width="1.69" fill="none"/>
<path d="M457.67 252.1L460.88 255.3M457.67 255.3L460.88 252.1" stroke="#1a1aff" stroke-width="1.69" fill="none"/>
<path d="M458.95 251.44L462.15 254.64M458.95 254.64L462.15 251.44" stroke="#1a1aff" stroke-width="1.69" fill="none"/>
<path d="M460.22 348.01L463.42 351.21M460.22 351.21L463.42 348.01" stroke="#1a1aff" stroke-width="1.69" fill="none"/>
<path d="M461.5 262.7L464.7 265.9M461.5 265.9L464.7 262.7" stroke="#1a1aff" stroke-width="1.69" fill="none"/>
<path d="M462.77 298.99L465.98 302.19M462.77 302.19L465.98 298.99" stroke="#1a1aff" stroke-width="1.69" fill="none"/>
<path d="M464.05 307.71L467.25 310.91M464.05 310.91L467.25 307.71" stroke="#1a1aff" stroke-width="1.69" fill="none"/>
<path d="M465.32 321.62L468.52 324.82M465.32 324.82L468.52 321.62" stroke="#1a1aff" stroke-width="1.69" fill="none"/>
<path d="M466.6 332.34L469.8 335.54M466.6 335.54L469.8 332.34" stroke="#1a1aff" stroke-width="1.69" fill="none"/>
<path d="M467.87 290.42L471.07 293.62M467.87 293.62L471.07 290.42" stroke="#1a1aff" stroke-width="1.69" fill="none"/>
<path d="M469.15 298.41L472.35 301.61M469.15 301.61L472.35 298.41" stroke="#1a1aff" stroke-width="1.69" fill="none"/>
<path d="M470.42 311.44L473.62 314.64M470.42 314.64L473.62 311.44" stroke="#1a1aff" stroke-width="1.69" fill="none"/>
<path d="M471.7 321.04L474.9 324.24M471.7 324.24L474.9 321.04" stroke="#1a1aff" stroke-width="1.69" fill="none"/>
<path d="M472.97 293.55L476.17 296.75M472.97 296.75L476.17 293.55" stroke="#1a1aff" stroke-width="1.69" fill="none"/>
<path d="M474.25 294.83L477.45 298.03M474.25 298.03L477.45 294.83" stroke="#1a1aff" stroke-width="1.69" fill="none"/>
<path d="M475.52 298.15L478.73 301.35M475.52 301.35L478.73 298.15" stroke="#1a1aff" stroke-width="1.69" fill="none"/>
<path d="M476.8 285.89L480 289.09M476.8 289.09L480 285.89" stroke="#1a1aff" stroke-width="1.69" fill="none"/>
<path d="M478.07 299.75L481.27 302.95M478.07 302.95L481.27 299.75" stroke="#1a1aff" stroke-width="1.69" fill="none"/>
<path d="M479.35 318.18L482.55 321.38M479.35 321.38L482.55 318.18" stroke="#1a1aff" stroke-width="1.69" fill="none"/>
<path d="M480.62 302.33L483.82 305.53M480.62 305.53L483.82 302.33" stroke="#1a1aff" stroke-width="1.69" fill="none"/>
<path d="M481.9 299.05L485.1 302.25M481.9 302.25L485.1 299.05" stroke="#1a1aff" stroke-width="1.69" fill="none"/>
<path d="M483.17 302.09L486.38 305.29M483.17 305.29L486.38 302.09" stroke="#1a1aff" stroke-width="1.69" fill="none"/>
<path d="M484.45 307.21L487.65 310.41M484.45 310.41L487.65 307.21" stroke="#1a1aff" stroke-width="1.69" fill="none"/>
<path d="M485.72 305.83L488.92 309.03M485.72 309.03L488.92 305.83" stroke="#1a1aff" stroke-width="1.69" fill="none"/>
<path d="M487 301.1L490.2 304.3M487 304.3L490.2 301.1" stroke="#1a1aff" stroke-width="1.69" fill="none"/>
<path d="M488.27 310.57L491.48 313.77M488.27 313.77L491.48 310.57" stroke="#1a1aff" stroke-width="1.69" fill="none"/>
<path d="M489.55 349.12L492.75 352.32M489.55 352.32L492.75 349.12" stroke="#1a1aff" stroke-width="1.69" fill="none"/>
<path d="M490.82 307.15L494.02 310.35M490.82 310.35L494.02 307.15" stroke="#1a1aff" stroke-width="1.69" fill="none"/>
<path d="M492.1 302.67L495.3 305.87M492.1 305.87L495.3 302.67" stroke="#1a1aff" stroke-width="1.69" fill="none"/>
<path d="M493.37 300.25L496.57 303.45M493.37 303.45L496.57 300.25" stroke="#1a1aff" stroke-width="1.69" fill="none"/>
<path d="M494.65 305.55L497.85 308.75M494.65 308.75L497.85 305.55" stroke="#1a1aff" stroke-width="1.69" fill="none"/>
<path d="M495.92 295.73L499.12 298.93M495.92 298.93L499.12 295.73" stroke="#1a1aff" stroke-width="1.69" fill="none"/>
<path d="M497.2 302L500.4 305.2M497.2 305.2L500.4 302" stroke="#1a1aff" stroke-width="1.69" fill="none"/>
<path d="M498.47 309.31L501.67 312.51M498.47 312.51L501.67 309.31" stroke="#1a1aff" stroke-width="1.69" fill="none"/>
<path d="M499.75 319.88L502.95 323.08M499.75 323.08L502.95 319.88" stroke="#1a1aff" stroke-width="1.69" fill="none"/>
<path d="M501.02 309.55L504.23 312.75M501.02 312.75L504.23 309.55" stroke="#1a1aff" stroke-width="1.69" fill="none"/>
<path d="M502.3 292.28L505.5 295.48M502.3 295.48L505.5 292.28" stroke="#1a1aff" stroke-width="1.69" fill="none"/>
<path d="M503.57 276.72L506.77 279.92M503.57 279.92L506.77 276.72" stroke="#1a1aff" stroke-width="1.69" fill="none"/>
<path d="M504.85 288.46L508.05 291.66M504.85 291.66L508.05 288.46" stroke="#1a1aff" stroke-width="1.69" fill="none"/>
<path d="M506.12 300.27L509.32 303.47M506.12 303.47L509.32 300.27" stroke="#1a1aff" stroke-width="1.69" fill="none"/>
<path d="M507.4 293.81L510.6 297.01M507.4 297.01L510.6 293.81" stroke="#1a1aff" stroke-width="1.69" fill="none"/>
<path d="M508.67 302.56L511.88 305.76M508.67 305.76L511.88 302.56" stroke="#1a1aff" stroke-width="1.69" fill="none"/>
<path d="M509.95 295.99L513.15 299.19M509.95 299.19L513.15 295.99" stroke="#1a1aff" stroke-width="1.69" fill="none"/>
<path d="M511.22 306.48L514.42 309.68M511.22 309.68L514.42 306.48" stroke="#1a1aff" stroke-width="1.69" fill="none"/>
<path d="M512.5 293.2L515.7 296.4M512.5 296.4L515.7 293.2" stroke="#1a1aff" stroke-width="1.69" fill="none"/>
<path d="M513.77 279.41L516.98 282.61M513.77 282.61L516.98 279.41" stroke="#1a1aff" stroke-width="1.69" fill="none"/>
<path d="M515.05 299.73L518.25 302.93M515.05 302.93L518.25 299.73" stroke="#1a1aff" stroke-width="1.69" fill="none"/>
<path d="M516.32 335.25L519.52 338.45M516.32 338.45L519.52 335.25" stroke="#1a1aff" stroke-width="1.69" fill="none"/>
<path d="M517.6 316.29L520.8 319.49M517.6 319.49L520.8 316.29" stroke="#1a1aff" stroke-width="1.69" fill="none"/>
<path d="M518.87 302.75L522.07 305.95M518.87 305.95L522.07 302.75" stroke="#1a1aff" stroke-width="1.69" fill="none"/>
<path d="M520.15 299.57L523.35 302.77M520.15 302.77L523.35 299.57" stroke="#1a1aff" stroke-width="1.69" fill="none"/>
<path d="M521.42 302.24L524.62 305.44M521.42 305.44L524.62 302.24" stroke="#1a1aff" stroke-width="1.69" fill="none"/>
<path d="M522.7 296.91L525.9 300.11M522.7 300.11L525.9 296.91" stroke="#1a1aff" stroke-width="1.69" fill="none"/>
<path d="M523.97 311.8L527.17 315M523.97 315L527.17 311.8" stroke="#1a1aff" stroke-width="1.69" fill="none"/>
<path d="M525.25 302.88L528.45 306.08M525.25 306.08L528.45 302.88" stroke="#1a1aff" stroke-width="1.69" fill="none"/>
<path d="M526.52 301.07L529.73 304.27M526.52 304.27L529.73 301.07" stroke="#1a1aff" stroke-width="1.69" fill="none"/>
<path d="M527.8 303.13L531 306.33M527.8 306.33L531 303.13" stroke="#1a1aff" stroke-width="1.69" fill="none"/>
<path d="M529.07 301.27L532.27 304.47M529.07 304.47L532.27 301.27" stroke="#1a1aff" stroke-width="1.69" fill="none"/>
<path d="M530.35 303.5L533.55 306.7M530.35 306.7L533.55 303.5" stroke="#1a1aff" stroke-width="1.69" fill="none"/>
<path d="M531.62 301.84L534.82 305.04M531.62 305.04L534.82 301.84" stroke="#1a1aff" stroke-width="1.69" fill="none"/>
<path d="M532.9 299.17L536.1 302.37M532.9 302.37L536.1 299.17" stroke="#1a1aff" stroke-width="1.69" fill="none"/>
<path d="M534.17 301.93L537.38 305.13M534.17 305.13L537.38 301.93" stroke="#1a1aff" stroke-width="1.69" fill="none"/>
<path d="M535.45 303.08L538.65 306.28M535.45 306.28L538.65 303.08" stroke="#1a1aff" stroke-width="1.69" fill="none"/>
<path d="M536.72 303.84L539.92 307.04M536.72 307.04L539.92 303.84" stroke="#1a1aff" stroke-width="1.69" fill="none"/>
<path d="M538 303.65L541.2 306.85M538 306.85L541.2 303.65" stroke="#1a1aff" stroke-width="1.69" fill="none"/>
<path d="M539.27 306.36L542.48 309.56M539.27 309.56L542.48 306.36" stroke="#1a1aff" stroke-width="1.69" fill="none"/>
<path d="M540.55 305.62L543.75 308.82M540.55 308.82L543.75 305.62" stroke="#1a1aff" stroke-width="1.69" fill="none"/>
<path d="M541.82 306.73L545.02 309.93M541.82 309.93L545.02 306.73" stroke="#1a1aff" stroke-width="1.69" fill="none"/>
<path d="M543.1 307.38L546.3 310.58M543.1 310.58L546.3 307.38" stroke="#1a1aff" stroke-width="1.69" fill="none"/>
<path d="M544.37 315.35L547.57 318.55M544.37 318.55L547.57 315.35" stroke="#1a1aff" stroke-width="1.69" fill="none"/>
<polyline points="326.67,309.09 327.95,310.65 329.22,315.89 330.5,313.34 331.77,310.61 333.05,296.4 334.32,302.75 335.6,307.91 336.88,304.52 338.15,303.31 339.42,306.48 340.7,309.54 341.97,311.76 343.25,308.67 344.52,321.73 345.8,297.28 347.07,305.69 348.35,303.68 349.62,300.52 350.9,304.56 352.17,313.61 353.45,307.28 354.72,298.3 356,303.51 357.27,305.78 358.55,311.01 359.82,324.62 361.1,318.03 362.38,298.21 363.65,302.25 364.92,305.3 366.2,310 367.47,315.04 368.75,306.13 370.02,299.53 371.3,315.11 372.57,303.07 373.85,295.71 375.12,314.17 376.4,283.94 377.67,294.38 378.95,282.79 380.22,289.01 381.5,293.75 382.77,301.52 384.05,301.74 385.32,322.89 386.6,283.74 387.88,303.72 389.15,295.46 390.42,316.48 391.7,306.53 392.97,303.42 394.25,298.44 395.52,301.98 396.8,304.97 398.07,308.66 399.35,302.47 400.62,301.57 401.9,276.77 403.17,317.34 404.45,308.64 405.72,304.64 407,300.25 408.27,290.79 409.55,315.63 410.82,308.8 412.1,302.83 413.38,302.2 414.65,299.38 415.92,298.09 417.2,302.02 418.47,305.47 419.75,301.46 421.02,304.34 422.3,297.98 423.57,280.64 424.85,300.46 426.12,304.71 427.4,309.05 428.67,301.6 429.95,304.45 431.22,307.44 432.5,314.36 433.77,288.58 435.05,301.25 436.32,304.37 437.6,305.66 438.88,302.06 440.15,298.81 441.42,302.92 442.7,296.5 443.97,313.85 445.25,305.31 446.52,298.3 447.8,303.37 449.07,308.3 450.35,311.48 451.62,324.05 452.9,287.3 454.17,298.85 455.45,275.25 456.72,296.21 458,249.06 459.27,252.76 460.55,248.68 461.82,334.88 463.1,276.62 464.38,299.92 465.65,308.75 466.92,323.02 468.2,330.38 469.47,293.6 470.75,301.34 472.02,311.49 473.3,322.43 474.57,296.77 475.85,295.32 477.12,310.83 478.4,287.2 479.67,300.54 480.95,324.68 482.22,303.82 483.5,300.33 484.77,305.33 486.05,308.92 487.32,306.81 488.6,301.97 489.88,312.51 491.15,339.5 492.42,309.74 493.7,305.31 494.97,301.97 496.25,308.15 497.52,297.8 498.8,303.54 500.07,310.18 501.35,321.99 502.62,311.25 503.9,291.42 505.17,281.24 506.45,288.54 507.72,300.68 509,293.34 510.27,303.55 511.55,298.36 512.82,308.04 514.1,296.28 515.38,283.27 516.65,301.18 517.92,334.37 519.2,317.86 520.47,303.17 521.75,301.35 523.02,304 524.3,299.56 525.57,314.1 526.85,303.03 528.12,301.85 529.4,305.45 530.67,302.93 531.95,304.7 533.22,304.21 534.5,301.87 535.77,304.84 537.05,306.1 538.32,306.69 539.6,304.27 540.88,307.11 542.15,305.8 543.42,308.47 544.7,308.61 545.97,315.53" fill="none" stroke="#111111" stroke-width="1.4" stroke-linejoin="round" stroke-dasharray="1.33 1.47"/>
<path d="M325.07 307.49L328.27 310.69M325.07 310.69L328.27 307.49" stroke="#111111" stroke-width="1.69" fill="none"/>
<path d="M326.35 309.05L329.55 312.25M326.35 312.25L329.55 309.05" stroke="#111111" stroke-width="1.69" fill="none"/>
<path d="M327.62 314.29L330.82 317.49M327.62 317.49L330.82 314.29" stroke="#111111" stroke-width="1.69" fill="none"/>
<path d="M328.9 311.74L332.1 314.94M328.9 314.94L332.1 311.74" stroke="#111111" stroke-width="1.69" fill="none"/>
<path d="M330.17 309.01L333.38 312.21M330.17 312.21L333.38 309.01" stroke="#111111" stroke-width="1.69" fill="none"/>
<path d="M331.45 294.8L334.65 298M331.45 298L334.65 294.8" stroke="#111111" stroke-width="1.69" fill="none"/>
<path d="M332.72 301.15L335.93 304.35M332.72 304.35L335.93 301.15" stroke="#111111" stroke-width="1.69" fill="none"/>
<path d="M334 306.31L337.2 309.51M334 309.51L337.2 306.31" stroke="#111111" stroke-width="1.69" fill="none"/>
<path d="M335.27 302.92L338.48 306.12M335.27 306.12L338.48 302.92" stroke="#111111" stroke-width="1.69" fill="none"/>
<path d="M336.55 301.71L339.75 304.91M336.55 304.91L339.75 301.71" stroke="#111111" stroke-width="1.69" fill="none"/>
<path d="M337.82 304.88L341.02 308.08M337.82 308.08L341.02 304.88" stroke="#111111" stroke-width="1.69" fill="none"/>
<path d="M339.1 307.94L342.3 311.14M339.1 311.14L342.3 307.94" stroke="#111111" stroke-width="1.69" fill="none"/>
<path d="M340.37 310.16L343.57 313.36M340.37 313.36L343.57 310.16" stroke="#111111" stroke-width="1.69" fill="none"/>
<path d="M341.65 307.07L344.85 310.27M341.65 310.27L344.85 307.07" stroke="#111111" stroke-width="1.69" fill="none"/>
<path d="M342.92 320.13L346.12 323.33M342.92 323.33L346.12 320.13" stroke="#111111" stroke-width="1.69" fill="none"/>
<path d="M344.2 295.68L347.4 298.88M344.2 298.88L347.4 295.68" stroke="#111111" stroke-width="1.69" fill="none"/>
<path d="M345.47 304.09L348.68 307.29M345.47 307.29L348.68 304.09" stroke="#111111" stroke-width="1.69" fill="none"/>
<path d="M346.75 302.08L349.95 305.28M346.75 305.28L349.95 302.08" stroke="#111111" stroke-width="1.69" fill="none"/>
<path d="M348.02 298.92L351.23 302.12M348.02 302.12L351.23 298.92" stroke="#111111" stroke-width="1.69" fill="none"/>
<path d="M349.3 302.96L352.5 306.16M349.3 306.16L352.5 302.96" stroke="#111111" stroke-width="1.69" fill="none"/>
<path d="M350.57 312.01L353.77 315.21M350.57 315.21L353.77 312.01" stroke="#111111" stroke-width="1.69" fill="none"/>
<path d="M351.85 305.68L355.05 308.88M351.85 308.88L355.05 305.68" stroke="#111111" stroke-width="1.69" fill="none"/>
<path d="M353.12 296.7L356.32 299.9M353.12 299.9L356.32 296.7" stroke="#111111" stroke-width="1.69" fill="none"/>
<path d="M354.4 301.91L357.6 305.11M354.4 305.11L357.6 301.91" stroke="#111111" stroke-width="1.69" fill="none"/>
<path d="M355.67 304.18L358.88 307.38M355.67 307.38L358.88 304.18" stroke="#111111" stroke-width="1.69" fill="none"/>
<path d="M356.95 309.41L360.15 312.61M356.95 312.61L360.15 309.41" stroke="#111111" stroke-width="1.69" fill="none"/>
<path d="M358.22 323.02L361.43 326.22M358.22 326.22L361.43 323.02" stroke="#111111" stroke-width="1.69" fill="none"/>
<path d="M359.5 316.43L362.7 319.63M359.5 319.63L362.7 316.43" stroke="#111111" stroke-width="1.69" fill="none"/>
<path d="M360.77 296.61L363.98 299.81M360.77 299.81L363.98 296.61" stroke="#111111" stroke-width="1.69" fill="none"/>
<path d="M362.05 300.65L365.25 303.85M362.05 303.85L365.25 300.65" stroke="#111111" stroke-width="1.69" fill="none"/>
<path d="M363.32 303.7L366.52 306.9M363.32 306.9L366.52 303.7" stroke="#111111" stroke-width="1.69" fill="none"/>
<path d="M364.6 308.4L367.8 311.6M364.6 311.6L367.8 308.4" stroke="#111111" stroke-width="1.69" fill="none"/>
<path d="M365.87 313.44L369.07 316.64M365.87 316.64L369.07 313.44" stroke="#111111" stroke-width="1.69" fill="none"/>
<path d="M367.15 304.53L370.35 307.73M367.15 307.73L370.35 304.53" stroke="#111111" stroke-width="1.69" fill="none"/>
<path d="M368.42 297.93L371.62 301.13M368.42 301.13L371.62 297.93" stroke="#111111" stroke-width="1.69" fill="none"/>
<path d="M369.7 313.51L372.9 316.71M369.7 316.71L372.9 313.51" stroke="#111111" stroke-width="1.69" fill="none"/>
<path d="M370.97 301.47L374.18 304.67M370.97 304.67L374.18 301.47" stroke="#111111" stroke-width="1.69" fill="none"/>
<path d="M372.25 294.11L375.45 297.31M372.25 297.31L375.45 294.11" stroke="#111111" stroke-width="1.69" fill="none"/>
<path d="M373.52 312.57L376.73 315.77M373.52 315.77L376.73 312.57" stroke="#111111" stroke-width="1.69" fill="none"/>
<path d="M374.8 282.34L378 285.54M374.8 285.54L378 282.34" stroke="#111111" stroke-width="1.69" fill="none"/>
<path d="M376.07 292.78L379.27 295.98M376.07 295.98L379.27 292.78" stroke="#111111" stroke-width="1.69" fill="none"/>
<path d="M377.35 281.19L380.55 284.39M377.35 284.39L380.55 281.19" stroke="#111111" stroke-width="1.69" fill="none"/>
<path d="M378.62 287.41L381.82 290.61M378.62 290.61L381.82 287.41" stroke="#111111" stroke-width="1.69" fill="none"/>
<path d="M379.9 292.15L383.1 295.35M379.9 295.35L383.1 292.15" stroke="#111111" stroke-width="1.69" fill="none"/>
<path d="M381.17 299.92L384.38 303.12M381.17 303.12L384.38 299.92" stroke="#111111" stroke-width="1.69" fill="none"/>
<path d="M382.45 300.14L385.65 303.34M382.45 303.34L385.65 300.14" stroke="#111111" stroke-width="1.69" fill="none"/>
<path d="M383.72 321.29L386.93 324.49M383.72 324.49L386.93 321.29" stroke="#111111" stroke-width="1.69" fill="none"/>
<path d="M385 282.14L388.2 285.34M385 285.34L388.2 282.14" stroke="#111111" stroke-width="1.69" fill="none"/>
<path d="M386.27 302.12L389.48 305.32M386.27 305.32L389.48 302.12" stroke="#111111" stroke-width="1.69" fill="none"/>
<path d="M387.55 293.86L390.75 297.06M387.55 297.06L390.75 293.86" stroke="#111111" stroke-width="1.69" fill="none"/>
<path d="M388.82 314.88L392.02 318.08M388.82 318.08L392.02 314.88" stroke="#111111" stroke-width="1.69" fill="none"/>
<path d="M390.1 304.93L393.3 308.13M390.1 308.13L393.3 304.93" stroke="#111111" stroke-width="1.69" fill="none"/>
<path d="M391.37 301.82L394.57 305.02M391.37 305.02L394.57 301.82" stroke="#111111" stroke-width="1.69" fill="none"/>
<path d="M392.65 296.84L395.85 300.04M392.65 300.04L395.85 296.84" stroke="#111111" stroke-width="1.69" fill="none"/>
<path d="M393.92 300.38L397.12 303.58M393.92 303.58L397.12 300.38" stroke="#111111" stroke-width="1.69" fill="none"/>
<path d="M395.2 303.37L398.4 306.57M395.2 306.57L398.4 303.37" stroke="#111111" stroke-width="1.69" fill="none"/>
<path d="M396.47 307.06L399.68 310.26M396.47 310.26L399.68 307.06" stroke="#111111" stroke-width="1.69" fill="none"/>
<path d="M397.75 300.87L400.95 304.07M397.75 304.07L400.95 300.87" stroke="#111111" stroke-width="1.69" fill="none"/>
<path d="M399.02 299.97L402.23 303.17M399.02 303.17L402.23 299.97" stroke="#111111" stroke-width="1.69" fill="none"/>
<path d="M400.3 275.17L403.5 278.37M400.3 278.37L403.5 275.17" stroke="#111111" stroke-width="1.69" fill="none"/>
<path d="M401.57 315.74L404.77 318.94M401.57 318.94L404.77 315.74" stroke="#111111" stroke-width="1.69" fill="none"/>
<path d="M402.85 307.04L406.05 310.24M402.85 310.24L406.05 307.04" stroke="#111111" stroke-width="1.69" fill="none"/>
<path d="M404.12 303.04L407.32 306.24M404.12 306.24L407.32 303.04" stroke="#111111" stroke-width="1.69" fill="none"/>
<path d="M405.4 298.65L408.6 301.85M405.4 301.85L408.6 298.65" stroke="#111111" stroke-width="1.69" fill="none"/>
<path d="M406.67 289.19L409.88 292.39M406.67 292.39L409.88 289.19" stroke="#111111" stroke-width="1.69" fill="none"/>
<path d="M407.95 314.03L411.15 317.23M407.95 317.23L411.15 314.03" stroke="#111111" stroke-width="1.69" fill="none"/>
<path d="M409.22 307.2L412.43 310.4M409.22 310.4L412.43 307.2" stroke="#111111" stroke-width="1.69" fill="none"/>
<path d="M410.5 301.23L413.7 304.43M410.5 304.43L413.7 301.23" stroke="#111111" stroke-width="1.69" fill="none"/>
<path d="M411.77 300.6L414.98 303.8M411.77 303.8L414.98 300.6" stroke="#111111" stroke-width="1.69" fill="none"/>
<path d="M413.05 297.78L416.25 300.98M413.05 300.98L416.25 297.78" stroke="#111111" stroke-width="1.69" fill="none"/>
<path d="M414.32 296.49L417.52 299.69M414.32 299.69L417.52 296.49" stroke="#111111" stroke-width="1.69" fill="none"/>
<path d="M415.6 300.42L418.8 303.62M415.6 303.62L418.8 300.42" stroke="#111111" stroke-width="1.69" fill="none"/>
<path d="M416.87 303.87L420.07 307.07M416.87 307.07L420.07 303.87" stroke="#111111" stroke-width="1.69" fill="none"/>
<path d="M418.15 299.86L421.35 303.06M418.15 303.06L421.35 299.86" stroke="#111111" stroke-width="1.69" fill="none"/>
<path d="M419.42 302.74L422.62 305.94M419.42 305.94L422.62 302.74" stroke="#111111" stroke-width="1.69" fill="none"/>
<path d="M420.7 296.38L423.9 299.58M420.7 299.58L423.9 296.38" stroke="#111111" stroke-width="1.69" fill="none"/>
<path d="M421.97 279.04L425.18 282.24M421.97 282.24L425.18 279.04" stroke="#111111" stroke-width="1.69" fill="none"/>
<path d="M423.25 298.86L426.45 302.06M423.25 302.06L426.45 298.86" stroke="#111111" stroke-width="1.69" fill="none"/>
<path d="M424.52 303.11L427.73 306.31M424.52 306.31L427.73 303.11" stroke="#111111" stroke-width="1.69" fill="none"/>
<path d="M425.8 307.45L429 310.65M425.8 310.65L429 307.45" stroke="#111111" stroke-width="1.69" fill="none"/>
<path d="M427.07 300L430.27 303.2M427.07 303.2L430.27 300" stroke="#111111" stroke-width="1.69" fill="none"/>
<path d="M428.35 302.85L431.55 306.05M428.35 306.05L431.55 302.85" stroke="#111111" stroke-width="1.69" fill="none"/>
<path d="M429.62 305.84L432.82 309.04M429.62 309.04L432.82 305.84" stroke="#111111" stroke-width="1.69" fill="none"/>
<path d="M430.9 312.76L434.1 315.96M430.9 315.96L434.1 312.76" stroke="#111111" stroke-width="1.69" fill="none"/>
<path d="M432.17 286.98L435.38 290.18M432.17 290.18L435.38 286.98" stroke="#111111" stroke-width="1.69" fill="none"/>
<path d="M433.45 299.65L436.65 302.85M433.45 302.85L436.65 299.65" stroke="#111111" stroke-width="1.69" fill="none"/>
<path d="M434.72 302.77L437.93 305.97M434.72 305.97L437.93 302.77" stroke="#111111" stroke-width="1.69" fill="none"/>
<path d="M436 304.06L439.2 307.26M436 307.26L439.2 304.06" stroke="#111111" stroke-width="1.69" fill="none"/>
<path d="M437.27 300.46L440.48 303.66M437.27 303.66L440.48 300.46" stroke="#111111" stroke-width="1.69" fill="none"/>
<path d="M438.55 297.21L441.75 300.41M438.55 300.41L441.75 297.21" stroke="#111111" stroke-width="1.69" fill="none"/>
<path d="M439.82 301.32L443.02 304.52M439.82 304.52L443.02 301.32" stroke="#111111" stroke-width="1.69" fill="none"/>
<path d="M441.1 294.9L444.3 298.1M441.1 298.1L444.3 294.9" stroke="#111111" stroke-width="1.69" fill="none"/>
<path d="M442.37 312.25L445.57 315.45M442.37 315.45L445.57 312.25" stroke="#111111" stroke-width="1.69" fill="none"/>
<path d="M443.65 303.71L446.85 306.91M443.65 306.91L446.85 303.71" stroke="#111111" stroke-width="1.69" fill="none"/>
<path d="M444.92 296.7L448.12 299.9M444.92 299.9L448.12 296.7" stroke="#111111" stroke-width="1.69" fill="none"/>
<path d="M446.2 301.77L449.4 304.97M446.2 304.97L449.4 301.77" stroke="#111111" stroke-width="1.69" fill="none"/>
<path d="M447.47 306.7L450.68 309.9M447.47 309.9L450.68 306.7" stroke="#111111" stroke-width="1.69" fill="none"/>
<path d="M448.75 309.88L451.95 313.08M448.75 313.08L451.95 309.88" stroke="#111111" stroke-width="1.69" fill="none"/>
<path d="M450.02 322.45L453.23 325.65M450.02 325.65L453.23 322.45" stroke="#111111" stroke-width="1.69" fill="none"/>
<path d="M451.3 285.7L454.5 288.9M451.3 288.9L454.5 285.7" stroke="#111111" stroke-width="1.69" fill="none"/>
<path d="M452.57 297.25L455.77 300.45M452.57 300.45L455.77 297.25" stroke="#111111" stroke-width="1.69" fill="none"/>
<path d="M453.85 273.65L457.05 276.85M453.85 276.85L457.05 273.65" stroke="#111111" stroke-width="1.69" fill="none"/>
<path d="M455.12 294.61L458.32 297.81M455.12 297.81L458.32 294.61" stroke="#111111" stroke-width="1.69" fill="none"/>
<path d="M456.4 247.46L459.6 250.66M456.4 250.66L459.6 247.46" stroke="#111111" stroke-width="1.69" fill="none"/>
<path d="M457.67 251.16L460.88 254.36M457.67 254.36L460.88 251.16" stroke="#111111" stroke-width="1.69" fill="none"/>
<path d="M458.95 247.08L462.15 250.28M458.95 250.28L462.15 247.08" stroke="#111111" stroke-width="1.69" fill="none"/>
<path d="M460.22 333.28L463.42 336.48M460.22 336.48L463.42 333.28" stroke="#111111" stroke-width="1.69" fill="none"/>
<path d="M461.5 275.02L464.7 278.22M461.5 278.22L464.7 275.02" stroke="#111111" stroke-width="1.69" fill="none"/>
<path d="M462.77 298.32L465.98 301.52M462.77 301.52L465.98 298.32" stroke="#111111" stroke-width="1.69" fill="none"/>
<path d="M464.05 307.15L467.25 310.35M464.05 310.35L467.25 307.15" stroke="#111111" stroke-width="1.69" fill="none"/>
<path d="M465.32 321.42L468.52 324.62M465.32 324.62L468.52 321.42" stroke="#111111" stroke-width="1.69" fill="none"/>
<path d="M466.6 328.78L469.8 331.98M466.6 331.98L469.8 328.78" stroke="#111111" stroke-width="1.69" fill="none"/>
<path d="M467.87 292L471.07 295.2M467.87 295.2L471.07 292" stroke="#111111" stroke-width="1.69" fill="none"/>
<path d="M469.15 299.74L472.35 302.94M469.15 302.94L472.35 299.74" stroke="#111111" stroke-width="1.69" fill="none"/>
<path d="M470.42 309.89L473.62 313.09M470.42 313.09L473.62 309.89" stroke="#111111" stroke-width="1.69" fill="none"/>
<path d="M471.7 320.83L474.9 324.03M471.7 324.03L474.9 320.83" stroke="#111111" stroke-width="1.69" fill="none"/>
<path d="M472.97 295.17L476.17 298.37M472.97 298.37L476.17 295.17" stroke="#111111" stroke-width="1.69" fill="none"/>
<path d="M474.25 293.72L477.45 296.92M474.25 296.92L477.45 293.72" stroke="#111111" stroke-width="1.69" fill="none"/>
<path d="M475.52 309.23L478.73 312.43M475.52 312.43L478.73 309.23" stroke="#111111" stroke-width="1.69" fill="none"/>
<path d="M476.8 285.6L480 288.8M476.8 288.8L480 285.6" stroke="#111111" stroke-width="1.69" fill="none"/>
<path d="M478.07 298.94L481.27 302.14M478.07 302.14L481.27 298.94" stroke="#111111" stroke-width="1.69" fill="none"/>
<path d="M479.35 323.08L482.55 326.28M479.35 326.28L482.55 323.08" stroke="#111111" stroke-width="1.69" fill="none"/>
<path d="M480.62 302.22L483.82 305.42M480.62 305.42L483.82 302.22" stroke="#111111" stroke-width="1.69" fill="none"/>
<path d="M481.9 298.73L485.1 301.93M481.9 301.93L485.1 298.73" stroke="#111111" stroke-width="1.69" fill="none"/>
<path d="M483.17 303.73L486.38 306.93M483.17 306.93L486.38 303.73" stroke="#111111" stroke-width="1.69" fill="none"/>
<path d="M484.45 307.32L487.65 310.52M484.45 310.52L487.65 307.32" stroke="#111111" stroke-width="1.69" fill="none"/>
<path d="M485.72 305.21L488.92 308.41M485.72 308.41L488.92 305.21" stroke="#111111" stroke-width="1.69" fill="none"/>
<path d="M487 300.37L490.2 303.57M487 303.57L490.2 300.37" stroke="#111111" stroke-width="1.69" fill="none"/>
<path d="M488.27 310.91L491.48 314.11M488.27 314.11L491.48 310.91" stroke="#111111" stroke-width="1.69" fill="none"/>
<path d="M489.55 337.9L492.75 341.1M489.55 341.1L492.75 337.9" stroke="#111111" stroke-width="1.69" fill="none"/>
<path d="M490.82 308.14L494.02 311.34M490.82 311.34L494.02 308.14" stroke="#111111" stroke-width="1.69" fill="none"/>
<path d="M492.1 303.71L495.3 306.91M492.1 306.91L495.3 303.71" stroke="#111111" stroke-width="1.69" fill="none"/>
<path d="M493.37 300.37L496.57 303.57M493.37 303.57L496.57 300.37" stroke="#111111" stroke-width="1.69" fill="none"/>
<path d="M494.65 306.55L497.85 309.75M494.65 309.75L497.85 306.55" stroke="#111111" stroke-width="1.69" fill="none"/>
<path d="M495.92 296.2L499.12 299.4M495.92 299.4L499.12 296.2" stroke="#111111" stroke-width="1.69" fill="none"/>
<path d="M497.2 301.94L500.4 305.14M497.2 305.14L500.4 301.94" stroke="#111111" stroke-width="1.69" fill="none"/>
<path d="M498.47 308.58L501.67 311.78M498.47 311.78L501.67 308.58" stroke="#111111" stroke-width="1.69" fill="none"/>
<path d="M499.75 320.39L502.95 323.59M499.75 323.59L502.95 320.39" stroke="#111111" stroke-width="1.69" fill="none"/>
<path d="M501.02 309.65L504.23 312.85M501.02 312.85L504.23 309.65" stroke="#111111" stroke-width="1.69" fill="none"/>
<path d="M502.3 289.82L505.5 293.02M502.3 293.02L505.5 289.82" stroke="#111111" stroke-width="1.69" fill="none"/>
<path d="M503.57 279.64L506.77 282.84M503.57 282.84L506.77 279.64" stroke="#111111" stroke-width="1.69" fill="none"/>
<path d="M504.85 286.94L508.05 290.14M504.85 290.14L508.05 286.94" stroke="#111111" stroke-width="1.69" fill="none"/>
<path d="M506.12 299.08L509.32 302.28M506.12 302.28L509.32 299.08" stroke="#111111" stroke-width="1.69" fill="none"/>
<path d="M507.4 291.74L510.6 294.94M507.4 294.94L510.6 291.74" stroke="#111111" stroke-width="1.69" fill="none"/>
<path d="M508.67 301.95L511.88 305.15M508.67 305.15L511.88 301.95" stroke="#111111" stroke-width="1.69" fill="none"/>
<path d="M509.95 296.76L513.15 299.96M509.95 299.96L513.15 296.76" stroke="#111111" stroke-width="1.69" fill="none"/>
<path d="M511.22 306.44L514.42 309.64M511.22 309.64L514.42 306.44" stroke="#111111" stroke-width="1.69" fill="none"/>
<path d="M512.5 294.68L515.7 297.88M512.5 297.88L515.7 294.68" stroke="#111111" stroke-width="1.69" fill="none"/>
<path d="M513.77 281.67L516.98 284.87M513.77 284.87L516.98 281.67" stroke="#111111" stroke-width="1.69" fill="none"/>
<path d="M515.05 299.58L518.25 302.78M515.05 302.78L518.25 299.58" stroke="#111111" stroke-width="1.69" fill="none"/>
<path d="M516.32 332.77L519.52 335.97M516.32 335.97L519.52 332.77" stroke="#111111" stroke-width="1.69" fill="none"/>
<path d="M517.6 316.26L520.8 319.46M517.6 319.46L520.8 316.26" stroke="#111111" stroke-width="1.69" fill="none"/>
<path d="M518.87 301.57L522.07 304.77M518.87 304.77L522.07 301.57" stroke="#111111" stroke-width="1.69" fill="none"/>
<path d="M520.15 299.75L523.35 302.95M520.15 302.95L523.35 299.75" stroke="#111111" stroke-width="1.69" fill="none"/>
<path d="M521.42 302.4L524.62 305.6M521.42 305.6L524.62 302.4" stroke="#111111" stroke-width="1.69" fill="none"/>
<path d="M522.7 297.96L525.9 301.16M522.7 301.16L525.9 297.96" stroke="#111111" stroke-width="1.69" fill="none"/>
<path d="M523.97 312.5L527.17 315.7M523.97 315.7L527.17 312.5" stroke="#111111" stroke-width="1.69" fill="none"/>
<path d="M525.25 301.43L528.45 304.63M525.25 304.63L528.45 301.43" stroke="#111111" stroke-width="1.69" fill="none"/>
<path d="M526.52 300.25L529.73 303.45M526.52 303.45L529.73 300.25" stroke="#111111" stroke-width="1.69" fill="none"/>
<path d="M527.8 303.85L531 307.05M527.8 307.05L531 303.85" stroke="#111111" stroke-width="1.69" fill="none"/>
<path d="M529.07 301.33L532.27 304.53M529.07 304.53L532.27 301.33" stroke="#111111" stroke-width="1.69" fill="none"/>
<path d="M530.35 303.1L533.55 306.3M530.35 306.3L533.55 303.1" stroke="#111111" stroke-width="1.69" fill="none"/>
<path d="M531.62 302.61L534.82 305.81M531.62 305.81L534.82 302.61" stroke="#111111" stroke-width="1.69" fill="none"/>
<path d="M532.9 300.27L536.1 303.47M532.9 303.47L536.1 300.27" stroke="#111111" stroke-width="1.69" fill="none"/>
<path d="M534.17 303.24L537.38 306.44M534.17 306.44L537.38 303.24" stroke="#111111" stroke-width="1.69" fill="none"/>
<path d="M535.45 304.5L538.65 307.7M535.45 307.7L538.65 304.5" stroke="#111111" stroke-width="1.69" fill="none"/>
<path d="M536.72 305.09L539.92 308.29M536.72 308.29L539.92 305.09" stroke="#111111" stroke-width="1.69" fill="none"/>
<path d="M538 302.67L541.2 305.87M538 305.87L541.2 302.67" stroke="#111111" stroke-width="1.69" fill="none"/>
<path d="M539.27 305.51L542.48 308.71M539.27 308.71L542.48 305.51" stroke="#111111" stroke-width="1.69" fill="none"/>
<path d="M540.55 304.2L543.75 307.4M540.55 307.4L543.75 304.2" stroke="#111111" stroke-width="1.69" fill="none"/>
<path d="M541.82 306.87L545.02 310.07M541.82 310.07L545.02 306.87" stroke="#111111" stroke-width="1.69" fill="none"/>
<path d="M543.1 307.01L546.3 310.21M543.1 310.21L546.3 307.01" stroke="#111111" stroke-width="1.69" fill="none"/>
<path d="M544.37 313.93L547.57 317.13M544.37 317.13L547.57 313.93" stroke="#111111" stroke-width="1.69" fill="none"/>
<polyline points="326.67,309.98 327.95,308.99 329.22,314.14 330.5,312.3 331.77,309.9 333.05,297.14 334.32,302.5 335.6,306.96 336.88,306 338.15,302.97 339.42,306.21 340.7,310.09 341.97,311.97 343.25,307.03 344.52,320.91 345.8,296.39 347.07,304.38 348.35,304.58 349.62,299.88 350.9,305.4 352.17,314.42 353.45,306.94 354.72,298.51 356,303.29 357.27,305.41 358.55,311.05 359.82,322.1 361.1,317.3 362.38,297.96 363.65,301.28 364.92,303.66 366.2,309.85 367.47,315.58 368.75,306.03 370.02,298.02 371.3,315.77 372.57,303.93 373.85,297.2 375.12,314.69 376.4,283.19 377.67,295.9 378.95,280.87 380.22,288.48 381.5,292.37 382.77,301.11 384.05,301.47 385.32,322.07 386.6,285.35 387.88,304.46 389.15,296.31 390.42,316.87 391.7,306 392.97,302.95 394.25,297.97 395.52,302.66 396.8,304.42 398.07,308.69 399.35,303.92 400.62,300.69 401.9,278.95 403.17,318.81 404.45,310.12 405.72,303.74 407,300.96 408.27,289.79 409.55,315.57 410.82,309 412.1,302.96 413.38,302.1 414.65,300.53 415.92,297.07 417.2,301.84 418.47,305.81 419.75,299.81 421.02,303.86 422.3,298.75 423.57,281.64 424.85,300.68 426.12,305.5 427.4,308.91 428.67,301.45 429.95,304.07 431.22,307.33 432.5,314.37 433.77,289.23 435.05,299.82 436.32,303.12 437.6,305.64 438.88,300.92 440.15,299.89 441.42,303.22 442.7,295.15 443.97,315.51 445.25,304.83 446.52,298.76 447.8,303.54 449.07,308.8 450.35,311.68 451.62,323.22 452.9,287.3 454.17,299.23 455.45,277.94 456.72,296.81 458,248.77 459.27,248.7 460.55,249.18 461.82,340.75 463.1,269.28 464.38,300.65 465.65,310.21 466.92,323.47 468.2,331.8 469.47,292.15 470.75,301.22 472.02,312.19 473.3,321.72 474.57,297.76 475.85,303.06 477.12,309.29 478.4,286.73 479.67,301.28 480.95,321.19 482.22,303.61 483.5,299.62 484.77,303.79 486.05,309.35 487.32,306.52 488.6,301.93 489.88,311.12 491.15,342.41 492.42,309.59 493.7,305.46 494.97,302.07 496.25,308.77 497.52,297.7 498.8,303.44 500.07,311.87 501.35,322.08 502.62,313.14 503.9,292.21 505.17,281.08 506.45,291.02 507.72,301.31 509,293.79 510.27,304.09 511.55,298.48 512.82,308.5 514.1,296.1 515.38,281.42 516.65,301.14 517.92,333.41 519.2,317.06 520.47,304.56 521.75,301.5 523.02,305.21 524.3,299.08 525.57,314.26 526.85,304.62 528.12,303.21 529.4,304.84 530.67,302.6 531.95,305.91 533.22,303.87 534.5,300.16 535.77,304.36 537.05,306.16 538.32,307.1 539.6,305.53 540.88,307.36 542.15,307.12 543.42,307.25 544.7,307.06 545.97,314.77" fill="none" stroke="#ff85c4" stroke-width="1.4" stroke-linejoin="round"/>
<rect x="324.67" y="307.98" width="4" height="4" stroke="#ff85c4" stroke-width="1.3" fill="none"/>
<rect x="325.95" y="306.99" width="4" height="4" stroke="#ff85c4" stroke-width="1.3" fill="none"/>
<rect x="327.22" y="312.14" width="4" height="4" stroke="#ff85c4" stroke-width="1.3" fill="none"/>
<rect x="328.5" y="310.3" width="4" height="4" stroke="#ff85c4" stroke-width="1.3" fill="none"/>
<rect x="329.77" y="307.9" width="4" height="4" stroke="#ff85c4" stroke-width="1.3" fill="none"/>
<rect x="331.05" y="295.14" width="4" height="4" stroke="#ff85c4" stroke-width="1.3" fill="none"/>
<rect x="332.32" y="300.5" width="4" height="4" stroke="#ff85c4" stroke-width="1.3" fill="none"/>
<rect x="333.6" y="304.96" width="4" height="4" stroke="#ff85c4" stroke-width="1.3" fill="none"/>
<rect x="334.88" y="304" width="4" height="4" stroke="#ff85c4" stroke-width="1.3" fill="none"/>
<rect x="336.15" y="300.97" width="4" height="4" stroke="#ff85c4" stroke-width="1.3" fill="none"/>
<rect x="337.42" y="304.21" width="4" height="4" stroke="#ff85c4" stroke-width="1.3" fill="none"/>
<rect x="338.7" y="308.09" width="4" height="4" stroke="#ff85c4" stroke-width="1.3" fill="none"/>
<rect x="339.97" y="309.97" width="4" height="4" stroke="#ff85c4" stroke-width="1.3" fill="none"/>
<rect x="341.25" y="305.03" width="4" height="4" stroke="#ff85c4" stroke-width="1.3" fill="none"/>
<rect x="342.52" y="318.91" width="4" height="4" stroke="#ff85c4" stroke-width="1.3" fill="none"/>
<rect x="343.8" y="294.39" width="4" height="4" stroke="#ff85c4" stroke-width="1.3" fill="none"/>
<rect x="345.07" y="302.38" width="4" height="4" stroke="#ff85c4" stroke-width="1.3" fill="none"/>
<rect x="346.35" y="302.58" width="4" height="4" stroke="#ff85c4" stroke-width="1.3" fill="none"/>
<rect x="347.62" y="297.88" width="4" height="4" stroke="#ff85c4" stroke-width="1.3" fill="none"/>
<rect x="348.9" y="303.4" width="4" height="4" stroke="#ff85c4" stroke-width="1.3" fill="none"/>
<rect x="350.17" y="312.42" width="4" height="4" stroke="#ff85c4" stroke-width="1.3" fill="none"/>
<rect x="351.45" y="304.94" width="4" height="4" stroke="#ff85c4" stroke-width="1.3" fill="none"/>
<rect x="352.72" y="296.51" width="4" height="4" stroke="#ff85c4" stroke-width="1.3" fill="none"/>
<rect x="354" y="301.29" width="4" height="4" stroke="#ff85c4" stroke-width="1.3" fill="none"/>
<rect x="355.27" y="303.41" width="4" height="4" stroke="#ff85c4" stroke-width="1.3" fill="none"/>
<rect x="356.55" y="309.05" width="4" height="4" stroke="#ff85c4" stroke-width="1.3" fill="none"/>
<rect x="357.82" y="320.1" width="4" height="4" stroke="#ff85c4" stroke-width="1.3" fill="none"/>
<rect x="359.1" y="315.3" width="4" height="4" stroke="#ff85c4" stroke-width="1.3" fill="none"/>
<rect x="360.38" y="295.96" width="4" height="4" stroke="#ff85c4" stroke-width="1.3" fill="none"/>
<rect x="361.65" y="299.28" width="4" height="4" stroke="#ff85c4" stroke-width="1.3" fill="none"/>
<rect x="362.92" y="301.66" width="4" height="4" stroke="#ff85c4" stroke-width="1.3" fill="none"/>
<rect x="364.2" y="307.85" width="4" height="4" stroke="#ff85c4" stroke-width="1.3" fill="none"/>
<rect x="365.47" y="313.58" width="4" height="4" stroke="#ff85c4" stroke-width="1.3" fill="none"/>
<rect x="366.75" y="304.03" width="4" height="4" stroke="#ff85c4" stroke-width="1.3" fill="none"/>
<rect x="368.02" y="296.02" width="4" height="4" stroke="#ff85c4" stroke-width="1.3" fill="none"/>
<rect x="369.3" y="313.77" width="4" height="4" stroke="#ff85c4" stroke-width="1.3" fill="none"/>
<rect x="370.57" y="301.93" width="4" height="4" stroke="#ff85c4" stroke-width="1.3" fill="none"/>
<rect x="371.85" y="295.2" width="4" height="4" stroke="#ff85c4" stroke-width="1.3" fill="none"/>
<rect x="373.12" y="312.69" width="4" height="4" stroke="#ff85c4" stroke-width="1.3" fill="none"/>
<rect x="374.4" y="281.19" width="4" height="4" stroke="#ff85c4" stroke-width="1.3" fill="none"/>
<rect x="375.67" y="293.9" width="4" height="4" stroke="#ff85c4" stroke-width="1.3" fill="none"/>
<rect x="376.95" y="278.87" width="4" height="4" stroke="#ff85c4" stroke-width="1.3" fill="none"/>
<rect x="378.22" y="286.48" width="4" height="4" stroke="#ff85c4" stroke-width="1.3" fill="none"/>
<rect x="379.5" y="290.37" width="4" height="4" stroke="#ff85c4" stroke-width="1.3" fill="none"/>
<rect x="380.77" y="299.11" width="4" height="4" stroke="#ff85c4" stroke-width="1.3" fill="none"/>
<rect x="382.05" y="299.47" width="4" height="4" stroke="#ff85c4" stroke-width="1.3" fill="none"/>
<rect x="383.32" y="320.07" width="4" height="4" stroke="#ff85c4" stroke-width="1.3" fill="none"/>
<rect x="384.6" y="283.35" width="4" height="4" stroke="#ff85c4" stroke-width="1.3" fill="none"/>
<rect x="385.88" y="302.46" width="4" height="4" stroke="#ff85c4" stroke-width="1.3" fill="none"/>
<rect x="387.15" y="294.31" width="4" height="4" stroke="#ff85c4" stroke-width="1.3" fill="none"/>
<rect x="388.42" y="314.87" width="4" height="4" stroke="#ff85c4" stroke-width="1.3" fill="none"/>
<rect x="389.7" y="304" width="4" height="4" stroke="#ff85c4" stroke-width="1.3" fill="none"/>
<rect x="390.97" y="300.95" width="4" height="4" stroke="#ff85c4" stroke-width="1.3" fill="none"/>
<rect x="392.25" y="295.97" width="4" height="4" stroke="#ff85c4" stroke-width="1.3" fill="none"/>
<rect x="393.52" y="300.66" width="4" height="4" stroke="#ff85c4" stroke-width="1.3" fill="none"/>
<rect x="394.8" y="302.42" width="4" height="4" stroke="#ff85c4" stroke-width="1.3" fill="none"/>
<rect x="396.07" y="306.69" width="4" height="4" stroke="#ff85c4" stroke-width="1.3" fill="none"/>
<rect x="397.35" y="301.92" width="4" height="4" stroke="#ff85c4" stroke-width="1.3" fill="none"/>
<rect x="398.62" y="298.69" width="4" height="4" stroke="#ff85c4" stroke-width="1.3" fill="none"/>
<rect x="399.9" y="276.95" width="4" height="4" stroke="#ff85c4" stroke-width="1.3" fill="none"/>
<rect x="401.17" y="316.81" width="4" height="4" stroke="#ff85c4" stroke-width="1.3" fill="none"/>
<rect x="402.45" y="308.12" width="4" height="4" stroke="#ff85c4" stroke-width="1.3" fill="none"/>
<rect x="403.72" y="301.74" width="4" height="4" stroke="#ff85c4" stroke-width="1.3" fill="none"/>
<rect x="405" y="298.96" width="4" height="4" stroke="#ff85c4" stroke-width="1.3" fill="none"/>
<rect x="406.27" y="287.79" width="4" height="4" stroke="#ff85c4" stroke-width="1.3" fill="none"/>
<rect x="407.55" y="313.57" width="4" height="4" stroke="#ff85c4" stroke-width="1.3" fill="none"/>
<rect x="408.82" y="307" width="4" height="4" stroke="#ff85c4" stroke-width="1.3" fill="none"/>
<rect x="410.1" y="300.96" width="4" height="4" stroke="#ff85c4" stroke-width="1.3" fill="none"/>
<rect x="411.38" y="300.1" width="4" height="4" stroke="#ff85c4" stroke-width="1.3" fill="none"/>
<rect x="412.65" y="298.53" width="4" height="4" stroke="#ff85c4" stroke-width="1.3" fill="none"/>
<rect x="413.92" y="295.07" width="4" height="4" stroke="#ff85c4" stroke-width="1.3" fill="none"/>
<rect x="415.2" y="299.84" width="4" height="4" stroke="#ff85c4" stroke-width="1.3" fill="none"/>
<rect x="416.47" y="303.81" width="4" height="4" stroke="#ff85c4" stroke-width="1.3" fill="none"/>
<rect x="417.75" y="297.81" width="4" height="4" stroke="#ff85c4" stroke-width="1.3" fill="none"/>
<rect x="419.02" y="301.86" width="4" height="4" stroke="#ff85c4" stroke-width="1.3" fill="none"/>
<rect x="420.3" y="296.75" width="4" height="4" stroke="#ff85c4" stroke-width="1.3" fill="none"/>
<rect x="421.57" y="279.64" width="4" height="4" stroke="#ff85c4" stroke-width="1.3" fill="none"/>
<rect x="422.85" y="298.68" width="4" height="4" stroke="#ff85c4" stroke-width="1.3" fill="none"/>
<rect x="424.12" y="303.5" width="4" height="4" stroke="#ff85c4" stroke-width="1.3" fill="none"/>
<rect x="425.4" y="306.91" width="4" height="4" stroke="#ff85c4" stroke-width="1.3" fill="none"/>
<rect x="426.67" y="299.45" width="4" height="4" stroke="#ff85c4" stroke-width="1.3" fill="none"/>
<rect x="427.95" y="302.07" width="4" height="4" stroke="#ff85c4" stroke-width="1.3" fill="none"/>
<rect x="429.22" y="305.33" width="4" height="4" stroke="#ff85c4" stroke-width="1.3" fill="none"/>
<rect x="430.5" y="312.37" width="4" height="4" stroke="#ff85c4" stroke-width="1.3" fill="none"/>
<rect x="431.77" y="287.23" width="4" height="4" stroke="#ff85c4" stroke-width="1.3" fill="none"/>
<rect x="433.05" y="297.82" width="4" height="4" stroke="#ff85c4" stroke-width="1.3" fill="none"/>
<rect x="434.32" y="301.12" width="4" height="4" stroke="#ff85c4" stroke-width="1.3" fill="none"/>
<rect x="435.6" y="303.64" width="4" height="4" stroke="#ff85c4" stroke-width="1.3" fill="none"/>
<rect x="436.88" y="298.92" width="4" height="4" stroke="#ff85c4" stroke-width="1.3" fill="none"/>
<rect x="438.15" y="297.89" width="4" height="4" stroke="#ff85c4" stroke-width="1.3" fill="none"/>
<rect x="439.42" y="301.22" width="4" height="4" stroke="#ff85c4" stroke-width="1.3" fill="none"/>
<rect x="440.7" y="293.15" width="4" height="4" stroke="#ff85c4" stroke-width="1.3" fill="none"/>
<rect x="441.97" y="313.51" width="4" height="4" stroke="#ff85c4" stroke-width="1.3" fill="none"/>
<rect x="443.25" y="302.83" width="4" height="4" stroke="#ff85c4" stroke-width="1.3" fill="none"/>
<rect x="444.52" y="296.76" width="4" height="4" stroke="#ff85c4" stroke-width="1.3" fill="none"/>
<rect x="445.8" y="301.54" width="4" height="4" stroke="#ff85c4" stroke-width="1.3" fill="none"/>
<rect x="447.07" y="306.8" width="4" height="4" stroke="#ff85c4" stroke-width="1.3" fill="none"/>
<rect x="448.35" y="309.68" width="4" height="4" stroke="#ff85c4" stroke-width="1.3" fill="none"/>
<rect x="449.62" y="321.22" width="4" height="4" stroke="#ff85c4" stroke-width="1.3" fill="none"/>
<rect x="450.9" y="285.3" width="4" height="4" stroke="#ff85c4" stroke-width="1.3" fill="none"/>
<rect x="452.17" y="297.23" width="4" height="4" stroke="#ff85c4" stroke-width="1.3" fill="none"/>
<rect x="453.45" y="275.94" width="4" height="4" stroke="#ff85c4" stroke-width="1.3" fill="none"/>
<rect x="454.72" y="294.81" width="4" height="4" stroke="#ff85c4" stroke-width="1.3" fill="none"/>
<rect x="456" y="246.77" width="4" height="4" stroke="#ff85c4" stroke-width="1.3" fill="none"/>
<rect x="457.27" y="246.7" width="4" height="4" stroke="#ff85c4" stroke-width="1.3" fill="none"/>
<rect x="458.55" y="247.18" width="4" height="4" stroke="#ff85c4" stroke-width="1.3" fill="none"/>
<rect x="459.82" y="338.75" width="4" height="4" stroke="#ff85c4" stroke-width="1.3" fill="none"/>
<rect x="461.1" y="267.28" width="4" height="4" stroke="#ff85c4" stroke-width="1.3" fill="none"/>
<rect x="462.38" y="298.65" width="4" height="4" stroke="#ff85c4" stroke-width="1.3" fill="none"/>
<rect x="463.65" y="308.21" width="4" height="4" stroke="#ff85c4" stroke-width="1.3" fill="none"/>
<rect x="464.92" y="321.47" width="4" height="4" stroke="#ff85c4" stroke-width="1.3" fill="none"/>
<rect x="466.2" y="329.8" width="4" height="4" stroke="#ff85c4" stroke-width="1.3" fill="none"/>
<rect x="467.47" y="290.15" width="4" height="4" stroke="#ff85c4" stroke-width="1.3" fill="none"/>
<rect x="468.75" y="299.22" width="4" height="4" stroke="#ff85c4" stroke-width="1.3" fill="none"/>
<rect x="470.02" y="310.19" width="4" height="4" stroke="#ff85c4" stroke-width="1.3" fill="none"/>
<rect x="471.3" y="319.72" width="4" height="4" stroke="#ff85c4" stroke-width="1.3" fill="none"/>
<rect x="472.57" y="295.76" width="4" height="4" stroke="#ff85c4" stroke-width="1.3" fill="none"/>
<rect x="473.85" y="301.06" width="4" height="4" stroke="#ff85c4" stroke-width="1.3" fill="none"/>
<rect x="475.12" y="307.29" width="4" height="4" stroke="#ff85c4" stroke-width="1.3" fill="none"/>
<rect x="476.4" y="284.73" width="4" height="4" stroke="#ff85c4" stroke-width="1.3" fill="none"/>
<rect x="477.67" y="299.28" width="4" height="4" stroke="#ff85c4" stroke-width="1.3" fill="none"/>
<rect x="478.95" y="319.19" width="4" height="4" stroke="#ff85c4" stroke-width="1.3" fill="none"/>
<rect x="480.22" y="301.61" width="4" height="4" stroke="#ff85c4" stroke-width="1.3" fill="none"/>
<rect x="481.5" y="297.62" width="4" height="4" stroke="#ff85c4" stroke-width="1.3" fill="none"/>
<rect x="482.77" y="301.79" width="4" height="4" stroke="#ff85c4" stroke-width="1.3" fill="none"/>
<rect x="484.05" y="307.35" width="4" height="4" stroke="#ff85c4" stroke-width="1.3" fill="none"/>
<rect x="485.32" y="304.52" width="4" height="4" stroke="#ff85c4" stroke-width="1.3" fill="none"/>
<rect x="486.6" y="299.93" width="4" height="4" stroke="#ff85c4" stroke-width="1.3" fill="none"/>
<rect x="487.88" y="309.12" width="4" height="4" stroke="#ff85c4" stroke-width="1.3" fill="none"/>
<rect x="489.15" y="340.41" width="4" height="4" stroke="#ff85c4" stroke-width="1.3" fill="none"/>
<rect x="490.42" y="307.59" width="4" height="4" stroke="#ff85c4" stroke-width="1.3" fill="none"/>
<rect x="491.7" y="303.46" width="4" height="4" stroke="#ff85c4" stroke-width="1.3" fill="none"/>
<rect x="492.97" y="300.07" width="4" height="4" stroke="#ff85c4" stroke-width="1.3" fill="none"/>
<rect x="494.25" y="306.77" width="4" height="4" stroke="#ff85c4" stroke-width="1.3" fill="none"/>
<rect x="495.52" y="295.7" width="4" height="4" stroke="#ff85c4" stroke-width="1.3" fill="none"/>
<rect x="496.8" y="301.44" width="4" height="4" stroke="#ff85c4" stroke-width="1.3" fill="none"/>
<rect x="498.07" y="309.87" width="4" height="4" stroke="#ff85c4" stroke-width="1.3" fill="none"/>
<rect x="499.35" y="320.08" width="4" height="4" stroke="#ff85c4" stroke-width="1.3" fill="none"/>
<rect x="500.62" y="311.14" width="4" height="4" stroke="#ff85c4" stroke-width="1.3" fill="none"/>
<rect x="501.9" y="290.21" width="4" height="4" stroke="#ff85c4" stroke-width="1.3" fill="none"/>
<rect x="503.17" y="279.08" width="4" height="4" stroke="#ff85c4" stroke-width="1.3" fill="none"/>
<rect x="504.45" y="289.02" width="4" height="4" stroke="#ff85c4" stroke-width="1.3" fill="none"/>
<rect x="505.72" y="299.31" width="4" height="4" stroke="#ff85c4" stroke-width="1.3" fill="none"/>
<rect x="507" y="291.79" width="4" height="4" stroke="#ff85c4" stroke-width="1.3" fill="none"/>
<rect x="508.27" y="302.09" width="4" height="4" stroke="#ff85c4" stroke-width="1.3" fill="none"/>
<rect x="509.55" y="296.48" width="4" height="4" stroke="#ff85c4" stroke-width="1.3" fill="none"/>
<rect x="510.82" y="306.5" width="4" height="4" stroke="#ff85c4" stroke-width="1.3" fill="none"/>
<rect x="512.1" y="294.1" width="4" height="4" stroke="#ff85c4" stroke-width="1.3" fill="none"/>
<rect x="513.38" y="279.42" width="4" height="4" stroke="#ff85c4" stroke-width="1.3" fill="none"/>
<rect x="514.65" y="299.14" width="4" height="4" stroke="#ff85c4" stroke-width="1.3" fill="none"/>
<rect x="515.92" y="331.41" width="4" height="4" stroke="#ff85c4" stroke-width="1.3" fill="none"/>
<rect x="517.2" y="315.06" width="4" height="4" stroke="#ff85c4" stroke-width="1.3" fill="none"/>
<rect x="518.47" y="302.56" width="4" height="4" stroke="#ff85c4" stroke-width="1.3" fill="none"/>
<rect x="519.75" y="299.5" width="4" height="4" stroke="#ff85c4" stroke-width="1.3" fill="none"/>
<rect x="521.02" y="303.21" width="4" height="4" stroke="#ff85c4" stroke-width="1.3" fill="none"/>
<rect x="522.3" y="297.08" width="4" height="4" stroke="#ff85c4" stroke-width="1.3" fill="none"/>
<rect x="523.57" y="312.26" width="4" height="4" stroke="#ff85c4" stroke-width="1.3" fill="none"/>
<rect x="524.85" y="302.62" width="4" height="4" stroke="#ff85c4" stroke-width="1.3" fill="none"/>
<rect x="526.12" y="301.21" width="4" height="4" stroke="#ff85c4" stroke-width="1.3" fill="none"/>
<rect x="527.4" y="302.84" width="4" height="4" stroke="#ff85c4" stroke-width="1.3" fill="none"/>
<rect x="528.67" y="300.6" width="4" height="4" stroke="#ff85c4" stroke-width="1.3" fill="none"/>
<rect x="529.95" y="303.91" width="4" height="4" stroke="#ff85c4" stroke-width="1.3" fill="none"/>
<rect x="531.22" y="301.87" width="4" height="4" stroke="#ff85c4" stroke-width="1.3" fill="none"/>
<rect x="532.5" y="298.16" width="4" height="4" stroke="#ff85c4" stroke-width="1.3" fill="none"/>
<rect x="533.77" y="302.36" width="4" height="4" stroke="#ff85c4" stroke-width="1.3" fill="none"/>
<rect x="535.05" y="304.16" width="4" height="4" stroke="#ff85c4" stroke-width="1.3" fill="none"/>
<rect x="536.32" y="305.1" width="4" height="4" stroke="#ff85c4" stroke-width="1.3" fill="none"/>
<rect x="537.6" y="303.53" width="4" height="4" stroke="#ff85c4" stroke-width="1.3" fill="none"/>
<rect x="538.88" y="305.36" width="4" height="4" stroke="#ff85c4" stroke-width="1.3" fill="none"/>
<rect x="540.15" y="305.12" width="4" height="4" stroke="#ff85c4" stroke-width="1.3" fill="none"/>
<rect x="541.42" y="305.25" width="4" height="4" stroke="#ff85c4" stroke-width="1.3" fill="none"/>
<rect x="542.7" y="305.06" width="4" height="4" stroke="#ff85c4" stroke-width="1.3" fill="none"/>
<rect x="543.97" y="312.77" width="4" height="4" stroke="#ff85c4" stroke-width="1.3" fill="none"/>
<polyline points="326.67,307.78 327.95,308.34 329.22,313.77 330.5,310.78 331.77,308.73 333.05,296.1 334.32,300.69 335.6,306.57 336.88,304.07 338.15,302.41 339.42,305.73 340.7,310.22 341.97,312.14 343.25,307.1 344.52,321.37 345.8,296.01 347.07,305.54 348.35,302.46 349.62,299.5 350.9,305.96 352.17,314.63 353.45,306.69 354.72,298.55 356,303.31 357.27,305.01 358.55,310.51 359.82,323.27 361.1,316.49 362.38,296.6 363.65,301.55 364.92,304.3 366.2,309.88 367.47,315.49 368.75,306.48 370.02,299.73 371.3,315.71 372.57,303 373.85,297.56 375.12,314.18 376.4,283.79 377.67,295.75 378.95,283.53 380.22,289.93 381.5,290.75 382.77,301.22 384.05,303.1 385.32,320.49 386.6,286.71 387.88,302.42 389.15,295.79 390.42,316.37 391.7,306.07 392.97,303.93 394.25,297.12 395.52,300.47 396.8,304.67 398.07,308.26 399.35,304.54 400.62,301.86 401.9,277.11 403.17,317.8 404.45,308.62 405.72,304.56 407,299.36 408.27,289.34 409.55,315.18 410.82,309.02 412.1,304.04 413.38,300.84 414.65,300.04 415.92,298.99 417.2,300.84 418.47,305.86 419.75,300.21 421.02,304.46 422.3,297.93 423.57,279.85 424.85,299.84 426.12,304.98 427.4,310.44 428.67,300.72 429.95,304.91 431.22,309.42 432.5,314.98 433.77,286.96 435.05,300.23 436.32,302.67 437.6,306.15 438.88,302.37 440.15,299.58 441.42,304.1 442.7,297.32 443.97,315.42 445.25,305.31 446.52,297.73 447.8,304.81 449.07,307.06 450.35,310.89 451.62,321.35 452.9,289.37 454.17,299.68 455.45,274.77 456.72,295.55 458,253.27 459.27,249.69 460.55,253.94 461.82,348.5 463.1,263.19 464.38,300.57 465.65,310.52 466.92,324.39 468.2,329.56 469.47,292.24 470.75,301.49 472.02,313.21 473.3,323.27 474.57,295.66 475.85,302.84 477.12,309.09 478.4,288.06 479.67,301.34 480.95,322 482.22,302.97 483.5,299.03 484.77,306.06 486.05,310.48 487.32,305.42 488.6,301.75 489.88,312.23 491.15,350.17 492.42,310.25 493.7,304.26 494.97,302.53 496.25,306.64 497.52,298.93 498.8,302.92 500.07,310.19 501.35,322.03 502.62,311.43 503.9,292.73 505.17,278.4 506.45,290.35 507.72,299.92 509,293.94 510.27,303.85 511.55,298.54 512.82,307.59 514.1,294.92 515.38,283.74 516.65,299.43 517.92,331.33 519.2,315.74 520.47,304.79 521.75,300.57 523.02,304.21 524.3,299.31 525.57,313.6 526.85,303.81 528.12,301.39 529.4,304.73 530.67,302.5 531.95,306.23 533.22,304.18 534.5,302.4 535.77,303.61 537.05,305.12 538.32,307.68 539.6,305.89 540.88,306.35 542.15,306.26 543.42,307.22 544.7,306.75 545.97,315.57" fill="none" stroke="#2bbdbd" stroke-width="1.4" stroke-linejoin="round"/>
<rect x="324.67" y="305.78" width="4" height="4" stroke="#2bbdbd" stroke-width="1.3" fill="none"/>
<rect x="325.95" y="306.34" width="4" height="4" stroke="#2bbdbd" stroke-width="1.3" fill="none"/>
<rect x="327.22" y="311.77" width="4" height="4" stroke="#2bbdbd" stroke-width="1.3" fill="none"/>
<rect x="328.5" y="308.78" width="4" height="4" stroke="#2bbdbd" stroke-width="1.3" fill="none"/>
<rect x="329.77" y="306.73" width="4" height="4" stroke="#2bbdbd" stroke-width="1.3" fill="none"/>
<rect x="331.05" y="294.1" width="4" height="4" stroke="#2bbdbd" stroke-width="1.3" fill="none"/>
<rect x="332.32" y="298.69" width="4" height="4" stroke="#2bbdbd" stroke-width="1.3" fill="none"/>
<rect x="333.6" y="304.57" width="4" height="4" stroke="#2bbdbd" stroke-width="1.3" fill="none"/>
<rect x="334.88" y="302.07" width="4" height="4" stroke="#2bbdbd" stroke-width="1.3" fill="none"/>
<rect x="336.15" y="300.41" width="4" height="4" stroke="#2bbdbd" stroke-width="1.3" fill="none"/>
<rect x="337.42" y="303.73" width="4" height="4" stroke="#2bbdbd" stroke-width="1.3" fill="none"/>
<rect x="338.7" y="308.22" width="4" height="4" stroke="#2bbdbd" stroke-width="1.3" fill="none"/>
<rect x="339.97" y="310.14" width="4" height="4" stroke="#2bbdbd" stroke-width="1.3" fill="none"/>
<rect x="341.25" y="305.1" width="4" height="4" stroke="#2bbdbd" stroke-width="1.3" fill="none"/>
<rect x="342.52" y="319.37" width="4" height="4" stroke="#2bbdbd" stroke-width="1.3" fill="none"/>
<rect x="343.8" y="294.01" width="4" height="4" stroke="#2bbdbd" stroke-width="1.3" fill="none"/>
<rect x="345.07" y="303.54" width="4" height="4" stroke="#2bbdbd" stroke-width="1.3" fill="none"/>
<rect x="346.35" y="300.46" width="4" height="4" stroke="#2bbdbd" stroke-width="1.3" fill="none"/>
<rect x="347.62" y="297.5" width="4" height="4" stroke="#2bbdbd" stroke-width="1.3" fill="none"/>
<rect x="348.9" y="303.96" width="4" height="4" stroke="#2bbdbd" stroke-width="1.3" fill="none"/>
<rect x="350.17" y="312.63" width="4" height="4" stroke="#2bbdbd" stroke-width="1.3" fill="none"/>
<rect x="351.45" y="304.69" width="4" height="4" stroke="#2bbdbd" stroke-width="1.3" fill="none"/>
<rect x="352.72" y="296.55" width="4" height="4" stroke="#2bbdbd" stroke-width="1.3" fill="none"/>
<rect x="354" y="301.31" width="4" height="4" stroke="#2bbdbd" stroke-width="1.3" fill="none"/>
<rect x="355.27" y="303.01" width="4" height="4" stroke="#2bbdbd" stroke-width="1.3" fill="none"/>
<rect x="356.55" y="308.51" width="4" height="4" stroke="#2bbdbd" stroke-width="1.3" fill="none"/>
<rect x="357.82" y="321.27" width="4" height="4" stroke="#2bbdbd" stroke-width="1.3" fill="none"/>
<rect x="359.1" y="314.49" width="4" height="4" stroke="#2bbdbd" stroke-width="1.3" fill="none"/>
<rect x="360.38" y="294.6" width="4" height="4" stroke="#2bbdbd" stroke-width="1.3" fill="none"/>
<rect x="361.65" y="299.55" width="4" height="4" stroke="#2bbdbd" stroke-width="1.3" fill="none"/>
<rect x="362.92" y="302.3" width="4" height="4" stroke="#2bbdbd" stroke-width="1.3" fill="none"/>
<rect x="364.2" y="307.88" width="4" height="4" stroke="#2bbdbd" stroke-width="1.3" fill="none"/>
<rect x="365.47" y="313.49" width="4" height="4" stroke="#2bbdbd" stroke-width="1.3" fill="none"/>
<rect x="366.75" y="304.48" width="4" height="4" stroke="#2bbdbd" stroke-width="1.3" fill="none"/>
<rect x="368.02" y="297.73" width="4" height="4" stroke="#2bbdbd" stroke-width="1.3" fill="none"/>
<rect x="369.3" y="313.71" width="4" height="4" stroke="#2bbdbd" stroke-width="1.3" fill="none"/>
<rect x="370.57" y="301" width="4" height="4" stroke="#2bbdbd" stroke-width="1.3" fill="none"/>
<rect x="371.85" y="295.56" width="4" height="4" stroke="#2bbdbd" stroke-width="1.3" fill="none"/>
<rect x="373.12" y="312.18" width="4" height="4" stroke="#2bbdbd" stroke-width="1.3" fill="none"/>
<rect x="374.4" y="281.79" width="4" height="4" stroke="#2bbdbd" stroke-width="1.3" fill="none"/>
<rect x="375.67" y="293.75" width="4" height="4" stroke="#2bbdbd" stroke-width="1.3" fill="none"/>
<rect x="376.95" y="281.53" width="4" height="4" stroke="#2bbdbd" stroke-width="1.3" fill="none"/>
<rect x="378.22" y="287.93" width="4" height="4" stroke="#2bbdbd" stroke-width="1.3" fill="none"/>
<rect x="379.5" y="288.75" width="4" height="4" stroke="#2bbdbd" stroke-width="1.3" fill="none"/>
<rect x="380.77" y="299.22" width="4" height="4" stroke="#2bbdbd" stroke-width="1.3" fill="none"/>
<rect x="382.05" y="301.1" width="4" height="4" stroke="#2bbdbd" stroke-width="1.3" fill="none"/>
<rect x="383.32" y="318.49" width="4" height="4" stroke="#2bbdbd" stroke-width="1.3" fill="none"/>
<rect x="384.6" y="284.71" width="4" height="4" stroke="#2bbdbd" stroke-width="1.3" fill="none"/>
<rect x="385.88" y="300.42" width="4" height="4" stroke="#2bbdbd" stroke-width="1.3" fill="none"/>
<rect x="387.15" y="293.79" width="4" height="4" stroke="#2bbdbd" stroke-width="1.3" fill="none"/>
<rect x="388.42" y="314.37" width="4" height="4" stroke="#2bbdbd" stroke-width="1.3" fill="none"/>
<rect x="389.7" y="304.07" width="4" height="4" stroke="#2bbdbd" stroke-width="1.3" fill="none"/>
<rect x="390.97" y="301.93" width="4" height="4" stroke="#2bbdbd" stroke-width="1.3" fill="none"/>
<rect x="392.25" y="295.12" width="4" height="4" stroke="#2bbdbd" stroke-width="1.3" fill="none"/>
<rect x="393.52" y="298.47" width="4" height="4" stroke="#2bbdbd" stroke-width="1.3" fill="none"/>
<rect x="394.8" y="302.67" width="4" height="4" stroke="#2bbdbd" stroke-width="1.3" fill="none"/>
<rect x="396.07" y="306.26" width="4" height="4" stroke="#2bbdbd" stroke-width="1.3" fill="none"/>
<rect x="397.35" y="302.54" width="4" height="4" stroke="#2bbdbd" stroke-width="1.3" fill="none"/>
<rect x="398.62" y="299.86" width="4" height="4" stroke="#2bbdbd" stroke-width="1.3" fill="none"/>
<rect x="399.9" y="275.11" width="4" height="4" stroke="#2bbdbd" stroke-width="1.3" fill="none"/>
<rect x="401.17" y="315.8" width="4" height="4" stroke="#2bbdbd" stroke-width="1.3" fill="none"/>
<rect x="402.45" y="306.62" width="4" height="4" stroke="#2bbdbd" stroke-width="1.3" fill="none"/>
<rect x="403.72" y="302.56" width="4" height="4" stroke="#2bbdbd" stroke-width="1.3" fill="none"/>
<rect x="405" y="297.36" width="4" height="4" stroke="#2bbdbd" stroke-width="1.3" fill="none"/>
<rect x="406.27" y="287.34" width="4" height="4" stroke="#2bbdbd" stroke-width="1.3" fill="none"/>
<rect x="407.55" y="313.18" width="4" height="4" stroke="#2bbdbd" stroke-width="1.3" fill="none"/>
<rect x="408.82" y="307.02" width="4" height="4" stroke="#2bbdbd" stroke-width="1.3" fill="none"/>
<rect x="410.1" y="302.04" width="4" height="4" stroke="#2bbdbd" stroke-width="1.3" fill="none"/>
<rect x="411.38" y="298.84" width="4" height="4" stroke="#2bbdbd" stroke-width="1.3" fill="none"/>
<rect x="412.65" y="298.04" width="4" height="4" stroke="#2bbdbd" stroke-width="1.3" fill="none"/>
<rect x="413.92" y="296.99" width="4" height="4" stroke="#2bbdbd" stroke-width="1.3" fill="none"/>
<rect x="415.2" y="298.84" width="4" height="4" stroke="#2bbdbd" stroke-width="1.3" fill="none"/>
<rect x="416.47" y="303.86" width="4" height="4" stroke="#2bbdbd" stroke-width="1.3" fill="none"/>
<rect x="417.75" y="298.21" width="4" height="4" stroke="#2bbdbd" stroke-width="1.3" fill="none"/>
<rect x="419.02" y="302.46" width="4" height="4" stroke="#2bbdbd" stroke-width="1.3" fill="none"/>
<rect x="420.3" y="295.93" width="4" height="4" stroke="#2bbdbd" stroke-width="1.3" fill="none"/>
<rect x="421.57" y="277.85" width="4" height="4" stroke="#2bbdbd" stroke-width="1.3" fill="none"/>
<rect x="422.85" y="297.84" width="4" height="4" stroke="#2bbdbd" stroke-width="1.3" fill="none"/>
<rect x="424.12" y="302.98" width="4" height="4" stroke="#2bbdbd" stroke-width="1.3" fill="none"/>
<rect x="425.4" y="308.44" width="4" height="4" stroke="#2bbdbd" stroke-width="1.3" fill="none"/>
<rect x="426.67" y="298.72" width="4" height="4" stroke="#2bbdbd" stroke-width="1.3" fill="none"/>
<rect x="427.95" y="302.91" width="4" height="4" stroke="#2bbdbd" stroke-width="1.3" fill="none"/>
<rect x="429.22" y="307.42" width="4" height="4" stroke="#2bbdbd" stroke-width="1.3" fill="none"/>
<rect x="430.5" y="312.98" width="4" height="4" stroke="#2bbdbd" stroke-width="1.3" fill="none"/>
<rect x="431.77" y="284.96" width="4" height="4" stroke="#2bbdbd" stroke-width="1.3" fill="none"/>
<rect x="433.05" y="298.23" width="4" height="4" stroke="#2bbdbd" stroke-width="1.3" fill="none"/>
<rect x="434.32" y="300.67" width="4" height="4" stroke="#2bbdbd" stroke-width="1.3" fill="none"/>
<rect x="435.6" y="304.15" width="4" height="4" stroke="#2bbdbd" stroke-width="1.3" fill="none"/>
<rect x="436.88" y="300.37" width="4" height="4" stroke="#2bbdbd" stroke-width="1.3" fill="none"/>
<rect x="438.15" y="297.58" width="4" height="4" stroke="#2bbdbd" stroke-width="1.3" fill="none"/>
<rect x="439.42" y="302.1" width="4" height="4" stroke="#2bbdbd" stroke-width="1.3" fill="none"/>
<rect x="440.7" y="295.32" width="4" height="4" stroke="#2bbdbd" stroke-width="1.3" fill="none"/>
<rect x="441.97" y="313.42" width="4" height="4" stroke="#2bbdbd" stroke-width="1.3" fill="none"/>
<rect x="443.25" y="303.31" width="4" height="4" stroke="#2bbdbd" stroke-width="1.3" fill="none"/>
<rect x="444.52" y="295.73" width="4" height="4" stroke="#2bbdbd" stroke-width="1.3" fill="none"/>
<rect x="445.8" y="302.81" width="4" height="4" stroke="#2bbdbd" stroke-width="1.3" fill="none"/>
<rect x="447.07" y="305.06" width="4" height="4" stroke="#2bbdbd" stroke-width="1.3" fill="none"/>
<rect x="448.35" y="308.89" width="4" height="4" stroke="#2bbdbd" stroke-width="1.3" fill="none"/>
<rect x="449.62" y="319.35" width="4" height="4" stroke="#2bbdbd" stroke-width="1.3" fill="none"/>
<rect x="450.9" y="287.37" width="4" height="4" stroke="#2bbdbd" stroke-width="1.3" fill="none"/>
<rect x="452.17" y="297.68" width="4" height="4" stroke="#2bbdbd" stroke-width="1.3" fill="none"/>
<rect x="453.45" y="272.77" width="4" height="4" stroke="#2bbdbd" stroke-width="1.3" fill="none"/>
<rect x="454.72" y="293.55" width="4" height="4" stroke="#2bbdbd" stroke-width="1.3" fill="none"/>
<rect x="456" y="251.27" width="4" height="4" stroke="#2bbdbd" stroke-width="1.3" fill="none"/>
<rect x="457.27" y="247.69" width="4" height="4" stroke="#2bbdbd" stroke-width="1.3" fill="none"/>
<rect x="458.55" y="251.94" width="4" height="4" stroke="#2bbdbd" stroke-width="1.3" fill="none"/>
<rect x="459.82" y="346.5" width="4" height="4" stroke="#2bbdbd" stroke-width="1.3" fill="none"/>
<rect x="461.1" y="261.19" width="4" height="4" stroke="#2bbdbd" stroke-width="1.3" fill="none"/>
<rect x="462.38" y="298.57" width="4" height="4" stroke="#2bbdbd" stroke-width="1.3" fill="none"/>
<rect x="463.65" y="308.52" width="4" height="4" stroke="#2bbdbd" stroke-width="1.3" fill="none"/>
<rect x="464.92" y="322.39" width="4" height="4" stroke="#2bbdbd" stroke-width="1.3" fill="none"/>
<rect x="466.2" y="327.56" width="4" height="4" stroke="#2bbdbd" stroke-width="1.3" fill="none"/>
<rect x="467.47" y="290.24" width="4" height="4" stroke="#2bbdbd" stroke-width="1.3" fill="none"/>
<rect x="468.75" y="299.49" width="4" height="4" stroke="#2bbdbd" stroke-width="1.3" fill="none"/>
<rect x="470.02" y="311.21" width="4" height="4" stroke="#2bbdbd" stroke-width="1.3" fill="none"/>
<rect x="471.3" y="321.27" width="4" height="4" stroke="#2bbdbd" stroke-width="1.3" fill="none"/>
<rect x="472.57" y="293.66" width="4" height="4" stroke="#2bbdbd" stroke-width="1.3" fill="none"/>
<rect x="473.85" y="300.84" width="4" height="4" stroke="#2bbdbd" stroke-width="1.3" fill="none"/>
<rect x="475.12" y="307.09" width="4" height="4" stroke="#2bbdbd" stroke-width="1.3" fill="none"/>
<rect x="476.4" y="286.06" width="4" height="4" stroke="#2bbdbd" stroke-width="1.3" fill="none"/>
<rect x="477.67" y="299.34" width="4" height="4" stroke="#2bbdbd" stroke-width="1.3" fill="none"/>
<rect x="478.95" y="320" width="4" height="4" stroke="#2bbdbd" stroke-width="1.3" fill="none"/>
<rect x="480.22" y="300.97" width="4" height="4" stroke="#2bbdbd" stroke-width="1.3" fill="none"/>
<rect x="481.5" y="297.03" width="4" height="4" stroke="#2bbdbd" stroke-width="1.3" fill="none"/>
<rect x="482.77" y="304.06" width="4" height="4" stroke="#2bbdbd" stroke-width="1.3" fill="none"/>
<rect x="484.05" y="308.48" width="4" height="4" stroke="#2bbdbd" stroke-width="1.3" fill="none"/>
<rect x="485.32" y="303.42" width="4" height="4" stroke="#2bbdbd" stroke-width="1.3" fill="none"/>
<rect x="486.6" y="299.75" width="4" height="4" stroke="#2bbdbd" stroke-width="1.3" fill="none"/>
<rect x="487.88" y="310.23" width="4" height="4" stroke="#2bbdbd" stroke-width="1.3" fill="none"/>
<rect x="489.15" y="348.17" width="4" height="4" stroke="#2bbdbd" stroke-width="1.3" fill="none"/>
<rect x="490.42" y="308.25" width="4" height="4" stroke="#2bbdbd" stroke-width="1.3" fill="none"/>
<rect x="491.7" y="302.26" width="4" height="4" stroke="#2bbdbd" stroke-width="1.3" fill="none"/>
<rect x="492.97" y="300.53" width="4" height="4" stroke="#2bbdbd" stroke-width="1.3" fill="none"/>
<rect x="494.25" y="304.64" width="4" height="4" stroke="#2bbdbd" stroke-width="1.3" fill="none"/>
<rect x="495.52" y="296.93" width="4" height="4" stroke="#2bbdbd" stroke-width="1.3" fill="none"/>
<rect x="496.8" y="300.92" width="4" height="4" stroke="#2bbdbd" stroke-width="1.3" fill="none"/>
<rect x="498.07" y="308.19" width="4" height="4" stroke="#2bbdbd" stroke-width="1.3" fill="none"/>
<rect x="499.35" y="320.03" width="4" height="4" stroke="#2bbdbd" stroke-width="1.3" fill="none"/>
<rect x="500.62" y="309.43" width="4" height="4" stroke="#2bbdbd" stroke-width="1.3" fill="none"/>
<rect x="501.9" y="290.73" width="4" height="4" stroke="#2bbdbd" stroke-width="1.3" fill="none"/>
<rect x="503.17" y="276.4" width="4" height="4" stroke="#2bbdbd" stroke-width="1.3" fill="none"/>
<rect x="504.45" y="288.35" width="4" height="4" stroke="#2bbdbd" stroke-width="1.3" fill="none"/>
<rect x="505.72" y="297.92" width="4" height="4" stroke="#2bbdbd" stroke-width="1.3" fill="none"/>
<rect x="507" y="291.94" width="4" height="4" stroke="#2bbdbd" stroke-width="1.3" fill="none"/>
<rect x="508.27" y="301.85" width="4" height="4" stroke="#2bbdbd" stroke-width="1.3" fill="none"/>
<rect x="509.55" y="296.54" width="4" height="4" stroke="#2bbdbd" stroke-width="1.3" fill="none"/>
<rect x="510.82" y="305.59" width="4" height="4" stroke="#2bbdbd" stroke-width="1.3" fill="none"/>
<rect x="512.1" y="292.92" width="4" height="4" stroke="#2bbdbd" stroke-width="1.3" fill="none"/>
<rect x="513.38" y="281.74" width="4" height="4" stroke="#2bbdbd" stroke-width="1.3" fill="none"/>
<rect x="514.65" y="297.43" width="4" height="4" stroke="#2bbdbd" stroke-width="1.3" fill="none"/>
<rect x="515.92" y="329.33" width="4" height="4" stroke="#2bbdbd" stroke-width="1.3" fill="none"/>
<rect x="517.2" y="313.74" width="4" height="4" stroke="#2bbdbd" stroke-width="1.3" fill="none"/>
<rect x="518.47" y="302.79" width="4" height="4" stroke="#2bbdbd" stroke-width="1.3" fill="none"/>
<rect x="519.75" y="298.57" width="4" height="4" stroke="#2bbdbd" stroke-width="1.3" fill="none"/>
<rect x="521.02" y="302.21" width="4" height="4" stroke="#2bbdbd" stroke-width="1.3" fill="none"/>
<rect x="522.3" y="297.31" width="4" height="4" stroke="#2bbdbd" stroke-width="1.3" fill="none"/>
<rect x="523.57" y="311.6" width="4" height="4" stroke="#2bbdbd" stroke-width="1.3" fill="none"/>
<rect x="524.85" y="301.81" width="4" height="4" stroke="#2bbdbd" stroke-width="1.3" fill="none"/>
<rect x="526.12" y="299.39" width="4" height="4" stroke="#2bbdbd" stroke-width="1.3" fill="none"/>
<rect x="527.4" y="302.73" width="4" height="4" stroke="#2bbdbd" stroke-width="1.3" fill="none"/>
<rect x="528.67" y="300.5" width="4" height="4" stroke="#2bbdbd" stroke-width="1.3" fill="none"/>
<rect x="529.95" y="304.23" width="4" height="4" stroke="#2bbdbd" stroke-width="1.3" fill="none"/>
<rect x="531.22" y="302.18" width="4" height="4" stroke="#2bbdbd" stroke-width="1.3" fill="none"/>
<rect x="532.5" y="300.4" width="4" height="4" stroke="#2bbdbd" stroke-width="1.3" fill="none"/>
<rect x="533.77" y="301.61" width="4" height="4" stroke="#2bbdbd" stroke-width="1.3" fill="none"/>
<rect x="535.05" y="303.12" width="4" height="4" stroke="#2bbdbd" stroke-width="1.3" fill="none"/>
<rect x="536.32" y="305.68" width="4" height="4" stroke="#2bbdbd" stroke-width="1.3" fill="none"/>
<rect x="537.6" y="303.89" width="4" height="4" stroke="#2bbdbd" stroke-width="1.3" fill="none"/>
<rect x="538.88" y="304.35" width="4" height="4" stroke="#2bbdbd" stroke-width="1.3" fill="none"/>
<rect x="540.15" y="304.26" width="4" height="4" stroke="#2bbdbd" stroke-width="1.3" fill="none"/>
<rect x="541.42" y="305.22" width="4" height="4" stroke="#2bbdbd" stroke-width="1.3" fill="none"/>
<rect x="542.7" y="304.75" width="4" height="4" stroke="#2bbdbd" stroke-width="1.3" fill="none"/>
<rect x="543.97" y="313.57" width="4" height="4" stroke="#2bbdbd" stroke-width="1.3" fill="none"/>
<polyline points="326.67,309.56 327.95,310.11 329.22,315.54 330.5,312.55 331.77,310.5 333.05,297.31 334.32,301.91 335.6,307.78 336.88,305.29 338.15,303.63 339.42,306.4 340.7,309.17 341.97,311.39 343.25,308.06 344.52,321.91 345.8,296.98 347.07,305.29 348.35,303.63 349.62,300.31 350.9,304.74 352.17,314.16 353.45,307.51 354.72,298.64 356,303.63 357.27,305.29 358.55,310.83 359.82,323.57 361.1,317.48 362.38,297.54 363.65,301.97 364.92,304.74 366.2,309.17 367.47,315.82 368.75,305.29 370.02,299.2 371.3,314.71 372.57,303.63 373.85,295.87 375.12,314.16 376.4,284.79 377.67,295.32 378.95,282.02 380.22,288.12 381.5,292.55 382.77,300.86 384.05,301.97 385.32,322.47 386.6,285.35 387.88,303.63 389.15,295.87 390.42,316.37 391.7,306.4 392.97,303.63 394.25,298.64 395.52,301.97 396.8,304.74 398.07,309.17 399.35,303.08 400.62,300.86 401.9,278.15 403.17,318.59 404.45,309.17 405.72,304.74 407,300.86 408.27,290.33 409.55,315.82 410.82,308.06 412.1,303.63 413.38,301.97 414.65,299.75 415.92,297.54 417.2,301.97 418.47,305.29 419.75,300.86 421.02,303.63 422.3,298.09 423.57,279.81 424.85,300.86 426.12,304.74 427.4,309.17 428.67,301.97 429.95,304.18 431.22,308.06 432.5,314.16 433.77,288.67 435.05,300.86 436.32,303.63 437.6,306.4 438.88,301.97 440.15,299.75 441.42,303.63 442.7,296.43 443.97,314.16 445.25,305.29 446.52,297.54 447.8,303.63 449.07,308.06 450.35,310.83 451.62,323.02 452.9,287.56 454.17,298.09 455.45,277.04 456.72,295.32 458,251 459.27,251 460.55,251 461.82,335.21 463.1,275.93 464.38,300.86 465.65,309.17 466.92,324.68 468.2,331.88 469.47,292.55 470.75,300.86 472.02,311.94 473.3,323.02 474.57,296.43 475.85,303.63 477.12,309.17 478.4,287.56 479.67,300.86 480.95,321.36 482.22,303.63 483.5,299.75 484.77,304.74 486.05,309.17 487.32,306.4 488.6,301.97 489.88,311.94 491.15,337.98 492.42,309.17 493.7,304.74 494.97,301.97 496.25,308.06 497.52,297.54 498.8,303.63 500.07,310.83 501.35,321.36 502.62,311.94 503.9,292.55 505.17,279.81 506.45,289.78 507.72,300.86 509,294.21 510.27,303.63 511.55,298.09 512.82,308.06 514.1,295.32 515.38,282.58 516.65,300.86 517.92,335.21 519.2,317.48 520.47,303.63 521.75,301.97 523.02,304.74 524.3,299.2 525.57,314.16 526.85,303.63 528.12,301.97 529.4,304.74 530.67,303.08 531.95,305.29 533.22,303.63 534.5,300.86 535.77,304.18 537.05,305.29 538.32,306.4 539.6,304.74 540.88,307.51 542.15,306.4 543.42,308.06 544.7,308.06 545.97,315.82" fill="none" stroke="#174a17" stroke-width="1.7" stroke-linejoin="round"/>
<rect x="324.67" y="307.56" width="4" height="4" stroke="#174a17" stroke-width="1.7" fill="none"/>
<rect x="325.95" y="308.11" width="4" height="4" stroke="#174a17" stroke-width="1.7" fill="none"/>
<rect x="327.22" y="313.54" width="4" height="4" stroke="#174a17" stroke-width="1.7" fill="none"/>
<rect x="328.5" y="310.55" width="4" height="4" stroke="#174a17" stroke-width="1.7" fill="none"/>
<rect x="329.77" y="308.5" width="4" height="4" stroke="#174a17" stroke-width="1.7" fill="none"/>
<rect x="331.05" y="295.31" width="4" height="4" stroke="#174a17" stroke-width="1.7" fill="none"/>
<rect x="332.32" y="299.91" width="4" height="4" stroke="#174a17" stroke-width="1.7" fill="none"/>
<rect x="333.6" y="305.78" width="4" height="4" stroke="#174a17" stroke-width="1.7" fill="none"/>
<rect x="334.88" y="303.29" width="4" height="4" stroke="#174a17" stroke-width="1.7" fill="none"/>
<rect x="336.15" y="301.63" width="4" height="4" stroke="#174a17" stroke-width="1.7" fill="none"/>
<rect x="337.42" y="304.4" width="4" height="4" stroke="#174a17" stroke-width="1.7" fill="none"/>
<rect x="338.7" y="307.17" width="4" height="4" stroke="#174a17" stroke-width="1.7" fill="none"/>
<rect x="339.97" y="309.39" width="4" height="4" stroke="#174a17" stroke-width="1.7" fill="none"/>
<rect x="341.25" y="306.06" width="4" height="4" stroke="#174a17" stroke-width="1.7" fill="none"/>
<rect x="342.52" y="319.91" width="4" height="4" stroke="#174a17" stroke-width="1.7" fill="none"/>
<rect x="343.8" y="294.98" width="4" height="4" stroke="#174a17" stroke-width="1.7" fill="none"/>
<rect x="345.07" y="303.29" width="4" height="4" stroke="#174a17" stroke-width="1.7" fill="none"/>
<rect x="346.35" y="301.63" width="4" height="4" stroke="#174a17" stroke-width="1.7" fill="none"/>
<rect x="347.62" y="298.31" width="4" height="4" stroke="#174a17" stroke-width="1.7" fill="none"/>
<rect x="348.9" y="302.74" width="4" height="4" stroke="#174a17" stroke-width="1.7" fill="none"/>
<rect x="350.17" y="312.16" width="4" height="4" stroke="#174a17" stroke-width="1.7" fill="none"/>
<rect x="351.45" y="305.51" width="4" height="4" stroke="#174a17" stroke-width="1.7" fill="none"/>
<rect x="352.72" y="296.64" width="4" height="4" stroke="#174a17" stroke-width="1.7" fill="none"/>
<rect x="354" y="301.63" width="4" height="4" stroke="#174a17" stroke-width="1.7" fill="none"/>
<rect x="355.27" y="303.29" width="4" height="4" stroke="#174a17" stroke-width="1.7" fill="none"/>
<rect x="356.55" y="308.83" width="4" height="4" stroke="#174a17" stroke-width="1.7" fill="none"/>
<rect x="357.82" y="321.57" width="4" height="4" stroke="#174a17" stroke-width="1.7" fill="none"/>
<rect x="359.1" y="315.48" width="4" height="4" stroke="#174a17" stroke-width="1.7" fill="none"/>
<rect x="360.38" y="295.54" width="4" height="4" stroke="#174a17" stroke-width="1.7" fill="none"/>
<rect x="361.65" y="299.97" width="4" height="4" stroke="#174a17" stroke-width="1.7" fill="none"/>
<rect x="362.92" y="302.74" width="4" height="4" stroke="#174a17" stroke-width="1.7" fill="none"/>
<rect x="364.2" y="307.17" width="4" height="4" stroke="#174a17" stroke-width="1.7" fill="none"/>
<rect x="365.47" y="313.82" width="4" height="4" stroke="#174a17" stroke-width="1.7" fill="none"/>
<rect x="366.75" y="303.29" width="4" height="4" stroke="#174a17" stroke-width="1.7" fill="none"/>
<rect x="368.02" y="297.2" width="4" height="4" stroke="#174a17" stroke-width="1.7" fill="none"/>
<rect x="369.3" y="312.71" width="4" height="4" stroke="#174a17" stroke-width="1.7" fill="none"/>
<rect x="370.57" y="301.63" width="4" height="4" stroke="#174a17" stroke-width="1.7" fill="none"/>
<rect x="371.85" y="293.87" width="4" height="4" stroke="#174a17" stroke-width="1.7" fill="none"/>
<rect x="373.12" y="312.16" width="4" height="4" stroke="#174a17" stroke-width="1.7" fill="none"/>
<rect x="374.4" y="282.79" width="4" height="4" stroke="#174a17" stroke-width="1.7" fill="none"/>
<rect x="375.67" y="293.32" width="4" height="4" stroke="#174a17" stroke-width="1.7" fill="none"/>
<rect x="376.95" y="280.02" width="4" height="4" stroke="#174a17" stroke-width="1.7" fill="none"/>
<rect x="378.22" y="286.12" width="4" height="4" stroke="#174a17" stroke-width="1.7" fill="none"/>
<rect x="379.5" y="290.55" width="4" height="4" stroke="#174a17" stroke-width="1.7" fill="none"/>
<rect x="380.77" y="298.86" width="4" height="4" stroke="#174a17" stroke-width="1.7" fill="none"/>
<rect x="382.05" y="299.97" width="4" height="4" stroke="#174a17" stroke-width="1.7" fill="none"/>
<rect x="383.32" y="320.47" width="4" height="4" stroke="#174a17" stroke-width="1.7" fill="none"/>
<rect x="384.6" y="283.35" width="4" height="4" stroke="#174a17" stroke-width="1.7" fill="none"/>
<rect x="385.88" y="301.63" width="4" height="4" stroke="#174a17" stroke-width="1.7" fill="none"/>
<rect x="387.15" y="293.87" width="4" height="4" stroke="#174a17" stroke-width="1.7" fill="none"/>
<rect x="388.42" y="314.37" width="4" height="4" stroke="#174a17" stroke-width="1.7" fill="none"/>
<rect x="389.7" y="304.4" width="4" height="4" stroke="#174a17" stroke-width="1.7" fill="none"/>
<rect x="390.97" y="301.63" width="4" height="4" stroke="#174a17" stroke-width="1.7" fill="none"/>
<rect x="392.25" y="296.64" width="4" height="4" stroke="#174a17" stroke-width="1.7" fill="none"/>
<rect x="393.52" y="299.97" width="4" height="4" stroke="#174a17" stroke-width="1.7" fill="none"/>
<rect x="394.8" y="302.74" width="4" height="4" stroke="#174a17" stroke-width="1.7" fill="none"/>
<rect x="396.07" y="307.17" width="4" height="4" stroke="#174a17" stroke-width="1.7" fill="none"/>
<rect x="397.35" y="301.08" width="4" height="4" stroke="#174a17" stroke-width="1.7" fill="none"/>
<rect x="398.62" y="298.86" width="4" height="4" stroke="#174a17" stroke-width="1.7" fill="none"/>
<rect x="399.9" y="276.15" width="4" height="4" stroke="#174a17" stroke-width="1.7" fill="none"/>
<rect x="401.17" y="316.59" width="4" height="4" stroke="#174a17" stroke-width="1.7" fill="none"/>
<rect x="402.45" y="307.17" width="4" height="4" stroke="#174a17" stroke-width="1.7" fill="none"/>
<rect x="403.72" y="302.74" width="4" height="4" stroke="#174a17" stroke-width="1.7" fill="none"/>
<rect x="405" y="298.86" width="4" height="4" stroke="#174a17" stroke-width="1.7" fill="none"/>
<rect x="406.27" y="288.33" width="4" height="4" stroke="#174a17" stroke-width="1.7" fill="none"/>
<rect x="407.55" y="313.82" width="4" height="4" stroke="#174a17" stroke-width="1.7" fill="none"/>
<rect x="408.82" y="306.06" width="4" height="4" stroke="#174a17" stroke-width="1.7" fill="none"/>
<rect x="410.1" y="301.63" width="4" height="4" stroke="#174a17" stroke-width="1.7" fill="none"/>
<rect x="411.38" y="299.97" width="4" height="4" stroke="#174a17" stroke-width="1.7" fill="none"/>
<rect x="412.65" y="297.75" width="4" height="4" stroke="#174a17" stroke-width="1.7" fill="none"/>
<rect x="413.92" y="295.54" width="4" height="4" stroke="#174a17" stroke-width="1.7" fill="none"/>
<rect x="415.2" y="299.97" width="4" height="4" stroke="#174a17" stroke-width="1.7" fill="none"/>
<rect x="416.47" y="303.29" width="4" height="4" stroke="#174a17" stroke-width="1.7" fill="none"/>
<rect x="417.75" y="298.86" width="4" height="4" stroke="#174a17" stroke-width="1.7" fill="none"/>
<rect x="419.02" y="301.63" width="4" height="4" stroke="#174a17" stroke-width="1.7" fill="none"/>
<rect x="420.3" y="296.09" width="4" height="4" stroke="#174a17" stroke-width="1.7" fill="none"/>
<rect x="421.57" y="277.81" width="4" height="4" stroke="#174a17" stroke-width="1.7" fill="none"/>
<rect x="422.85" y="298.86" width="4" height="4" stroke="#174a17" stroke-width="1.7" fill="none"/>
<rect x="424.12" y="302.74" width="4" height="4" stroke="#174a17" stroke-width="1.7" fill="none"/>
<rect x="425.4" y="307.17" width="4" height="4" stroke="#174a17" stroke-width="1.7" fill="none"/>
<rect x="426.67" y="299.97" width="4" height="4" stroke="#174a17" stroke-width="1.7" fill="none"/>
<rect x="427.95" y="302.18" width="4" height="4" stroke="#174a17" stroke-width="1.7" fill="none"/>
<rect x="429.22" y="306.06" width="4" height="4" stroke="#174a17" stroke-width="1.7" fill="none"/>
<rect x="430.5" y="312.16" width="4" height="4" stroke="#174a17" stroke-width="1.7" fill="none"/>
<rect x="431.77" y="286.67" width="4" height="4" stroke="#174a17" stroke-width="1.7" fill="none"/>
<rect x="433.05" y="298.86" width="4" height="4" stroke="#174a17" stroke-width="1.7" fill="none"/>
<rect x="434.32" y="301.63" width="4" height="4" stroke="#174a17" stroke-width="1.7" fill="none"/>
<rect x="435.6" y="304.4" width="4" height="4" stroke="#174a17" stroke-width="1.7" fill="none"/>
<rect x="436.88" y="299.97" width="4" height="4" stroke="#174a17" stroke-width="1.7" fill="none"/>
<rect x="438.15" y="297.75" width="4" height="4" stroke="#174a17" stroke-width="1.7" fill="none"/>
<rect x="439.42" y="301.63" width="4" height="4" stroke="#174a17" stroke-width="1.7" fill="none"/>
<rect x="440.7" y="294.43" width="4" height="4" stroke="#174a17" stroke-width="1.7" fill="none"/>
<rect x="441.97" y="312.16" width="4" height="4" stroke="#174a17" stroke-width="1.7" fill="none"/>
<rect x="443.25" y="303.29" width="4" height="4" stroke="#174a17" stroke-width="1.7" fill="none"/>
<rect x="444.52" y="295.54" width="4" height="4" stroke="#174a17" stroke-width="1.7" fill="none"/>
<rect x="445.8" y="301.63" width="4" height="4" stroke="#174a17" stroke-width="1.7" fill="none"/>
<rect x="447.07" y="306.06" width="4" height="4" stroke="#174a17" stroke-width="1.7" fill="none"/>
<rect x="448.35" y="308.83" width="4" height="4" stroke="#174a17" stroke-width="1.7" fill="none"/>
<rect x="449.62" y="321.02" width="4" height="4" stroke="#174a17" stroke-width="1.7" fill="none"/>
<rect x="450.9" y="285.56" width="4" height="4" stroke="#174a17" stroke-width="1.7" fill="none"/>
<rect x="452.17" y="296.09" width="4" height="4" stroke="#174a17" stroke-width="1.7" fill="none"/>
<rect x="453.45" y="275.04" width="4" height="4" stroke="#174a17" stroke-width="1.7" fill="none"/>
<rect x="454.72" y="293.32" width="4" height="4" stroke="#174a17" stroke-width="1.7" fill="none"/>
<rect x="456" y="249" width="4" height="4" stroke="#174a17" stroke-width="1.7" fill="none"/>
<rect x="457.27" y="249" width="4" height="4" stroke="#174a17" stroke-width="1.7" fill="none"/>
<rect x="458.55" y="249" width="4" height="4" stroke="#174a17" stroke-width="1.7" fill="none"/>
<rect x="459.82" y="333.21" width="4" height="4" stroke="#174a17" stroke-width="1.7" fill="none"/>
<rect x="461.1" y="273.93" width="4" height="4" stroke="#174a17" stroke-width="1.7" fill="none"/>
<rect x="462.38" y="298.86" width="4" height="4" stroke="#174a17" stroke-width="1.7" fill="none"/>
<rect x="463.65" y="307.17" width="4" height="4" stroke="#174a17" stroke-width="1.7" fill="none"/>
<rect x="464.92" y="322.68" width="4" height="4" stroke="#174a17" stroke-width="1.7" fill="none"/>
<rect x="466.2" y="329.88" width="4" height="4" stroke="#174a17" stroke-width="1.7" fill="none"/>
<rect x="467.47" y="290.55" width="4" height="4" stroke="#174a17" stroke-width="1.7" fill="none"/>
<rect x="468.75" y="298.86" width="4" height="4" stroke="#174a17" stroke-width="1.7" fill="none"/>
<rect x="470.02" y="309.94" width="4" height="4" stroke="#174a17" stroke-width="1.7" fill="none"/>
<rect x="471.3" y="321.02" width="4" height="4" stroke="#174a17" stroke-width="1.7" fill="none"/>
<rect x="472.57" y="294.43" width="4" height="4" stroke="#174a17" stroke-width="1.7" fill="none"/>
<rect x="473.85" y="301.63" width="4" height="4" stroke="#174a17" stroke-width="1.7" fill="none"/>
<rect x="475.12" y="307.17" width="4" height="4" stroke="#174a17" stroke-width="1.7" fill="none"/>
<rect x="476.4" y="285.56" width="4" height="4" stroke="#174a17" stroke-width="1.7" fill="none"/>
<rect x="477.67" y="298.86" width="4" height="4" stroke="#174a17" stroke-width="1.7" fill="none"/>
<rect x="478.95" y="319.36" width="4" height="4" stroke="#174a17" stroke-width="1.7" fill="none"/>
<rect x="480.22" y="301.63" width="4" height="4" stroke="#174a17" stroke-width="1.7" fill="none"/>
<rect x="481.5" y="297.75" width="4" height="4" stroke="#174a17" stroke-width="1.7" fill="none"/>
<rect x="482.77" y="302.74" width="4" height="4" stroke="#174a17" stroke-width="1.7" fill="none"/>
<rect x="484.05" y="307.17" width="4" height="4" stroke="#174a17" stroke-width="1.7" fill="none"/>
<rect x="485.32" y="304.4" width="4" height="4" stroke="#174a17" stroke-width="1.7" fill="none"/>
<rect x="486.6" y="299.97" width="4" height="4" stroke="#174a17" stroke-width="1.7" fill="none"/>
<rect x="487.88" y="309.94" width="4" height="4" stroke="#174a17" stroke-width="1.7" fill="none"/>
<rect x="489.15" y="335.98" width="4" height="4" stroke="#174a17" stroke-width="1.7" fill="none"/>
<rect x="490.42" y="307.17" width="4" height="4" stroke="#174a17" stroke-width="1.7" fill="none"/>
<rect x="491.7" y="302.74" width="4" height="4" stroke="#174a17" stroke-width="1.7" fill="none"/>
<rect x="492.97" y="299.97" width="4" height="4" stroke="#174a17" stroke-width="1.7" fill="none"/>
<rect x="494.25" y="306.06" width="4" height="4" stroke="#174a17" stroke-width="1.7" fill="none"/>
<rect x="495.52" y="295.54" width="4" height="4" stroke="#174a17" stroke-width="1.7" fill="none"/>
<rect x="496.8" y="301.63" width="4" height="4" stroke="#174a17" stroke-width="1.7" fill="none"/>
<rect x="498.07" y="308.83" width="4" height="4" stroke="#174a17" stroke-width="1.7" fill="none"/>
<rect x="499.35" y="319.36" width="4" height="4" stroke="#174a17" stroke-width="1.7" fill="none"/>
<rect x="500.62" y="309.94" width="4" height="4" stroke="#174a17" stroke-width="1.7" fill="none"/>
<rect x="501.9" y="290.55" width="4" height="4" stroke="#174a17" stroke-width="1.7" fill="none"/>
<rect x="503.17" y="277.81" width="4" height="4" stroke="#174a17" stroke-width="1.7" fill="none"/>
<rect x="504.45" y="287.78" width="4" height="4" stroke="#174a17" stroke-width="1.7" fill="none"/>
<rect x="505.72" y="298.86" width="4" height="4" stroke="#174a17" stroke-width="1.7" fill="none"/>
<rect x="507" y="292.21" width="4" height="4" stroke="#174a17" stroke-width="1.7" fill="none"/>
<rect x="508.27" y="301.63" width="4" height="4" stroke="#174a17" stroke-width="1.7" fill="none"/>
<rect x="509.55" y="296.09" width="4" height="4" stroke="#174a17" stroke-width="1.7" fill="none"/>
<rect x="510.82" y="306.06" width="4" height="4" stroke="#174a17" stroke-width="1.7" fill="none"/>
<rect x="512.1" y="293.32" width="4" height="4" stroke="#174a17" stroke-width="1.7" fill="none"/>
<rect x="513.38" y="280.58" width="4" height="4" stroke="#174a17" stroke-width="1.7" fill="none"/>
<rect x="514.65" y="298.86" width="4" height="4" stroke="#174a17" stroke-width="1.7" fill="none"/>
<rect x="515.92" y="333.21" width="4" height="4" stroke="#174a17" stroke-width="1.7" fill="none"/>
<rect x="517.2" y="315.48" width="4" height="4" stroke="#174a17" stroke-width="1.7" fill="none"/>
<rect x="518.47" y="301.63" width="4" height="4" stroke="#174a17" stroke-width="1.7" fill="none"/>
<rect x="519.75" y="299.97" width="4" height="4" stroke="#174a17" stroke-width="1.7" fill="none"/>
<rect x="521.02" y="302.74" width="4" height="4" stroke="#174a17" stroke-width="1.7" fill="none"/>
<rect x="522.3" y="297.2" width="4" height="4" stroke="#174a17" stroke-width="1.7" fill="none"/>
<rect x="523.57" y="312.16" width="4" height="4" stroke="#174a17" stroke-width="1.7" fill="none"/>
<rect x="524.85" y="301.63" width="4" height="4" stroke="#174a17" stroke-width="1.7" fill="none"/>
<rect x="526.12" y="299.97" width="4" height="4" stroke="#174a17" stroke-width="1.7" fill="none"/>
<rect x="527.4" y="302.74" width="4" height="4" stroke="#174a17" stroke-width="1.7" fill="none"/>
<rect x="528.67" y="301.08" width="4" height="4" stroke="#174a17" stroke-width="1.7" fill="none"/>
<rect x="529.95" y="303.29" width="4" height="4" stroke="#174a17" stroke-width="1.7" fill="none"/>
<rect x="531.22" y="301.63" width="4" height="4" stroke="#174a17" stroke-width="1.7" fill="none"/>
<rect x="532.5" y="298.86" width="4" height="4" stroke="#174a17" stroke-width="1.7" fill="none"/>
<rect x="533.77" y="302.18" width="4" height="4" stroke="#174a17" stroke-width="1.7" fill="none"/>
<rect x="535.05" y="303.29" width="4" height="4" stroke="#174a17" stroke-width="1.7" fill="none"/>
<rect x="536.32" y="304.4" width="4" height="4" stroke="#174a17" stroke-width="1.7" fill="none"/>
<rect x="537.6" y="302.74" width="4" height="4" stroke="#174a17" stroke-width="1.7" fill="none"/>
<rect x="538.88" y="305.51" width="4" height="4" stroke="#174a17" stroke-width="1.7" fill="none"/>
<rect x="540.15" y="304.4" width="4" height="4" stroke="#174a17" stroke-width="1.7" fill="none"/>
<rect x="541.42" y="306.06" width="4" height="4" stroke="#174a17" stroke-width="1.7" fill="none"/>
<rect x="542.7" y="306.06" width="4" height="4" stroke="#174a17" stroke-width="1.7" fill="none"/>
<rect x="543.97" y="313.82" width="4" height="4" stroke="#174a17" stroke-width="1.7" fill="none"/>
<rect x="325.9" y="298.8" width="9.7" height="31.8" stroke="#000" stroke-width="1.5" fill="none"/>
<line x1="332.5" y1="298.3" x2="349.9" y2="254.5" stroke="#000" stroke-width="1.7"/>
<rect x="360.4" y="238.5" width="44.6" height="32" stroke="#000" stroke-width="1.45" fill="#fff"/>
<clipPath id="cd1"><rect x="360.4" y="238.5" width="44.6" height="32"/></clipPath>
<line x1="360.4" y1="242.65" x2="405" y2="242.65" stroke="#cfcfcf" stroke-width="0.9"/>
<line x1="360.4" y1="254.5" x2="405" y2="254.5" stroke="#cfcfcf" stroke-width="0.9"/>
<line x1="360.4" y1="266.35" x2="405" y2="266.35" stroke="#cfcfcf" stroke-width="0.9"/>
<g clip-path="url(#cd1)">
<polyline points="361,257.22 366.95,258.27 372.9,264.61 378.85,261.65 384.8,259.02 390.75,244.15 396.7,249.15 402.65,255.28 408.6,253.65" fill="none" stroke="#ff1a1a" stroke-width="1.6" stroke-linejoin="round" stroke-dasharray="1.52 1.68"/>
<path d="M359.64 255.86L362.36 258.58M359.64 258.58L362.36 255.86" stroke="#ff1a1a" stroke-width="1.43" fill="none"/>
<path d="M365.59 256.91L368.31 259.63M365.59 259.63L368.31 256.91" stroke="#ff1a1a" stroke-width="1.43" fill="none"/>
<path d="M371.54 263.25L374.26 265.97M371.54 265.97L374.26 263.25" stroke="#ff1a1a" stroke-width="1.43" fill="none"/>
<path d="M377.49 260.29L380.21 263.01M377.49 263.01L380.21 260.29" stroke="#ff1a1a" stroke-width="1.43" fill="none"/>
<path d="M383.44 257.66L386.16 260.38M383.44 260.38L386.16 257.66" stroke="#ff1a1a" stroke-width="1.43" fill="none"/>
<path d="M389.39 242.79L392.11 245.51M389.39 245.51L392.11 242.79" stroke="#ff1a1a" stroke-width="1.43" fill="none"/>
<path d="M395.34 247.79L398.06 250.51M395.34 250.51L398.06 247.79" stroke="#ff1a1a" stroke-width="1.43" fill="none"/>
<path d="M401.29 253.92L404.01 256.64M401.29 256.64L404.01 253.92" stroke="#ff1a1a" stroke-width="1.43" fill="none"/>
<path d="M407.24 252.29L409.96 255.01M407.24 255.01L409.96 252.29" stroke="#ff1a1a" stroke-width="1.43" fill="none"/>
<polyline points="361,258.38 366.95,259 372.9,263.87 378.85,260.27 384.8,259.88 390.75,244.41 396.7,249.28 402.65,256.47 408.6,252.47" fill="none" stroke="#1a1aff" stroke-width="1.6" stroke-linejoin="round" stroke-dasharray="1.52 1.68"/>
<path d="M359.64 257.02L362.36 259.74M359.64 259.74L362.36 257.02" stroke="#1a1aff" stroke-width="1.43" fill="none"/>
<path d="M365.59 257.64L368.31 260.36M365.59 260.36L368.31 257.64" stroke="#1a1aff" stroke-width="1.43" fill="none"/>
<path d="M371.54 262.51L374.26 265.23M371.54 265.23L374.26 262.51" stroke="#1a1aff" stroke-width="1.43" fill="none"/>
<path d="M377.49 258.91L380.21 261.63M377.49 261.63L380.21 258.91" stroke="#1a1aff" stroke-width="1.43" fill="none"/>
<path d="M383.44 258.52L386.16 261.24M383.44 261.24L386.16 258.52" stroke="#1a1aff" stroke-width="1.43" fill="none"/>
<path d="M389.39 243.05L392.11 245.77M389.39 245.77L392.11 243.05" stroke="#1a1aff" stroke-width="1.43" fill="none"/>
<path d="M395.34 247.92L398.06 250.64M395.34 250.64L398.06 247.92" stroke="#1a1aff" stroke-width="1.43" fill="none"/>
<path d="M401.29 255.11L404.01 257.83M401.29 257.83L404.01 255.11" stroke="#1a1aff" stroke-width="1.43" fill="none"/>
<path d="M407.24 251.11L409.96 253.83M407.24 253.83L409.96 251.11" stroke="#1a1aff" stroke-width="1.43" fill="none"/>
<polyline points="361,257.37 366.95,259.05 372.9,264.65 378.85,261.92 384.8,259 390.75,243.8 396.7,250.6 402.65,256.12 408.6,252.49" fill="none" stroke="#111111" stroke-width="1.6" stroke-linejoin="round" stroke-dasharray="1.52 1.68"/>
<path d="M359.64 256.01L362.36 258.73M359.64 258.73L362.36 256.01" stroke="#111111" stroke-width="1.43" fill="none"/>
<path d="M365.59 257.69L368.31 260.41M365.59 260.41L368.31 257.69" stroke="#111111" stroke-width="1.43" fill="none"/>
<path d="M371.54 263.29L374.26 266.01M371.54 266.01L374.26 263.29" stroke="#111111" stroke-width="1.43" fill="none"/>
<path d="M377.49 260.56L380.21 263.28M377.49 263.28L380.21 260.56" stroke="#111111" stroke-width="1.43" fill="none"/>
<path d="M383.44 257.64L386.16 260.36M383.44 260.36L386.16 257.64" stroke="#111111" stroke-width="1.43" fill="none"/>
<path d="M389.39 242.44L392.11 245.16M389.39 245.16L392.11 242.44" stroke="#111111" stroke-width="1.43" fill="none"/>
<path d="M395.34 249.24L398.06 251.96M395.34 251.96L398.06 249.24" stroke="#111111" stroke-width="1.43" fill="none"/>
<path d="M401.29 254.76L404.01 257.48M401.29 257.48L404.01 254.76" stroke="#111111" stroke-width="1.43" fill="none"/>
<path d="M407.24 251.13L409.96 253.85M407.24 253.85L409.96 251.13" stroke="#111111" stroke-width="1.43" fill="none"/>
<polyline points="361,258.33 366.95,257.27 372.9,262.78 378.85,260.81 384.8,258.25 390.75,244.6 396.7,250.32 402.65,255.1 408.6,254.07" fill="none" stroke="#ff85c4" stroke-width="1.6" stroke-linejoin="round"/>
<rect x="359.3" y="256.63" width="3.4" height="3.4" stroke="#ff85c4" stroke-width="1.1" fill="#ff85c4"/>
<rect x="365.25" y="255.57" width="3.4" height="3.4" stroke="#ff85c4" stroke-width="1.1" fill="#ff85c4"/>
<rect x="371.2" y="261.08" width="3.4" height="3.4" stroke="#ff85c4" stroke-width="1.1" fill="#ff85c4"/>
<rect x="377.15" y="259.11" width="3.4" height="3.4" stroke="#ff85c4" stroke-width="1.1" fill="#ff85c4"/>
<rect x="383.1" y="256.55" width="3.4" height="3.4" stroke="#ff85c4" stroke-width="1.1" fill="#ff85c4"/>
<rect x="389.05" y="242.9" width="3.4" height="3.4" stroke="#ff85c4" stroke-width="1.1" fill="#ff85c4"/>
<rect x="395" y="248.62" width="3.4" height="3.4" stroke="#ff85c4" stroke-width="1.1" fill="#ff85c4"/>
<rect x="400.95" y="253.4" width="3.4" height="3.4" stroke="#ff85c4" stroke-width="1.1" fill="#ff85c4"/>
<rect x="406.9" y="252.37" width="3.4" height="3.4" stroke="#ff85c4" stroke-width="1.1" fill="#ff85c4"/>
<polyline points="361,255.98 366.95,256.57 372.9,262.38 378.85,259.18 384.8,256.99 390.75,243.48 396.7,248.4 402.65,254.68 408.6,252.01" fill="none" stroke="#2bbdbd" stroke-width="1.6" stroke-linejoin="round"/>
<rect x="359.3" y="254.28" width="3.4" height="3.4" stroke="#2bbdbd" stroke-width="1.1" fill="#2bbdbd"/>
<rect x="365.25" y="254.87" width="3.4" height="3.4" stroke="#2bbdbd" stroke-width="1.1" fill="#2bbdbd"/>
<rect x="371.2" y="260.68" width="3.4" height="3.4" stroke="#2bbdbd" stroke-width="1.1" fill="#2bbdbd"/>
<rect x="377.15" y="257.48" width="3.4" height="3.4" stroke="#2bbdbd" stroke-width="1.1" fill="#2bbdbd"/>
<rect x="383.1" y="255.29" width="3.4" height="3.4" stroke="#2bbdbd" stroke-width="1.1" fill="#2bbdbd"/>
<rect x="389.05" y="241.78" width="3.4" height="3.4" stroke="#2bbdbd" stroke-width="1.1" fill="#2bbdbd"/>
<rect x="395" y="246.7" width="3.4" height="3.4" stroke="#2bbdbd" stroke-width="1.1" fill="#2bbdbd"/>
<rect x="400.95" y="252.98" width="3.4" height="3.4" stroke="#2bbdbd" stroke-width="1.1" fill="#2bbdbd"/>
<rect x="406.9" y="250.31" width="3.4" height="3.4" stroke="#2bbdbd" stroke-width="1.1" fill="#2bbdbd"/>
<polyline points="361,257.88 366.95,258.47 372.9,264.28 378.85,261.08 384.8,258.88 390.75,244.78 396.7,249.7 402.65,255.98 408.6,253.31" fill="none" stroke="#174a17" stroke-width="1.6" stroke-linejoin="round"/>
<rect x="359.3" y="256.18" width="3.4" height="3.4" stroke="#174a17" stroke-width="1.1" fill="#174a17"/>
<rect x="365.25" y="256.77" width="3.4" height="3.4" stroke="#174a17" stroke-width="1.1" fill="#174a17"/>
<rect x="371.2" y="262.58" width="3.4" height="3.4" stroke="#174a17" stroke-width="1.1" fill="#174a17"/>
<rect x="377.15" y="259.38" width="3.4" height="3.4" stroke="#174a17" stroke-width="1.1" fill="#174a17"/>
<rect x="383.1" y="257.18" width="3.4" height="3.4" stroke="#174a17" stroke-width="1.1" fill="#174a17"/>
<rect x="389.05" y="243.08" width="3.4" height="3.4" stroke="#174a17" stroke-width="1.1" fill="#174a17"/>
<rect x="395" y="248" width="3.4" height="3.4" stroke="#174a17" stroke-width="1.1" fill="#174a17"/>
<rect x="400.95" y="254.28" width="3.4" height="3.4" stroke="#174a17" stroke-width="1.1" fill="#174a17"/>
<rect x="406.9" y="251.62" width="3.4" height="3.4" stroke="#174a17" stroke-width="1.1" fill="#174a17"/>
</g>
<rect x="360.4" y="238.5" width="44.6" height="32" stroke="#000" stroke-width="1.45" fill="none"/>
<line x1="360.4" y1="242.65" x2="362.9" y2="242.65" stroke="#000" stroke-width="0.9"/>
<line x1="405" y1="242.65" x2="402.5" y2="242.65" stroke="#000" stroke-width="0.9"/>
<line x1="360.4" y1="254.5" x2="362.9" y2="254.5" stroke="#000" stroke-width="0.9"/>
<line x1="405" y1="254.5" x2="402.5" y2="254.5" stroke="#000" stroke-width="0.9"/>
<line x1="360.4" y1="266.35" x2="362.9" y2="266.35" stroke="#000" stroke-width="0.9"/>
<line x1="405" y1="266.35" x2="402.5" y2="266.35" stroke="#000" stroke-width="0.9"/>
<text x="357.8" y="246.35" text-anchor="end" font-size="10.8" fill="#000">20</text>
<text x="357.8" y="258.2" text-anchor="end" font-size="10.8" fill="#000">0</text>
<text x="357.8" y="270.05" text-anchor="end" font-size="10.8" fill="#000">−20</text>
</svg>
</body></html>
